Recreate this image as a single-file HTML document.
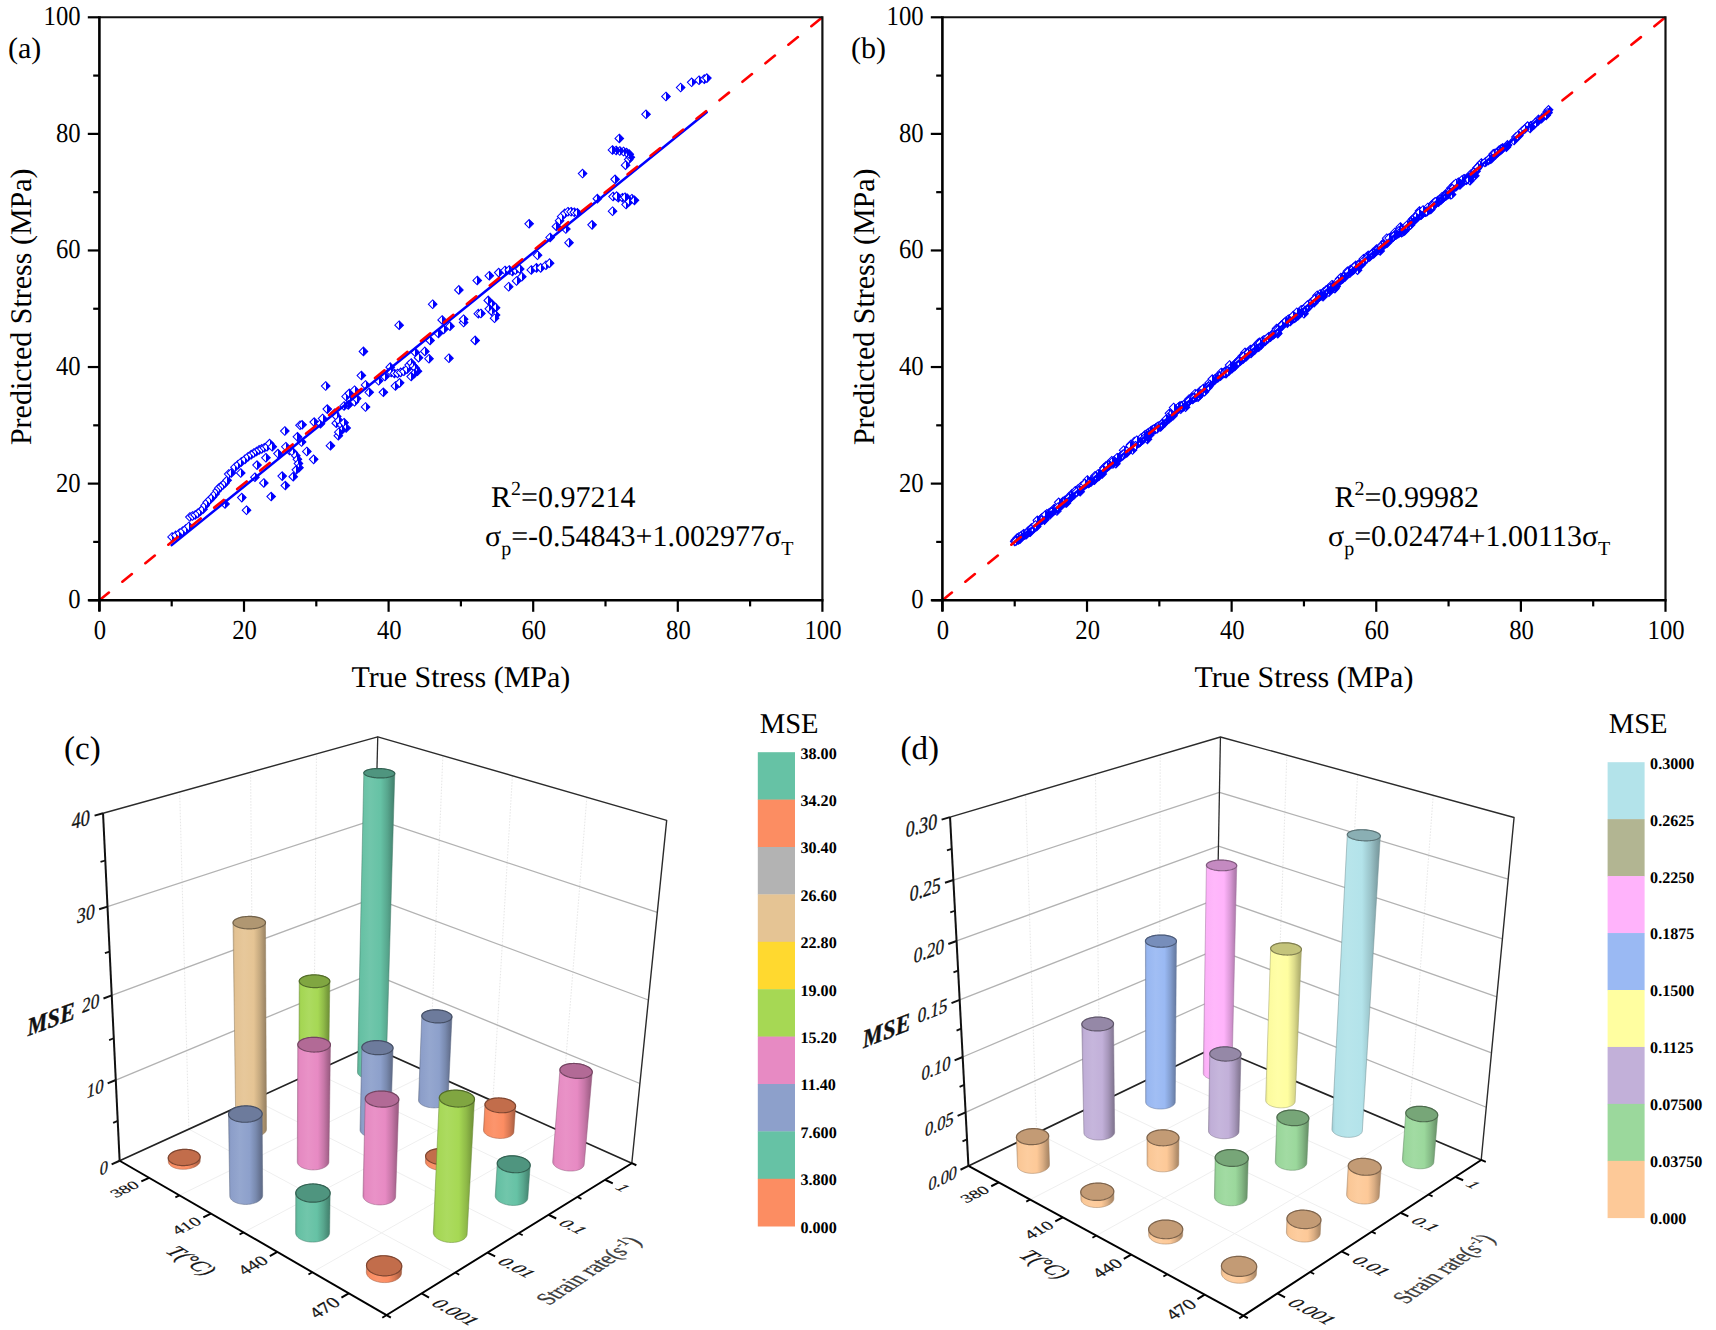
<!DOCTYPE html>
<html lang="en"><head><meta charset="utf-8"><title>Predicted vs true stress and MSE</title>
<style>html,body{margin:0;padding:0;background:#fff}body{width:1716px;height:1330px;overflow:hidden;font-family:"Liberation Serif", "DejaVu Serif", serif}svg{display:block}</style>
</head><body>
<svg width="1716" height="1330" viewBox="0 0 1716 1330" font-family='"Liberation Serif", "DejaVu Serif", serif' text-rendering="geometricPrecision">
<defs>
<linearGradient id="half" x1="0" y1="0" x2="1" y2="0"><stop offset="0.5" stop-color="#fff"/><stop offset="0.5" stop-color="#0000ff"/></linearGradient>
<linearGradient id="gc12" gradientUnits="userSpaceOnUse" x1="357.49" y1="0" x2="394.77" y2="0"><stop offset="0" stop-color="#5caf94"/><stop offset="0.07" stop-color="#65c0a3"/><stop offset="0.33" stop-color="#71c6ab"/><stop offset="0.62" stop-color="#66c2a5"/><stop offset="0.80" stop-color="#58a78e"/><stop offset="0.93" stop-color="#498c77"/><stop offset="1" stop-color="#43806d"/></linearGradient>
<linearGradient id="gc8" gradientUnits="userSpaceOnUse" x1="298.74" y1="0" x2="329.82" y2="0"><stop offset="0" stop-color="#95c24c"/><stop offset="0.07" stop-color="#a4d653"/><stop offset="0.33" stop-color="#acdb60"/><stop offset="0.62" stop-color="#a6d854"/><stop offset="0.80" stop-color="#8fba48"/><stop offset="0.93" stop-color="#789c3c"/><stop offset="1" stop-color="#6e8f37"/></linearGradient>
<linearGradient id="gc13" gradientUnits="userSpaceOnUse" x1="418.53" y1="0" x2="451.95" y2="0"><stop offset="0" stop-color="#7f90b7"/><stop offset="0.07" stop-color="#8c9ec9"/><stop offset="0.33" stop-color="#95a7cf"/><stop offset="0.62" stop-color="#8da0cb"/><stop offset="0.80" stop-color="#798aaf"/><stop offset="0.93" stop-color="#667392"/><stop offset="1" stop-color="#5d6a86"/></linearGradient>
<linearGradient id="gc4" gradientUnits="userSpaceOnUse" x1="233.03" y1="0" x2="266.49" y2="0"><stop offset="0" stop-color="#ceb085"/><stop offset="0.07" stop-color="#e3c293"/><stop offset="0.33" stop-color="#e7c89b"/><stop offset="0.62" stop-color="#e5c494"/><stop offset="0.80" stop-color="#c5a97f"/><stop offset="0.93" stop-color="#a58d6b"/><stop offset="1" stop-color="#978162"/></linearGradient>
<linearGradient id="gc9" gradientUnits="userSpaceOnUse" x1="360.04" y1="0" x2="393.05" y2="0"><stop offset="0" stop-color="#7f90b7"/><stop offset="0.07" stop-color="#8c9ec9"/><stop offset="0.33" stop-color="#95a7cf"/><stop offset="0.62" stop-color="#8da0cb"/><stop offset="0.80" stop-color="#798aaf"/><stop offset="0.93" stop-color="#667392"/><stop offset="1" stop-color="#5d6a86"/></linearGradient>
<linearGradient id="gc14" gradientUnits="userSpaceOnUse" x1="483.46" y1="0" x2="515.58" y2="0"><stop offset="0" stop-color="#e37f58"/><stop offset="0.07" stop-color="#f98c61"/><stop offset="0.33" stop-color="#fc956d"/><stop offset="0.62" stop-color="#fc8d62"/><stop offset="0.80" stop-color="#d97954"/><stop offset="0.93" stop-color="#b56647"/><stop offset="1" stop-color="#a65d41"/></linearGradient>
<linearGradient id="gc0" gradientUnits="userSpaceOnUse" x1="168.23" y1="0" x2="200.22" y2="0"><stop offset="0" stop-color="#e37f58"/><stop offset="0.07" stop-color="#f98c61"/><stop offset="0.33" stop-color="#fc956d"/><stop offset="0.62" stop-color="#fc8d62"/><stop offset="0.80" stop-color="#d97954"/><stop offset="0.93" stop-color="#b56647"/><stop offset="1" stop-color="#a65d41"/></linearGradient>
<linearGradient id="gc5" gradientUnits="userSpaceOnUse" x1="297.29" y1="0" x2="330.45" y2="0"><stop offset="0" stop-color="#d07cb0"/><stop offset="0.07" stop-color="#e589c1"/><stop offset="0.33" stop-color="#e992c7"/><stop offset="0.62" stop-color="#e78ac3"/><stop offset="0.80" stop-color="#c777a8"/><stop offset="0.93" stop-color="#a6638c"/><stop offset="1" stop-color="#985b81"/></linearGradient>
<linearGradient id="gc10" gradientUnits="userSpaceOnUse" x1="425.4" y1="0" x2="457.17" y2="0"><stop offset="0" stop-color="#e37f58"/><stop offset="0.07" stop-color="#f98c61"/><stop offset="0.33" stop-color="#fc956d"/><stop offset="0.62" stop-color="#fc8d62"/><stop offset="0.80" stop-color="#d97954"/><stop offset="0.93" stop-color="#b56647"/><stop offset="1" stop-color="#a65d41"/></linearGradient>
<linearGradient id="gc15" gradientUnits="userSpaceOnUse" x1="552.69" y1="0" x2="592.28" y2="0"><stop offset="0" stop-color="#d07cb0"/><stop offset="0.07" stop-color="#e589c1"/><stop offset="0.33" stop-color="#e992c7"/><stop offset="0.62" stop-color="#e78ac3"/><stop offset="0.80" stop-color="#c777a8"/><stop offset="0.93" stop-color="#a6638c"/><stop offset="1" stop-color="#985b81"/></linearGradient>
<linearGradient id="gc1" gradientUnits="userSpaceOnUse" x1="228.53" y1="0" x2="262.66" y2="0"><stop offset="0" stop-color="#7f90b7"/><stop offset="0.07" stop-color="#8c9ec9"/><stop offset="0.33" stop-color="#95a7cf"/><stop offset="0.62" stop-color="#8da0cb"/><stop offset="0.80" stop-color="#798aaf"/><stop offset="0.93" stop-color="#667392"/><stop offset="1" stop-color="#5d6a86"/></linearGradient>
<linearGradient id="gc6" gradientUnits="userSpaceOnUse" x1="362.96" y1="0" x2="398.82" y2="0"><stop offset="0" stop-color="#d07cb0"/><stop offset="0.07" stop-color="#e589c1"/><stop offset="0.33" stop-color="#e992c7"/><stop offset="0.62" stop-color="#e78ac3"/><stop offset="0.80" stop-color="#c777a8"/><stop offset="0.93" stop-color="#a6638c"/><stop offset="1" stop-color="#985b81"/></linearGradient>
<linearGradient id="gc11" gradientUnits="userSpaceOnUse" x1="495.23" y1="0" x2="530.19" y2="0"><stop offset="0" stop-color="#5caf94"/><stop offset="0.07" stop-color="#65c0a3"/><stop offset="0.33" stop-color="#71c6ab"/><stop offset="0.62" stop-color="#66c2a5"/><stop offset="0.80" stop-color="#58a78e"/><stop offset="0.93" stop-color="#498c77"/><stop offset="1" stop-color="#43806d"/></linearGradient>
<linearGradient id="gc2" gradientUnits="userSpaceOnUse" x1="295.63" y1="0" x2="330.14" y2="0"><stop offset="0" stop-color="#5caf94"/><stop offset="0.07" stop-color="#65c0a3"/><stop offset="0.33" stop-color="#71c6ab"/><stop offset="0.62" stop-color="#66c2a5"/><stop offset="0.80" stop-color="#58a78e"/><stop offset="0.93" stop-color="#498c77"/><stop offset="1" stop-color="#43806d"/></linearGradient>
<linearGradient id="gc7" gradientUnits="userSpaceOnUse" x1="433.3" y1="0" x2="474.51" y2="0"><stop offset="0" stop-color="#95c24c"/><stop offset="0.07" stop-color="#a4d653"/><stop offset="0.33" stop-color="#acdb60"/><stop offset="0.62" stop-color="#a6d854"/><stop offset="0.80" stop-color="#8fba48"/><stop offset="0.93" stop-color="#789c3c"/><stop offset="1" stop-color="#6e8f37"/></linearGradient>
<linearGradient id="gc3" gradientUnits="userSpaceOnUse" x1="366.34" y1="0" x2="401.75" y2="0"><stop offset="0" stop-color="#e37f58"/><stop offset="0.07" stop-color="#f98c61"/><stop offset="0.33" stop-color="#fc956d"/><stop offset="0.62" stop-color="#fc8d62"/><stop offset="0.80" stop-color="#d97954"/><stop offset="0.93" stop-color="#b56647"/><stop offset="1" stop-color="#a65d41"/></linearGradient>
<linearGradient id="gd12" gradientUnits="userSpaceOnUse" x1="1203.29" y1="0" x2="1236.72" y2="0"><stop offset="0" stop-color="#e6a1e2"/><stop offset="0.07" stop-color="#fcb1f8"/><stop offset="0.33" stop-color="#ffb8fb"/><stop offset="0.62" stop-color="#ffb3fb"/><stop offset="0.80" stop-color="#db9ad8"/><stop offset="0.93" stop-color="#b881b5"/><stop offset="1" stop-color="#a876a6"/></linearGradient>
<linearGradient id="gd8" gradientUnits="userSpaceOnUse" x1="1145.44" y1="0" x2="1176.44" y2="0"><stop offset="0" stop-color="#8ba6db"/><stop offset="0.07" stop-color="#98b7f1"/><stop offset="0.33" stop-color="#a1bef4"/><stop offset="0.62" stop-color="#9ab9f3"/><stop offset="0.80" stop-color="#849fd1"/><stop offset="0.93" stop-color="#6f85af"/><stop offset="1" stop-color="#667aa0"/></linearGradient>
<linearGradient id="gd13" gradientUnits="userSpaceOnUse" x1="1265.67" y1="0" x2="1301.44" y2="0"><stop offset="0" stop-color="#e6e590"/><stop offset="0.07" stop-color="#fcfb9e"/><stop offset="0.33" stop-color="#fffea7"/><stop offset="0.62" stop-color="#fffea0"/><stop offset="0.80" stop-color="#dbda8a"/><stop offset="0.93" stop-color="#b8b773"/><stop offset="1" stop-color="#a8a86a"/></linearGradient>
<linearGradient id="gd4" gradientUnits="userSpaceOnUse" x1="1081.82" y1="0" x2="1114.64" y2="0"><stop offset="0" stop-color="#af9ec3"/><stop offset="0.07" stop-color="#c0aed7"/><stop offset="0.33" stop-color="#c6b6dc"/><stop offset="0.62" stop-color="#c2b0d9"/><stop offset="0.80" stop-color="#a797bb"/><stop offset="0.93" stop-color="#8c7f9c"/><stop offset="1" stop-color="#80748f"/></linearGradient>
<linearGradient id="gd9" gradientUnits="userSpaceOnUse" x1="1208.48" y1="0" x2="1240.98" y2="0"><stop offset="0" stop-color="#af9ec3"/><stop offset="0.07" stop-color="#c0aed7"/><stop offset="0.33" stop-color="#c6b6dc"/><stop offset="0.62" stop-color="#c2b0d9"/><stop offset="0.80" stop-color="#a797bb"/><stop offset="0.93" stop-color="#8c7f9c"/><stop offset="1" stop-color="#80748f"/></linearGradient>
<linearGradient id="gd14" gradientUnits="userSpaceOnUse" x1="1331.91" y1="0" x2="1380.33" y2="0"><stop offset="0" stop-color="#a1ccd3"/><stop offset="0.07" stop-color="#b1e1e8"/><stop offset="0.33" stop-color="#b8e5eb"/><stop offset="0.62" stop-color="#b3e3ea"/><stop offset="0.80" stop-color="#9ac3c9"/><stop offset="0.93" stop-color="#81a3a8"/><stop offset="1" stop-color="#76969a"/></linearGradient>
<linearGradient id="gd0" gradientUnits="userSpaceOnUse" x1="1016.42" y1="0" x2="1049.52" y2="0"><stop offset="0" stop-color="#e4b589"/><stop offset="0.07" stop-color="#fac796"/><stop offset="0.33" stop-color="#fdcd9f"/><stop offset="0.62" stop-color="#fdc998"/><stop offset="0.80" stop-color="#daad83"/><stop offset="0.93" stop-color="#b6916d"/><stop offset="1" stop-color="#a78564"/></linearGradient>
<linearGradient id="gd5" gradientUnits="userSpaceOnUse" x1="1147.02" y1="0" x2="1178.95" y2="0"><stop offset="0" stop-color="#e4b589"/><stop offset="0.07" stop-color="#fac796"/><stop offset="0.33" stop-color="#fdcd9f"/><stop offset="0.62" stop-color="#fdc998"/><stop offset="0.80" stop-color="#daad83"/><stop offset="0.93" stop-color="#b6916d"/><stop offset="1" stop-color="#a78564"/></linearGradient>
<linearGradient id="gd10" gradientUnits="userSpaceOnUse" x1="1275.32" y1="0" x2="1308.87" y2="0"><stop offset="0" stop-color="#8cc28c"/><stop offset="0.07" stop-color="#99d69a"/><stop offset="0.33" stop-color="#a2dba3"/><stop offset="0.62" stop-color="#9bd89c"/><stop offset="0.80" stop-color="#85ba86"/><stop offset="0.93" stop-color="#709c70"/><stop offset="1" stop-color="#668f67"/></linearGradient>
<linearGradient id="gd15" gradientUnits="userSpaceOnUse" x1="1402.38" y1="0" x2="1437.73" y2="0"><stop offset="0" stop-color="#8cc28c"/><stop offset="0.07" stop-color="#99d69a"/><stop offset="0.33" stop-color="#a2dba3"/><stop offset="0.62" stop-color="#9bd89c"/><stop offset="0.80" stop-color="#85ba86"/><stop offset="0.93" stop-color="#709c70"/><stop offset="1" stop-color="#668f67"/></linearGradient>
<linearGradient id="gd1" gradientUnits="userSpaceOnUse" x1="1080.76" y1="0" x2="1113.88" y2="0"><stop offset="0" stop-color="#e4b589"/><stop offset="0.07" stop-color="#fac796"/><stop offset="0.33" stop-color="#fdcd9f"/><stop offset="0.62" stop-color="#fdc998"/><stop offset="0.80" stop-color="#daad83"/><stop offset="0.93" stop-color="#b6916d"/><stop offset="1" stop-color="#a78564"/></linearGradient>
<linearGradient id="gd6" gradientUnits="userSpaceOnUse" x1="1214.42" y1="0" x2="1248.24" y2="0"><stop offset="0" stop-color="#8cc28c"/><stop offset="0.07" stop-color="#99d69a"/><stop offset="0.33" stop-color="#a2dba3"/><stop offset="0.62" stop-color="#9bd89c"/><stop offset="0.80" stop-color="#85ba86"/><stop offset="0.93" stop-color="#709c70"/><stop offset="1" stop-color="#668f67"/></linearGradient>
<linearGradient id="gd11" gradientUnits="userSpaceOnUse" x1="1346.6" y1="0" x2="1381.12" y2="0"><stop offset="0" stop-color="#e4b589"/><stop offset="0.07" stop-color="#fac796"/><stop offset="0.33" stop-color="#fdcd9f"/><stop offset="0.62" stop-color="#fdc998"/><stop offset="0.80" stop-color="#daad83"/><stop offset="0.93" stop-color="#b6916d"/><stop offset="1" stop-color="#a78564"/></linearGradient>
<linearGradient id="gd2" gradientUnits="userSpaceOnUse" x1="1148.65" y1="0" x2="1182.74" y2="0"><stop offset="0" stop-color="#e4b589"/><stop offset="0.07" stop-color="#fac796"/><stop offset="0.33" stop-color="#fdcd9f"/><stop offset="0.62" stop-color="#fdc998"/><stop offset="0.80" stop-color="#daad83"/><stop offset="0.93" stop-color="#b6916d"/><stop offset="1" stop-color="#a78564"/></linearGradient>
<linearGradient id="gd7" gradientUnits="userSpaceOnUse" x1="1286.4" y1="0" x2="1320.93" y2="0"><stop offset="0" stop-color="#e4b589"/><stop offset="0.07" stop-color="#fac796"/><stop offset="0.33" stop-color="#fdcd9f"/><stop offset="0.62" stop-color="#fdc998"/><stop offset="0.80" stop-color="#daad83"/><stop offset="0.93" stop-color="#b6916d"/><stop offset="1" stop-color="#a78564"/></linearGradient>
<linearGradient id="gd3" gradientUnits="userSpaceOnUse" x1="1221.27" y1="0" x2="1256.71" y2="0"><stop offset="0" stop-color="#e4b589"/><stop offset="0.07" stop-color="#fac796"/><stop offset="0.33" stop-color="#fdcd9f"/><stop offset="0.62" stop-color="#fdc998"/><stop offset="0.80" stop-color="#daad83"/><stop offset="0.93" stop-color="#b6916d"/><stop offset="1" stop-color="#a78564"/></linearGradient>
</defs>
<rect width="1716" height="1330" fill="#fff"/>
<g font-family='"Liberation Serif", "DejaVu Serif", serif'>
<g fill="url(#half)" stroke="#0000ff" stroke-width="1.05"><path d="M172.06,532.66l4.3,4.3l-4.3,4.3l-4.3,-4.3z"/><path d="M175.73,531.08l4.3,4.3l-4.3,4.3l-4.3,-4.3z"/><path d="M179.41,528.99l4.3,4.3l-4.3,4.3l-4.3,-4.3z"/><path d="M182.55,526.89l4.3,4.3l-4.3,4.3l-4.3,-4.3z"/><path d="M185.7,524.79l4.3,4.3l-4.3,4.3l-4.3,-4.3z"/><path d="M188.85,522.17l4.3,4.3l-4.3,4.3l-4.3,-4.3z"/><path d="M189.9,512.73l4.3,4.3l-4.3,4.3l-4.3,-4.3z"/><path d="M192.52,511.68l4.3,4.3l-4.3,4.3l-4.3,-4.3z"/><path d="M195.14,510.63l4.3,4.3l-4.3,4.3l-4.3,-4.3z"/><path d="M197.76,509.06l4.3,4.3l-4.3,4.3l-4.3,-4.3z"/><path d="M200.38,506.96l4.3,4.3l-4.3,4.3l-4.3,-4.3z"/><path d="M203.01,504.86l4.3,4.3l-4.3,4.3l-4.3,-4.3z"/><path d="M205.1,501.19l4.3,4.3l-4.3,4.3l-4.3,-4.3z"/><path d="M207.2,498.04l4.3,4.3l-4.3,4.3l-4.3,-4.3z"/><path d="M209.83,495.42l4.3,4.3l-4.3,4.3l-4.3,-4.3z"/><path d="M212.45,492.8l4.3,4.3l-4.3,4.3l-4.3,-4.3z"/><path d="M215.07,489.65l4.3,4.3l-4.3,4.3l-4.3,-4.3z"/><path d="M217.17,486.5l4.3,4.3l-4.3,4.3l-4.3,-4.3z"/><path d="M218.74,483.88l4.3,4.3l-4.3,4.3l-4.3,-4.3z"/><path d="M220.84,482.31l4.3,4.3l-4.3,4.3l-4.3,-4.3z"/><path d="M222.94,480.73l4.3,4.3l-4.3,4.3l-4.3,-4.3z"/><path d="M225.03,478.64l4.3,4.3l-4.3,4.3l-4.3,-4.3z"/><path d="M227.13,476.01l4.3,4.3l-4.3,4.3l-4.3,-4.3z"/><path d="M228.71,469.72l4.3,4.3l-4.3,4.3l-4.3,-4.3z"/><path d="M231.33,468.67l4.3,4.3l-4.3,4.3l-4.3,-4.3z"/><path d="M235,462.9l4.3,4.3l-4.3,4.3l-4.3,-4.3z"/><path d="M238.15,460.28l4.3,4.3l-4.3,4.3l-4.3,-4.3z"/><path d="M241.29,457.66l4.3,4.3l-4.3,4.3l-4.3,-4.3z"/><path d="M244.97,455.04l4.3,4.3l-4.3,4.3l-4.3,-4.3z"/><path d="M248.11,452.41l4.3,4.3l-4.3,4.3l-4.3,-4.3z"/><path d="M251.26,450.32l4.3,4.3l-4.3,4.3l-4.3,-4.3z"/><path d="M253.88,448.74l4.3,4.3l-4.3,4.3l-4.3,-4.3z"/><path d="M256.5,447.17l4.3,4.3l-4.3,4.3l-4.3,-4.3z"/><path d="M259.13,445.6l4.3,4.3l-4.3,4.3l-4.3,-4.3z"/><path d="M261.75,444.55l4.3,4.3l-4.3,4.3l-4.3,-4.3z"/><path d="M264.37,443.5l4.3,4.3l-4.3,4.3l-4.3,-4.3z"/><path d="M266.99,442.45l4.3,4.3l-4.3,4.3l-4.3,-4.3z"/><path d="M269.62,439.3l4.3,4.3l-4.3,4.3l-4.3,-4.3z"/><path d="M272.24,442.45l4.3,4.3l-4.3,4.3l-4.3,-4.3z"/><path d="M240.77,468.67l4.3,4.3l-4.3,4.3l-4.3,-4.3z"/><path d="M257.03,460.8l4.3,4.3l-4.3,4.3l-4.3,-4.3z"/><path d="M265.94,453.46l4.3,4.3l-4.3,4.3l-4.3,-4.3z"/><path d="M278.01,449.27l4.3,4.3l-4.3,4.3l-4.3,-4.3z"/><path d="M284.83,426.71l4.3,4.3l-4.3,4.3l-4.3,-4.3z"/><path d="M300.03,420.94l4.3,4.3l-4.3,4.3l-4.3,-4.3z"/><path d="M297.41,432.48l4.3,4.3l-4.3,4.3l-4.3,-4.3z"/><path d="M301.61,437.73l4.3,4.3l-4.3,4.3l-4.3,-4.3z"/><path d="M306.85,447.17l4.3,4.3l-4.3,4.3l-4.3,-4.3z"/><path d="M313.67,455.04l4.3,4.3l-4.3,4.3l-4.3,-4.3z"/><path d="M330.45,441.4l4.3,4.3l-4.3,4.3l-4.3,-4.3z"/><path d="M254.93,472.87l4.3,4.3l-4.3,4.3l-4.3,-4.3z"/><path d="M263.85,478.64l4.3,4.3l-4.3,4.3l-4.3,-4.3z"/><path d="M282.2,471.82l4.3,4.3l-4.3,4.3l-4.3,-4.3z"/><path d="M293.22,472.34l4.3,4.3l-4.3,4.3l-4.3,-4.3z"/><path d="M285.35,481.26l4.3,4.3l-4.3,4.3l-4.3,-4.3z"/><path d="M271.19,492.27l4.3,4.3l-4.3,4.3l-4.3,-4.3z"/><path d="M241.82,493.32l4.3,4.3l-4.3,4.3l-4.3,-4.3z"/><path d="M225.03,499.62l4.3,4.3l-4.3,4.3l-4.3,-4.3z"/><path d="M246.54,505.91l4.3,4.3l-4.3,4.3l-4.3,-4.3z"/><path d="M285.87,442.45l4.3,4.3l-4.3,4.3l-4.3,-4.3z"/><path d="M289.55,446.12l4.3,4.3l-4.3,4.3l-4.3,-4.3z"/><path d="M293.22,448.22l4.3,4.3l-4.3,4.3l-4.3,-4.3z"/><path d="M295.84,451.36l4.3,4.3l-4.3,4.3l-4.3,-4.3z"/><path d="M297.41,455.04l4.3,4.3l-4.3,4.3l-4.3,-4.3z"/><path d="M298.46,459.23l4.3,4.3l-4.3,4.3l-4.3,-4.3z"/><path d="M298.99,463.43l4.3,4.3l-4.3,4.3l-4.3,-4.3z"/><path d="M296.36,465.53l4.3,4.3l-4.3,4.3l-4.3,-4.3z"/><path d="M314.2,417.8l4.3,4.3l-4.3,4.3l-4.3,-4.3z"/><path d="M320.49,419.37l4.3,4.3l-4.3,4.3l-4.3,-4.3z"/><path d="M336.22,418.85l4.3,4.3l-4.3,4.3l-4.3,-4.3z"/><path d="M338.32,431.43l4.3,4.3l-4.3,4.3l-4.3,-4.3z"/><path d="M302.1,420.53l4.3,4.3l-4.3,4.3l-4.3,-4.3z"/><path d="M322.55,414.23l4.3,4.3l-4.3,4.3l-4.3,-4.3z"/><path d="M327.27,404.79l4.3,4.3l-4.3,4.3l-4.3,-4.3z"/><path d="M325.7,381.71l4.3,4.3l-4.3,4.3l-4.3,-4.3z"/><path d="M361.36,371.22l4.3,4.3l-4.3,4.3l-4.3,-4.3z"/><path d="M363.46,347.1l4.3,4.3l-4.3,4.3l-4.3,-4.3z"/><path d="M399.13,320.87l4.3,4.3l-4.3,4.3l-4.3,-4.3z"/><path d="M432.69,299.9l4.3,4.3l-4.3,4.3l-4.3,-4.3z"/><path d="M442.13,315.63l4.3,4.3l-4.3,4.3l-4.3,-4.3z"/><path d="M463.64,318.25l4.3,4.3l-4.3,4.3l-4.3,-4.3z"/><path d="M475.17,336.08l4.3,4.3l-4.3,4.3l-4.3,-4.3z"/><path d="M448.95,353.92l4.3,4.3l-4.3,4.3l-4.3,-4.3z"/><path d="M478.32,309.34l4.3,4.3l-4.3,4.3l-4.3,-4.3z"/><path d="M334.62,408.99l4.3,4.3l-4.3,4.3l-4.3,-4.3z"/><path d="M336.71,412.13l4.3,4.3l-4.3,4.3l-4.3,-4.3z"/><path d="M338.81,416.33l4.3,4.3l-4.3,4.3l-4.3,-4.3z"/><path d="M341.43,420.53l4.3,4.3l-4.3,4.3l-4.3,-4.3z"/><path d="M344.06,418.43l4.3,4.3l-4.3,4.3l-4.3,-4.3z"/><path d="M346.15,423.67l4.3,4.3l-4.3,4.3l-4.3,-4.3z"/><path d="M341.96,425.77l4.3,4.3l-4.3,4.3l-4.3,-4.3z"/><path d="M338.81,427.87l4.3,4.3l-4.3,4.3l-4.3,-4.3z"/><path d="M346.15,392.2l4.3,4.3l-4.3,4.3l-4.3,-4.3z"/><path d="M349.3,389.06l4.3,4.3l-4.3,4.3l-4.3,-4.3z"/><path d="M354.55,385.91l4.3,4.3l-4.3,4.3l-4.3,-4.3z"/><path d="M350.35,396.4l4.3,4.3l-4.3,4.3l-4.3,-4.3z"/><path d="M354.55,397.45l4.3,4.3l-4.3,4.3l-4.3,-4.3z"/><path d="M348.25,400.6l4.3,4.3l-4.3,4.3l-4.3,-4.3z"/><path d="M344.06,401.64l4.3,4.3l-4.3,4.3l-4.3,-4.3z"/><path d="M356.64,394.3l4.3,4.3l-4.3,4.3l-4.3,-4.3z"/><path d="M365.56,380.67l4.3,4.3l-4.3,4.3l-4.3,-4.3z"/><path d="M369.23,388.01l4.3,4.3l-4.3,4.3l-4.3,-4.3z"/><path d="M383.39,388.01l4.3,4.3l-4.3,4.3l-4.3,-4.3z"/><path d="M365.56,402.69l4.3,4.3l-4.3,4.3l-4.3,-4.3z"/><path d="M378.67,376.47l4.3,4.3l-4.3,4.3l-4.3,-4.3z"/><path d="M384.97,372.27l4.3,4.3l-4.3,4.3l-4.3,-4.3z"/><path d="M390.21,362.83l4.3,4.3l-4.3,4.3l-4.3,-4.3z"/><path d="M391.26,368.08l4.3,4.3l-4.3,4.3l-4.3,-4.3z"/><path d="M394.41,369.13l4.3,4.3l-4.3,4.3l-4.3,-4.3z"/><path d="M397.55,369.13l4.3,4.3l-4.3,4.3l-4.3,-4.3z"/><path d="M400.7,368.08l4.3,4.3l-4.3,4.3l-4.3,-4.3z"/><path d="M403.85,367.03l4.3,4.3l-4.3,4.3l-4.3,-4.3z"/><path d="M406.99,364.93l4.3,4.3l-4.3,4.3l-4.3,-4.3z"/><path d="M409.09,360.73l4.3,4.3l-4.3,4.3l-4.3,-4.3z"/><path d="M411.19,358.64l4.3,4.3l-4.3,4.3l-4.3,-4.3z"/><path d="M413.29,361.78l4.3,4.3l-4.3,4.3l-4.3,-4.3z"/><path d="M415.38,363.88l4.3,4.3l-4.3,4.3l-4.3,-4.3z"/><path d="M417.48,367.03l4.3,4.3l-4.3,4.3l-4.3,-4.3z"/><path d="M414.34,369.13l4.3,4.3l-4.3,4.3l-4.3,-4.3z"/><path d="M411.19,372.27l4.3,4.3l-4.3,4.3l-4.3,-4.3z"/><path d="M395.45,381.71l4.3,4.3l-4.3,4.3l-4.3,-4.3z"/><path d="M399.65,378.57l4.3,4.3l-4.3,4.3l-4.3,-4.3z"/><path d="M415.38,348.15l4.3,4.3l-4.3,4.3l-4.3,-4.3z"/><path d="M418.53,353.39l4.3,4.3l-4.3,4.3l-4.3,-4.3z"/><path d="M424.83,347.1l4.3,4.3l-4.3,4.3l-4.3,-4.3z"/><path d="M429.02,354.44l4.3,4.3l-4.3,4.3l-4.3,-4.3z"/><path d="M430.07,336.08l4.3,4.3l-4.3,4.3l-4.3,-4.3z"/><path d="M438.46,329.27l4.3,4.3l-4.3,4.3l-4.3,-4.3z"/><path d="M443.71,325.07l4.3,4.3l-4.3,4.3l-4.3,-4.3z"/><path d="M450,321.92l4.3,4.3l-4.3,4.3l-4.3,-4.3z"/><path d="M458.88,285.6l4.3,4.3l-4.3,4.3l-4.3,-4.3z"/><path d="M477.24,276.15l4.3,4.3l-4.3,4.3l-4.3,-4.3z"/><path d="M489.3,271.43l4.3,4.3l-4.3,4.3l-4.3,-4.3z"/><path d="M498.74,268.29l4.3,4.3l-4.3,4.3l-4.3,-4.3z"/><path d="M505.03,266.19l4.3,4.3l-4.3,4.3l-4.3,-4.3z"/><path d="M509.23,265.67l4.3,4.3l-4.3,4.3l-4.3,-4.3z"/><path d="M512.38,267.24l4.3,4.3l-4.3,4.3l-4.3,-4.3z"/><path d="M515.52,265.67l4.3,4.3l-4.3,4.3l-4.3,-4.3z"/><path d="M519.72,264.62l4.3,4.3l-4.3,4.3l-4.3,-4.3z"/><path d="M508.71,282.45l4.3,4.3l-4.3,4.3l-4.3,-4.3z"/><path d="M516.57,276.68l4.3,4.3l-4.3,4.3l-4.3,-4.3z"/><path d="M521.82,272.48l4.3,4.3l-4.3,4.3l-4.3,-4.3z"/><path d="M531.26,265.67l4.3,4.3l-4.3,4.3l-4.3,-4.3z"/><path d="M536.5,263.57l4.3,4.3l-4.3,4.3l-4.3,-4.3z"/><path d="M540.7,263.57l4.3,4.3l-4.3,4.3l-4.3,-4.3z"/><path d="M545.94,260.94l4.3,4.3l-4.3,4.3l-4.3,-4.3z"/><path d="M549.62,258.85l4.3,4.3l-4.3,4.3l-4.3,-4.3z"/><path d="M537.55,250.98l4.3,4.3l-4.3,4.3l-4.3,-4.3z"/><path d="M550.14,233.15l4.3,4.3l-4.3,4.3l-4.3,-4.3z"/><path d="M529.16,219.51l4.3,4.3l-4.3,4.3l-4.3,-4.3z"/><path d="M569.02,238.39l4.3,4.3l-4.3,4.3l-4.3,-4.3z"/><path d="M565.87,224.76l4.3,4.3l-4.3,4.3l-4.3,-4.3z"/><path d="M556.43,222.13l4.3,4.3l-4.3,4.3l-4.3,-4.3z"/><path d="M559.58,216.36l4.3,4.3l-4.3,4.3l-4.3,-4.3z"/><path d="M561.68,212.17l4.3,4.3l-4.3,4.3l-4.3,-4.3z"/><path d="M564.83,209.02l4.3,4.3l-4.3,4.3l-4.3,-4.3z"/><path d="M567.97,207.45l4.3,4.3l-4.3,4.3l-4.3,-4.3z"/><path d="M571.12,207.45l4.3,4.3l-4.3,4.3l-4.3,-4.3z"/><path d="M574.27,207.97l4.3,4.3l-4.3,4.3l-4.3,-4.3z"/><path d="M577.41,208.5l4.3,4.3l-4.3,4.3l-4.3,-4.3z"/><path d="M592.1,220.56l4.3,4.3l-4.3,4.3l-4.3,-4.3z"/><path d="M612.55,206.92l4.3,4.3l-4.3,4.3l-4.3,-4.3z"/><path d="M597.34,194.34l4.3,4.3l-4.3,4.3l-4.3,-4.3z"/><path d="M613.08,192.24l4.3,4.3l-4.3,4.3l-4.3,-4.3z"/><path d="M618.32,193.29l4.3,4.3l-4.3,4.3l-4.3,-4.3z"/><path d="M488.25,296.08l4.3,4.3l-4.3,4.3l-4.3,-4.3z"/><path d="M492.45,300.28l4.3,4.3l-4.3,4.3l-4.3,-4.3z"/><path d="M495.59,303.43l4.3,4.3l-4.3,4.3l-4.3,-4.3z"/><path d="M489.3,304.48l4.3,4.3l-4.3,4.3l-4.3,-4.3z"/><path d="M480.91,309.2l4.3,4.3l-4.3,4.3l-4.3,-4.3z"/><path d="M492.45,307.62l4.3,4.3l-4.3,4.3l-4.3,-4.3z"/><path d="M495.59,310.77l4.3,4.3l-4.3,4.3l-4.3,-4.3z"/><path d="M494.55,313.92l4.3,4.3l-4.3,4.3l-4.3,-4.3z"/><path d="M463.6,314.97l4.3,4.3l-4.3,4.3l-4.3,-4.3z"/><path d="M582.59,169.27l4.3,4.3l-4.3,4.3l-4.3,-4.3z"/><path d="M615.1,175.04l4.3,4.3l-4.3,4.3l-4.3,-4.3z"/><path d="M625.59,160.87l4.3,4.3l-4.3,4.3l-4.3,-4.3z"/><path d="M619.3,134.13l4.3,4.3l-4.3,4.3l-4.3,-4.3z"/><path d="M646.05,110l4.3,4.3l-4.3,4.3l-4.3,-4.3z"/><path d="M665.98,92.17l4.3,4.3l-4.3,4.3l-4.3,-4.3z"/><path d="M680.66,83.25l4.3,4.3l-4.3,4.3l-4.3,-4.3z"/><path d="M691.68,78.01l4.3,4.3l-4.3,4.3l-4.3,-4.3z"/><path d="M699.02,75.91l4.3,4.3l-4.3,4.3l-4.3,-4.3z"/><path d="M704.27,74.86l4.3,4.3l-4.3,4.3l-4.3,-4.3z"/><path d="M706.89,73.81l4.3,4.3l-4.3,4.3l-4.3,-4.3z"/><path d="M628.74,155.11l4.3,4.3l-4.3,4.3l-4.3,-4.3z"/><path d="M630.31,153.01l4.3,4.3l-4.3,4.3l-4.3,-4.3z"/><path d="M629.27,149.86l4.3,4.3l-4.3,4.3l-4.3,-4.3z"/><path d="M626.64,148.29l4.3,4.3l-4.3,4.3l-4.3,-4.3z"/><path d="M623.5,147.24l4.3,4.3l-4.3,4.3l-4.3,-4.3z"/><path d="M619.83,146.71l4.3,4.3l-4.3,4.3l-4.3,-4.3z"/><path d="M616.15,146.19l4.3,4.3l-4.3,4.3l-4.3,-4.3z"/><path d="M612.48,145.67l4.3,4.3l-4.3,4.3l-4.3,-4.3z"/><path d="M631.89,194.44l4.3,4.3l-4.3,4.3l-4.3,-4.3z"/><path d="M627.17,193.92l4.3,4.3l-4.3,4.3l-4.3,-4.3z"/><path d="M622.45,193.39l4.3,4.3l-4.3,4.3l-4.3,-4.3z"/><path d="M626.08,200.25l4.3,4.3l-4.3,4.3l-4.3,-4.3z"/><path d="M629.23,197.1l4.3,4.3l-4.3,4.3l-4.3,-4.3z"/><path d="M634.48,196.05l4.3,4.3l-4.3,4.3l-4.3,-4.3z"/><path d="M625.03,192.9l4.3,4.3l-4.3,4.3l-4.3,-4.3z"/><path d="M616.64,191.85l4.3,4.3l-4.3,4.3l-4.3,-4.3z"/></g>
<line x1="171.7" y1="545.12" x2="706.72" y2="112.31" stroke="#0000ff" stroke-width="2.5" stroke-linecap="round"/>
<line x1="99.4" y1="600.2" x2="822.4" y2="17.3" stroke="#ff0000" stroke-width="2.6" stroke-dasharray="12.2 17.3" stroke-linecap="round"/>
<line x1="99.4" y1="17.3" x2="822.4" y2="17.3" stroke="#111" stroke-width="2" />
<line x1="822.4" y1="16.3" x2="822.4" y2="600.2" stroke="#111" stroke-width="2.2" />
<line x1="99.4" y1="16.3" x2="99.4" y2="611.2" stroke="#000" stroke-width="2.6" />
<line x1="88.4" y1="600.2" x2="823.5" y2="600.2" stroke="#000" stroke-width="2.6" />
<line x1="99.4" y1="600.2" x2="99.4" y2="611.8" stroke="#000" stroke-width="2.2" />
<line x1="87.8" y1="600.2" x2="99.4" y2="600.2" stroke="#000" stroke-width="2.2" />
<text transform="translate(100,638.8) scale(0.9,1)" font-size="27.4" text-anchor="middle">0</text>
<text transform="translate(80.6,608.2) scale(0.9,1)" font-size="27.4" text-anchor="end">0</text>
<line x1="171.7" y1="600.2" x2="171.7" y2="606.4" stroke="#000" stroke-width="2.2" />
<line x1="93.2" y1="541.91" x2="99.4" y2="541.91" stroke="#000" stroke-width="2.2" />
<line x1="244" y1="600.2" x2="244" y2="611.8" stroke="#000" stroke-width="2.2" />
<line x1="87.8" y1="483.62" x2="99.4" y2="483.62" stroke="#000" stroke-width="2.2" />
<text transform="translate(244.6,638.8) scale(0.9,1)" font-size="27.4" text-anchor="middle">20</text>
<text transform="translate(80.6,491.62) scale(0.9,1)" font-size="27.4" text-anchor="end">20</text>
<line x1="316.3" y1="600.2" x2="316.3" y2="606.4" stroke="#000" stroke-width="2.2" />
<line x1="93.2" y1="425.33" x2="99.4" y2="425.33" stroke="#000" stroke-width="2.2" />
<line x1="388.6" y1="600.2" x2="388.6" y2="611.8" stroke="#000" stroke-width="2.2" />
<line x1="87.8" y1="367.04" x2="99.4" y2="367.04" stroke="#000" stroke-width="2.2" />
<text transform="translate(389.2,638.8) scale(0.9,1)" font-size="27.4" text-anchor="middle">40</text>
<text transform="translate(80.6,375.04) scale(0.9,1)" font-size="27.4" text-anchor="end">40</text>
<line x1="460.9" y1="600.2" x2="460.9" y2="606.4" stroke="#000" stroke-width="2.2" />
<line x1="93.2" y1="308.75" x2="99.4" y2="308.75" stroke="#000" stroke-width="2.2" />
<line x1="533.2" y1="600.2" x2="533.2" y2="611.8" stroke="#000" stroke-width="2.2" />
<line x1="87.8" y1="250.46" x2="99.4" y2="250.46" stroke="#000" stroke-width="2.2" />
<text transform="translate(533.8,638.8) scale(0.9,1)" font-size="27.4" text-anchor="middle">60</text>
<text transform="translate(80.6,258.46) scale(0.9,1)" font-size="27.4" text-anchor="end">60</text>
<line x1="605.5" y1="600.2" x2="605.5" y2="606.4" stroke="#000" stroke-width="2.2" />
<line x1="93.2" y1="192.17" x2="99.4" y2="192.17" stroke="#000" stroke-width="2.2" />
<line x1="677.8" y1="600.2" x2="677.8" y2="611.8" stroke="#000" stroke-width="2.2" />
<line x1="87.8" y1="133.88" x2="99.4" y2="133.88" stroke="#000" stroke-width="2.2" />
<text transform="translate(678.4,638.8) scale(0.9,1)" font-size="27.4" text-anchor="middle">80</text>
<text transform="translate(80.6,141.88) scale(0.9,1)" font-size="27.4" text-anchor="end">80</text>
<line x1="750.1" y1="600.2" x2="750.1" y2="606.4" stroke="#000" stroke-width="2.2" />
<line x1="93.2" y1="75.59" x2="99.4" y2="75.59" stroke="#000" stroke-width="2.2" />
<line x1="822.4" y1="600.2" x2="822.4" y2="611.8" stroke="#000" stroke-width="2.2" />
<line x1="87.8" y1="17.3" x2="99.4" y2="17.3" stroke="#000" stroke-width="2.2" />
<text transform="translate(823,638.8) scale(0.9,1)" font-size="27.4" text-anchor="middle">100</text>
<text transform="translate(80.6,25.3) scale(0.9,1)" font-size="27.4" text-anchor="end">100</text>
<text x="460.9" y="686.5" font-size="30" text-anchor="middle" fill="#000" >True Stress (MPa)</text>
<text transform="translate(30.9,306.75) rotate(-90)" font-size="30" text-anchor="middle">Predicted Stress (MPa)</text>
<text x="7.9" y="58.3" font-size="30" text-anchor="start" fill="#000" >(a)</text>
<text x="491" y="507.3" font-size="30">R<tspan dy="-12" font-size="20">2</tspan><tspan dy="12">=0.97214</tspan></text>
<text x="485" y="546.3" font-size="30">σ<tspan dy="8.5" font-size="20">p</tspan><tspan dy="-8.5">=-0.54843+1.002977σ</tspan><tspan dy="8.5" font-size="20">T</tspan></text>
</g>
<g font-family='"Liberation Serif", "DejaVu Serif", serif'>
<g fill="url(#half)" stroke="#0000ff" stroke-width="1.05"><path d="M1547.42,107.29l4.3,4.3l-4.3,4.3l-4.3,-4.3z"/><path d="M1548.61,105.52l4.3,4.3l-4.3,4.3l-4.3,-4.3z"/><path d="M1545.64,109.94l4.3,4.3l-4.3,4.3l-4.3,-4.3z"/><path d="M1548.02,108.47l4.3,4.3l-4.3,4.3l-4.3,-4.3z"/><path d="M1546.23,111.06l4.3,4.3l-4.3,4.3l-4.3,-4.3z"/><path d="M1538.5,115.08l4.3,4.3l-4.3,4.3l-4.3,-4.3z"/><path d="M1530.76,121.56l4.3,4.3l-4.3,4.3l-4.3,-4.3z"/><path d="M1527.19,122.25l4.3,4.3l-4.3,4.3l-4.3,-4.3z"/><path d="M1541.47,114.39l4.3,4.3l-4.3,4.3l-4.3,-4.3z"/><path d="M1537.9,116.94l4.3,4.3l-4.3,4.3l-4.3,-4.3z"/><path d="M1534.33,120.2l4.3,4.3l-4.3,4.3l-4.3,-4.3z"/><path d="M1533.14,120.86l4.3,4.3l-4.3,4.3l-4.3,-4.3z"/><path d="M1531.35,121.54l4.3,4.3l-4.3,4.3l-4.3,-4.3z"/><path d="M1535.52,118.27l4.3,4.3l-4.3,4.3l-4.3,-4.3z"/><path d="M1527.78,121.81l4.3,4.3l-4.3,4.3l-4.3,-4.3z"/><path d="M1530.16,124.06l4.3,4.3l-4.3,4.3l-4.3,-4.3z"/><path d="M1522.42,126.54l4.3,4.3l-4.3,4.3l-4.3,-4.3z"/><path d="M1515.88,132.78l4.3,4.3l-4.3,4.3l-4.3,-4.3z"/><path d="M1514.09,136.26l4.3,4.3l-4.3,4.3l-4.3,-4.3z"/><path d="M1524.81,124.78l4.3,4.3l-4.3,4.3l-4.3,-4.3z"/><path d="M1518.85,131.32l4.3,4.3l-4.3,4.3l-4.3,-4.3z"/><path d="M1507.54,140.6l4.3,4.3l-4.3,4.3l-4.3,-4.3z"/><path d="M1506.95,141.46l4.3,4.3l-4.3,4.3l-4.3,-4.3z"/><path d="M1517.66,131.5l4.3,4.3l-4.3,4.3l-4.3,-4.3z"/><path d="M1501,144.64l4.3,4.3l-4.3,4.3l-4.3,-4.3z"/><path d="M1502.78,143.68l4.3,4.3l-4.3,4.3l-4.3,-4.3z"/><path d="M1506.35,142.97l4.3,4.3l-4.3,4.3l-4.3,-4.3z"/><path d="M1502.19,143.93l4.3,4.3l-4.3,4.3l-4.3,-4.3z"/><path d="M1496.24,148.63l4.3,4.3l-4.3,4.3l-4.3,-4.3z"/><path d="M1494.45,149.3l4.3,4.3l-4.3,4.3l-4.3,-4.3z"/><path d="M1499.21,145.77l4.3,4.3l-4.3,4.3l-4.3,-4.3z"/><path d="M1495.64,150.31l4.3,4.3l-4.3,4.3l-4.3,-4.3z"/><path d="M1501.59,145.07l4.3,4.3l-4.3,4.3l-4.3,-4.3z"/><path d="M1500.4,146.21l4.3,4.3l-4.3,4.3l-4.3,-4.3z"/><path d="M1493.26,149.58l4.3,4.3l-4.3,4.3l-4.3,-4.3z"/><path d="M1486.12,157.34l4.3,4.3l-4.3,4.3l-4.3,-4.3z"/><path d="M1489.69,154.59l4.3,4.3l-4.3,4.3l-4.3,-4.3z"/><path d="M1498.02,148l4.3,4.3l-4.3,4.3l-4.3,-4.3z"/><path d="M1498.62,147.28l4.3,4.3l-4.3,4.3l-4.3,-4.3z"/><path d="M1491.47,154.38l4.3,4.3l-4.3,4.3l-4.3,-4.3z"/><path d="M1497.43,148.36l4.3,4.3l-4.3,4.3l-4.3,-4.3z"/><path d="M1493.85,150.45l4.3,4.3l-4.3,4.3l-4.3,-4.3z"/><path d="M1490.88,153.22l4.3,4.3l-4.3,4.3l-4.3,-4.3z"/><path d="M1490.28,154.94l4.3,4.3l-4.3,4.3l-4.3,-4.3z"/><path d="M1488.5,156.07l4.3,4.3l-4.3,4.3l-4.3,-4.3z"/><path d="M1477.19,164.09l4.3,4.3l-4.3,4.3l-4.3,-4.3z"/><path d="M1481.35,158.66l4.3,4.3l-4.3,4.3l-4.3,-4.3z"/><path d="M1484.93,158.14l4.3,4.3l-4.3,4.3l-4.3,-4.3z"/><path d="M1476,167.07l4.3,4.3l-4.3,4.3l-4.3,-4.3z"/><path d="M1489.09,154.85l4.3,4.3l-4.3,4.3l-4.3,-4.3z"/><path d="M1479.57,160.86l4.3,4.3l-4.3,4.3l-4.3,-4.3z"/><path d="M1476.59,163.91l4.3,4.3l-4.3,4.3l-4.3,-4.3z"/><path d="M1471.83,169.92l4.3,4.3l-4.3,4.3l-4.3,-4.3z"/><path d="M1473.02,169.89l4.3,4.3l-4.3,4.3l-4.3,-4.3z"/><path d="M1473.62,168.04l4.3,4.3l-4.3,4.3l-4.3,-4.3z"/><path d="M1470.05,176.35l4.3,4.3l-4.3,4.3l-4.3,-4.3z"/><path d="M1475.4,166.45l4.3,4.3l-4.3,4.3l-4.3,-4.3z"/><path d="M1465.28,174.88l4.3,4.3l-4.3,4.3l-4.3,-4.3z"/><path d="M1474.81,171.46l4.3,4.3l-4.3,4.3l-4.3,-4.3z"/><path d="M1462.31,177.64l4.3,4.3l-4.3,4.3l-4.3,-4.3z"/><path d="M1469.45,172.22l4.3,4.3l-4.3,4.3l-4.3,-4.3z"/><path d="M1470.64,169.97l4.3,4.3l-4.3,4.3l-4.3,-4.3z"/><path d="M1468.86,173.36l4.3,4.3l-4.3,4.3l-4.3,-4.3z"/><path d="M1472.43,170.97l4.3,4.3l-4.3,4.3l-4.3,-4.3z"/><path d="M1474.21,167.54l4.3,4.3l-4.3,4.3l-4.3,-4.3z"/><path d="M1471.24,171.55l4.3,4.3l-4.3,4.3l-4.3,-4.3z"/><path d="M1467.07,174.99l4.3,4.3l-4.3,4.3l-4.3,-4.3z"/><path d="M1462.9,177.5l4.3,4.3l-4.3,4.3l-4.3,-4.3z"/><path d="M1464.69,174.53l4.3,4.3l-4.3,4.3l-4.3,-4.3z"/><path d="M1465.88,175.59l4.3,4.3l-4.3,4.3l-4.3,-4.3z"/><path d="M1460.52,177.53l4.3,4.3l-4.3,4.3l-4.3,-4.3z"/><path d="M1463.5,174.83l4.3,4.3l-4.3,4.3l-4.3,-4.3z"/><path d="M1464.09,176.39l4.3,4.3l-4.3,4.3l-4.3,-4.3z"/><path d="M1477.78,163.11l4.3,4.3l-4.3,4.3l-4.3,-4.3z"/><path d="M1466.47,175.8l4.3,4.3l-4.3,4.3l-4.3,-4.3z"/><path d="M1468.26,173.43l4.3,4.3l-4.3,4.3l-4.3,-4.3z"/><path d="M1461.12,177.52l4.3,4.3l-4.3,4.3l-4.3,-4.3z"/><path d="M1467.66,174.5l4.3,4.3l-4.3,4.3l-4.3,-4.3z"/><path d="M1457.55,180.62l4.3,4.3l-4.3,4.3l-4.3,-4.3z"/><path d="M1461.71,175.94l4.3,4.3l-4.3,4.3l-4.3,-4.3z"/><path d="M1453.98,180.8l4.3,4.3l-4.3,4.3l-4.3,-4.3z"/><path d="M1459.33,179.1l4.3,4.3l-4.3,4.3l-4.3,-4.3z"/><path d="M1459.93,180.62l4.3,4.3l-4.3,4.3l-4.3,-4.3z"/><path d="M1452.78,183.01l4.3,4.3l-4.3,4.3l-4.3,-4.3z"/><path d="M1456.95,180.21l4.3,4.3l-4.3,4.3l-4.3,-4.3z"/><path d="M1458.74,178.06l4.3,4.3l-4.3,4.3l-4.3,-4.3z"/><path d="M1451,183.62l4.3,4.3l-4.3,4.3l-4.3,-4.3z"/><path d="M1456.36,182.2l4.3,4.3l-4.3,4.3l-4.3,-4.3z"/><path d="M1452.19,183.31l4.3,4.3l-4.3,4.3l-4.3,-4.3z"/><path d="M1444.45,192.1l4.3,4.3l-4.3,4.3l-4.3,-4.3z"/><path d="M1455.17,182.6l4.3,4.3l-4.3,4.3l-4.3,-4.3z"/><path d="M1458.14,178.36l4.3,4.3l-4.3,4.3l-4.3,-4.3z"/><path d="M1442.67,193.96l4.3,4.3l-4.3,4.3l-4.3,-4.3z"/><path d="M1448.02,190.12l4.3,4.3l-4.3,4.3l-4.3,-4.3z"/><path d="M1450.4,190.52l4.3,4.3l-4.3,4.3l-4.3,-4.3z"/><path d="M1448.62,189.15l4.3,4.3l-4.3,4.3l-4.3,-4.3z"/><path d="M1454.57,181.85l4.3,4.3l-4.3,4.3l-4.3,-4.3z"/><path d="M1446.83,188.49l4.3,4.3l-4.3,4.3l-4.3,-4.3z"/><path d="M1443.86,192.29l4.3,4.3l-4.3,4.3l-4.3,-4.3z"/><path d="M1453.38,183.64l4.3,4.3l-4.3,4.3l-4.3,-4.3z"/><path d="M1442.07,192.54l4.3,4.3l-4.3,4.3l-4.3,-4.3z"/><path d="M1447.43,190.21l4.3,4.3l-4.3,4.3l-4.3,-4.3z"/><path d="M1449.81,188.12l4.3,4.3l-4.3,4.3l-4.3,-4.3z"/><path d="M1445.64,190.33l4.3,4.3l-4.3,4.3l-4.3,-4.3z"/><path d="M1436.12,198.83l4.3,4.3l-4.3,4.3l-4.3,-4.3z"/><path d="M1443.26,193.48l4.3,4.3l-4.3,4.3l-4.3,-4.3z"/><path d="M1455.76,179.18l4.3,4.3l-4.3,4.3l-4.3,-4.3z"/><path d="M1438.5,197.92l4.3,4.3l-4.3,4.3l-4.3,-4.3z"/><path d="M1451.59,190.15l4.3,4.3l-4.3,4.3l-4.3,-4.3z"/><path d="M1449.21,187.97l4.3,4.3l-4.3,4.3l-4.3,-4.3z"/><path d="M1446.24,191.42l4.3,4.3l-4.3,4.3l-4.3,-4.3z"/><path d="M1434.93,197.66l4.3,4.3l-4.3,4.3l-4.3,-4.3z"/><path d="M1440.88,195.69l4.3,4.3l-4.3,4.3l-4.3,-4.3z"/><path d="M1445.05,191.83l4.3,4.3l-4.3,4.3l-4.3,-4.3z"/><path d="M1437.9,196.15l4.3,4.3l-4.3,4.3l-4.3,-4.3z"/><path d="M1440.29,195.56l4.3,4.3l-4.3,4.3l-4.3,-4.3z"/><path d="M1439.09,196.66l4.3,4.3l-4.3,4.3l-4.3,-4.3z"/><path d="M1434.33,199.68l4.3,4.3l-4.3,4.3l-4.3,-4.3z"/><path d="M1439.69,195.12l4.3,4.3l-4.3,4.3l-4.3,-4.3z"/><path d="M1441.48,195.05l4.3,4.3l-4.3,4.3l-4.3,-4.3z"/><path d="M1437.31,196.87l4.3,4.3l-4.3,4.3l-4.3,-4.3z"/><path d="M1431.95,203.13l4.3,4.3l-4.3,4.3l-4.3,-4.3z"/><path d="M1436.71,197.61l4.3,4.3l-4.3,4.3l-4.3,-4.3z"/><path d="M1428.38,204.5l4.3,4.3l-4.3,4.3l-4.3,-4.3z"/><path d="M1431.36,201.24l4.3,4.3l-4.3,4.3l-4.3,-4.3z"/><path d="M1433.74,199.34l4.3,4.3l-4.3,4.3l-4.3,-4.3z"/><path d="M1430.76,205.17l4.3,4.3l-4.3,4.3l-4.3,-4.3z"/><path d="M1429.57,203.09l4.3,4.3l-4.3,4.3l-4.3,-4.3z"/><path d="M1430.17,204.07l4.3,4.3l-4.3,4.3l-4.3,-4.3z"/><path d="M1433.14,199.24l4.3,4.3l-4.3,4.3l-4.3,-4.3z"/><path d="M1427.19,207.13l4.3,4.3l-4.3,4.3l-4.3,-4.3z"/><path d="M1424.21,207.25l4.3,4.3l-4.3,4.3l-4.3,-4.3z"/><path d="M1427.79,203.17l4.3,4.3l-4.3,4.3l-4.3,-4.3z"/><path d="M1421.83,209.5l4.3,4.3l-4.3,4.3l-4.3,-4.3z"/><path d="M1420.64,210.98l4.3,4.3l-4.3,4.3l-4.3,-4.3z"/><path d="M1428.98,205.75l4.3,4.3l-4.3,4.3l-4.3,-4.3z"/><path d="M1420.05,209.23l4.3,4.3l-4.3,4.3l-4.3,-4.3z"/><path d="M1422.43,207.77l4.3,4.3l-4.3,4.3l-4.3,-4.3z"/><path d="M1435.52,197.66l4.3,4.3l-4.3,4.3l-4.3,-4.3z"/><path d="M1432.55,201.36l4.3,4.3l-4.3,4.3l-4.3,-4.3z"/><path d="M1417.07,211.91l4.3,4.3l-4.3,4.3l-4.3,-4.3z"/><path d="M1423.62,208.1l4.3,4.3l-4.3,4.3l-4.3,-4.3z"/><path d="M1424.81,207.37l4.3,4.3l-4.3,4.3l-4.3,-4.3z"/><path d="M1413.5,214.17l4.3,4.3l-4.3,4.3l-4.3,-4.3z"/><path d="M1419.45,206.74l4.3,4.3l-4.3,4.3l-4.3,-4.3z"/><path d="M1426,207.64l4.3,4.3l-4.3,4.3l-4.3,-4.3z"/><path d="M1425.41,207.82l4.3,4.3l-4.3,4.3l-4.3,-4.3z"/><path d="M1417.67,210.33l4.3,4.3l-4.3,4.3l-4.3,-4.3z"/><path d="M1426.6,206.88l4.3,4.3l-4.3,4.3l-4.3,-4.3z"/><path d="M1421.24,210.66l4.3,4.3l-4.3,4.3l-4.3,-4.3z"/><path d="M1423.02,205.73l4.3,4.3l-4.3,4.3l-4.3,-4.3z"/><path d="M1412.31,215.26l4.3,4.3l-4.3,4.3l-4.3,-4.3z"/><path d="M1414.1,215.25l4.3,4.3l-4.3,4.3l-4.3,-4.3z"/><path d="M1408.14,222.63l4.3,4.3l-4.3,4.3l-4.3,-4.3z"/><path d="M1414.69,215.86l4.3,4.3l-4.3,4.3l-4.3,-4.3z"/><path d="M1405.17,223.07l4.3,4.3l-4.3,4.3l-4.3,-4.3z"/><path d="M1418.26,209.27l4.3,4.3l-4.3,4.3l-4.3,-4.3z"/><path d="M1418.86,208.94l4.3,4.3l-4.3,4.3l-4.3,-4.3z"/><path d="M1416.48,213.88l4.3,4.3l-4.3,4.3l-4.3,-4.3z"/><path d="M1415.29,214.16l4.3,4.3l-4.3,4.3l-4.3,-4.3z"/><path d="M1415.88,212.63l4.3,4.3l-4.3,4.3l-4.3,-4.3z"/><path d="M1412.91,215.62l4.3,4.3l-4.3,4.3l-4.3,-4.3z"/><path d="M1411.72,218.18l4.3,4.3l-4.3,4.3l-4.3,-4.3z"/><path d="M1409.93,220.16l4.3,4.3l-4.3,4.3l-4.3,-4.3z"/><path d="M1406.36,223.44l4.3,4.3l-4.3,4.3l-4.3,-4.3z"/><path d="M1411.12,217.6l4.3,4.3l-4.3,4.3l-4.3,-4.3z"/><path d="M1409.33,219.18l4.3,4.3l-4.3,4.3l-4.3,-4.3z"/><path d="M1407.55,221.31l4.3,4.3l-4.3,4.3l-4.3,-4.3z"/><path d="M1405.76,224.72l4.3,4.3l-4.3,4.3l-4.3,-4.3z"/><path d="M1408.74,221.39l4.3,4.3l-4.3,4.3l-4.3,-4.3z"/><path d="M1398.03,228.26l4.3,4.3l-4.3,4.3l-4.3,-4.3z"/><path d="M1403.98,225.46l4.3,4.3l-4.3,4.3l-4.3,-4.3z"/><path d="M1404.57,226.7l4.3,4.3l-4.3,4.3l-4.3,-4.3z"/><path d="M1410.52,220.58l4.3,4.3l-4.3,4.3l-4.3,-4.3z"/><path d="M1403.38,226.36l4.3,4.3l-4.3,4.3l-4.3,-4.3z"/><path d="M1395.64,230.61l4.3,4.3l-4.3,4.3l-4.3,-4.3z"/><path d="M1401,227.4l4.3,4.3l-4.3,4.3l-4.3,-4.3z"/><path d="M1401.6,228.32l4.3,4.3l-4.3,4.3l-4.3,-4.3z"/><path d="M1400.41,222.71l4.3,4.3l-4.3,4.3l-4.3,-4.3z"/><path d="M1406.95,220.9l4.3,4.3l-4.3,4.3l-4.3,-4.3z"/><path d="M1392.07,233.69l4.3,4.3l-4.3,4.3l-4.3,-4.3z"/><path d="M1402.79,227.6l4.3,4.3l-4.3,4.3l-4.3,-4.3z"/><path d="M1389.69,234.22l4.3,4.3l-4.3,4.3l-4.3,-4.3z"/><path d="M1402.19,225.51l4.3,4.3l-4.3,4.3l-4.3,-4.3z"/><path d="M1395.05,227.95l4.3,4.3l-4.3,4.3l-4.3,-4.3z"/><path d="M1399.81,227.85l4.3,4.3l-4.3,4.3l-4.3,-4.3z"/><path d="M1391.48,232.92l4.3,4.3l-4.3,4.3l-4.3,-4.3z"/><path d="M1390.88,234.17l4.3,4.3l-4.3,4.3l-4.3,-4.3z"/><path d="M1392.67,233.16l4.3,4.3l-4.3,4.3l-4.3,-4.3z"/><path d="M1393.26,232.4l4.3,4.3l-4.3,4.3l-4.3,-4.3z"/><path d="M1397.43,228.46l4.3,4.3l-4.3,4.3l-4.3,-4.3z"/><path d="M1396.83,229.89l4.3,4.3l-4.3,4.3l-4.3,-4.3z"/><path d="M1399.22,226.3l4.3,4.3l-4.3,4.3l-4.3,-4.3z"/><path d="M1385.53,238.46l4.3,4.3l-4.3,4.3l-4.3,-4.3z"/><path d="M1398.62,229.12l4.3,4.3l-4.3,4.3l-4.3,-4.3z"/><path d="M1390.29,232.89l4.3,4.3l-4.3,4.3l-4.3,-4.3z"/><path d="M1396.24,230.49l4.3,4.3l-4.3,4.3l-4.3,-4.3z"/><path d="M1384.93,237.42l4.3,4.3l-4.3,4.3l-4.3,-4.3z"/><path d="M1388.5,235.92l4.3,4.3l-4.3,4.3l-4.3,-4.3z"/><path d="M1394.45,231.04l4.3,4.3l-4.3,4.3l-4.3,-4.3z"/><path d="M1381.36,242.53l4.3,4.3l-4.3,4.3l-4.3,-4.3z"/><path d="M1387.31,238.63l4.3,4.3l-4.3,4.3l-4.3,-4.3z"/><path d="M1379.57,243.23l4.3,4.3l-4.3,4.3l-4.3,-4.3z"/><path d="M1384.34,238.43l4.3,4.3l-4.3,4.3l-4.3,-4.3z"/><path d="M1393.86,231.84l4.3,4.3l-4.3,4.3l-4.3,-4.3z"/><path d="M1387.91,236.25l4.3,4.3l-4.3,4.3l-4.3,-4.3z"/><path d="M1378.38,245.11l4.3,4.3l-4.3,4.3l-4.3,-4.3z"/><path d="M1386.12,239.04l4.3,4.3l-4.3,4.3l-4.3,-4.3z"/><path d="M1383.74,240.43l4.3,4.3l-4.3,4.3l-4.3,-4.3z"/><path d="M1383.15,241.74l4.3,4.3l-4.3,4.3l-4.3,-4.3z"/><path d="M1376.6,244.8l4.3,4.3l-4.3,4.3l-4.3,-4.3z"/><path d="M1373.03,248.16l4.3,4.3l-4.3,4.3l-4.3,-4.3z"/><path d="M1380.17,246.58l4.3,4.3l-4.3,4.3l-4.3,-4.3z"/><path d="M1386.72,233.93l4.3,4.3l-4.3,4.3l-4.3,-4.3z"/><path d="M1378.98,244.27l4.3,4.3l-4.3,4.3l-4.3,-4.3z"/><path d="M1389.1,233.81l4.3,4.3l-4.3,4.3l-4.3,-4.3z"/><path d="M1377.79,245.82l4.3,4.3l-4.3,4.3l-4.3,-4.3z"/><path d="M1376,246.23l4.3,4.3l-4.3,4.3l-4.3,-4.3z"/><path d="M1375.41,247.32l4.3,4.3l-4.3,4.3l-4.3,-4.3z"/><path d="M1371.24,250.44l4.3,4.3l-4.3,4.3l-4.3,-4.3z"/><path d="M1381.95,241.36l4.3,4.3l-4.3,4.3l-4.3,-4.3z"/><path d="M1374.81,247.61l4.3,4.3l-4.3,4.3l-4.3,-4.3z"/><path d="M1382.55,241.25l4.3,4.3l-4.3,4.3l-4.3,-4.3z"/><path d="M1373.62,249.57l4.3,4.3l-4.3,4.3l-4.3,-4.3z"/><path d="M1380.76,242.65l4.3,4.3l-4.3,4.3l-4.3,-4.3z"/><path d="M1377.19,246.02l4.3,4.3l-4.3,4.3l-4.3,-4.3z"/><path d="M1369.46,252.62l4.3,4.3l-4.3,4.3l-4.3,-4.3z"/><path d="M1372.43,249.19l4.3,4.3l-4.3,4.3l-4.3,-4.3z"/><path d="M1368.86,251.65l4.3,4.3l-4.3,4.3l-4.3,-4.3z"/><path d="M1362.31,258.25l4.3,4.3l-4.3,4.3l-4.3,-4.3z"/><path d="M1370.05,251.88l4.3,4.3l-4.3,4.3l-4.3,-4.3z"/><path d="M1370.65,250.61l4.3,4.3l-4.3,4.3l-4.3,-4.3z"/><path d="M1364.69,254.45l4.3,4.3l-4.3,4.3l-4.3,-4.3z"/><path d="M1374.22,248.77l4.3,4.3l-4.3,4.3l-4.3,-4.3z"/><path d="M1353.38,263.49l4.3,4.3l-4.3,4.3l-4.3,-4.3z"/><path d="M1365.88,253.61l4.3,4.3l-4.3,4.3l-4.3,-4.3z"/><path d="M1365.29,254.49l4.3,4.3l-4.3,4.3l-4.3,-4.3z"/><path d="M1368.26,251.02l4.3,4.3l-4.3,4.3l-4.3,-4.3z"/><path d="M1362.91,258.51l4.3,4.3l-4.3,4.3l-4.3,-4.3z"/><path d="M1371.84,250.04l4.3,4.3l-4.3,4.3l-4.3,-4.3z"/><path d="M1361.12,260.47l4.3,4.3l-4.3,4.3l-4.3,-4.3z"/><path d="M1367.67,252.54l4.3,4.3l-4.3,4.3l-4.3,-4.3z"/><path d="M1366.48,252.94l4.3,4.3l-4.3,4.3l-4.3,-4.3z"/><path d="M1355.77,261.06l4.3,4.3l-4.3,4.3l-4.3,-4.3z"/><path d="M1360.53,260.81l4.3,4.3l-4.3,4.3l-4.3,-4.3z"/><path d="M1356.96,261.59l4.3,4.3l-4.3,4.3l-4.3,-4.3z"/><path d="M1356.36,261.99l4.3,4.3l-4.3,4.3l-4.3,-4.3z"/><path d="M1358.15,260.57l4.3,4.3l-4.3,4.3l-4.3,-4.3z"/><path d="M1359.93,258.74l4.3,4.3l-4.3,4.3l-4.3,-4.3z"/><path d="M1352.79,266.21l4.3,4.3l-4.3,4.3l-4.3,-4.3z"/><path d="M1361.72,258.82l4.3,4.3l-4.3,4.3l-4.3,-4.3z"/><path d="M1363.5,254.49l4.3,4.3l-4.3,4.3l-4.3,-4.3z"/><path d="M1351,266.06l4.3,4.3l-4.3,4.3l-4.3,-4.3z"/><path d="M1364.1,255.93l4.3,4.3l-4.3,4.3l-4.3,-4.3z"/><path d="M1367.07,254.2l4.3,4.3l-4.3,4.3l-4.3,-4.3z"/><path d="M1355.17,262.48l4.3,4.3l-4.3,4.3l-4.3,-4.3z"/><path d="M1359.34,260.51l4.3,4.3l-4.3,4.3l-4.3,-4.3z"/><path d="M1358.74,260.86l4.3,4.3l-4.3,4.3l-4.3,-4.3z"/><path d="M1350.41,265.17l4.3,4.3l-4.3,4.3l-4.3,-4.3z"/><path d="M1347.43,266.89l4.3,4.3l-4.3,4.3l-4.3,-4.3z"/><path d="M1352.19,265.79l4.3,4.3l-4.3,4.3l-4.3,-4.3z"/><path d="M1357.55,265.83l4.3,4.3l-4.3,4.3l-4.3,-4.3z"/><path d="M1348.62,267.43l4.3,4.3l-4.3,4.3l-4.3,-4.3z"/><path d="M1349.22,266.89l4.3,4.3l-4.3,4.3l-4.3,-4.3z"/><path d="M1345.05,272.72l4.3,4.3l-4.3,4.3l-4.3,-4.3z"/><path d="M1346.84,269.11l4.3,4.3l-4.3,4.3l-4.3,-4.3z"/><path d="M1353.98,265.07l4.3,4.3l-4.3,4.3l-4.3,-4.3z"/><path d="M1343.27,272.73l4.3,4.3l-4.3,4.3l-4.3,-4.3z"/><path d="M1336.72,278.63l4.3,4.3l-4.3,4.3l-4.3,-4.3z"/><path d="M1343.86,271.81l4.3,4.3l-4.3,4.3l-4.3,-4.3z"/><path d="M1354.58,262.52l4.3,4.3l-4.3,4.3l-4.3,-4.3z"/><path d="M1342.08,274.14l4.3,4.3l-4.3,4.3l-4.3,-4.3z"/><path d="M1346.24,269.93l4.3,4.3l-4.3,4.3l-4.3,-4.3z"/><path d="M1351.6,266.1l4.3,4.3l-4.3,4.3l-4.3,-4.3z"/><path d="M1349.81,268.83l4.3,4.3l-4.3,4.3l-4.3,-4.3z"/><path d="M1340.29,275.32l4.3,4.3l-4.3,4.3l-4.3,-4.3z"/><path d="M1334.34,281.74l4.3,4.3l-4.3,4.3l-4.3,-4.3z"/><path d="M1345.65,271.24l4.3,4.3l-4.3,4.3l-4.3,-4.3z"/><path d="M1348.03,267.7l4.3,4.3l-4.3,4.3l-4.3,-4.3z"/><path d="M1342.67,274.57l4.3,4.3l-4.3,4.3l-4.3,-4.3z"/><path d="M1334.93,284.3l4.3,4.3l-4.3,4.3l-4.3,-4.3z"/><path d="M1329.58,284.25l4.3,4.3l-4.3,4.3l-4.3,-4.3z"/><path d="M1344.46,272.14l4.3,4.3l-4.3,4.3l-4.3,-4.3z"/><path d="M1328.39,283.94l4.3,4.3l-4.3,4.3l-4.3,-4.3z"/><path d="M1339.1,277.77l4.3,4.3l-4.3,4.3l-4.3,-4.3z"/><path d="M1340.89,273.34l4.3,4.3l-4.3,4.3l-4.3,-4.3z"/><path d="M1341.48,274.64l4.3,4.3l-4.3,4.3l-4.3,-4.3z"/><path d="M1333.74,282.38l4.3,4.3l-4.3,4.3l-4.3,-4.3z"/><path d="M1335.53,280.18l4.3,4.3l-4.3,4.3l-4.3,-4.3z"/><path d="M1337.31,278.34l4.3,4.3l-4.3,4.3l-4.3,-4.3z"/><path d="M1339.69,274.49l4.3,4.3l-4.3,4.3l-4.3,-4.3z"/><path d="M1338.5,277.49l4.3,4.3l-4.3,4.3l-4.3,-4.3z"/><path d="M1332.55,281.11l4.3,4.3l-4.3,4.3l-4.3,-4.3z"/><path d="M1337.91,276.91l4.3,4.3l-4.3,4.3l-4.3,-4.3z"/><path d="M1330.77,282.93l4.3,4.3l-4.3,4.3l-4.3,-4.3z"/><path d="M1336.12,282.12l4.3,4.3l-4.3,4.3l-4.3,-4.3z"/><path d="M1327.79,285.52l4.3,4.3l-4.3,4.3l-4.3,-4.3z"/><path d="M1331.96,280.49l4.3,4.3l-4.3,4.3l-4.3,-4.3z"/><path d="M1333.15,283.72l4.3,4.3l-4.3,4.3l-4.3,-4.3z"/><path d="M1325.41,287.83l4.3,4.3l-4.3,4.3l-4.3,-4.3z"/><path d="M1331.36,282.96l4.3,4.3l-4.3,4.3l-4.3,-4.3z"/><path d="M1324.81,287.62l4.3,4.3l-4.3,4.3l-4.3,-4.3z"/><path d="M1317.67,291.26l4.3,4.3l-4.3,4.3l-4.3,-4.3z"/><path d="M1321.24,290.26l4.3,4.3l-4.3,4.3l-4.3,-4.3z"/><path d="M1328.98,287.83l4.3,4.3l-4.3,4.3l-4.3,-4.3z"/><path d="M1326.6,286.35l4.3,4.3l-4.3,4.3l-4.3,-4.3z"/><path d="M1330.17,283.74l4.3,4.3l-4.3,4.3l-4.3,-4.3z"/><path d="M1318.86,292.95l4.3,4.3l-4.3,4.3l-4.3,-4.3z"/><path d="M1326,285.85l4.3,4.3l-4.3,4.3l-4.3,-4.3z"/><path d="M1322.43,291.16l4.3,4.3l-4.3,4.3l-4.3,-4.3z"/><path d="M1323.62,287.75l4.3,4.3l-4.3,4.3l-4.3,-4.3z"/><path d="M1323.03,292.42l4.3,4.3l-4.3,4.3l-4.3,-4.3z"/><path d="M1321.84,291.31l4.3,4.3l-4.3,4.3l-4.3,-4.3z"/><path d="M1324.22,288.09l4.3,4.3l-4.3,4.3l-4.3,-4.3z"/><path d="M1312.91,297.18l4.3,4.3l-4.3,4.3l-4.3,-4.3z"/><path d="M1327.2,285.51l4.3,4.3l-4.3,4.3l-4.3,-4.3z"/><path d="M1320.65,290.49l4.3,4.3l-4.3,4.3l-4.3,-4.3z"/><path d="M1315.29,294.54l4.3,4.3l-4.3,4.3l-4.3,-4.3z"/><path d="M1308.15,303.26l4.3,4.3l-4.3,4.3l-4.3,-4.3z"/><path d="M1313.51,297.82l4.3,4.3l-4.3,4.3l-4.3,-4.3z"/><path d="M1320.05,289.67l4.3,4.3l-4.3,4.3l-4.3,-4.3z"/><path d="M1314.1,298.4l4.3,4.3l-4.3,4.3l-4.3,-4.3z"/><path d="M1316.48,295.31l4.3,4.3l-4.3,4.3l-4.3,-4.3z"/><path d="M1317.08,291.2l4.3,4.3l-4.3,4.3l-4.3,-4.3z"/><path d="M1309.93,299.34l4.3,4.3l-4.3,4.3l-4.3,-4.3z"/><path d="M1315.89,293.95l4.3,4.3l-4.3,4.3l-4.3,-4.3z"/><path d="M1308.74,300.43l4.3,4.3l-4.3,4.3l-4.3,-4.3z"/><path d="M1311.12,298.48l4.3,4.3l-4.3,4.3l-4.3,-4.3z"/><path d="M1318.27,292.48l4.3,4.3l-4.3,4.3l-4.3,-4.3z"/><path d="M1309.34,300.63l4.3,4.3l-4.3,4.3l-4.3,-4.3z"/><path d="M1319.46,292.74l4.3,4.3l-4.3,4.3l-4.3,-4.3z"/><path d="M1302.79,305.51l4.3,4.3l-4.3,4.3l-4.3,-4.3z"/><path d="M1304.58,305.32l4.3,4.3l-4.3,4.3l-4.3,-4.3z"/><path d="M1306.96,301.7l4.3,4.3l-4.3,4.3l-4.3,-4.3z"/><path d="M1306.36,304.94l4.3,4.3l-4.3,4.3l-4.3,-4.3z"/><path d="M1311.72,297.45l4.3,4.3l-4.3,4.3l-4.3,-4.3z"/><path d="M1298.03,311.33l4.3,4.3l-4.3,4.3l-4.3,-4.3z"/><path d="M1303.39,305.3l4.3,4.3l-4.3,4.3l-4.3,-4.3z"/><path d="M1312.32,297.14l4.3,4.3l-4.3,4.3l-4.3,-4.3z"/><path d="M1303.98,309.48l4.3,4.3l-4.3,4.3l-4.3,-4.3z"/><path d="M1305.77,304.71l4.3,4.3l-4.3,4.3l-4.3,-4.3z"/><path d="M1301.6,306.02l4.3,4.3l-4.3,4.3l-4.3,-4.3z"/><path d="M1299.82,309.26l4.3,4.3l-4.3,4.3l-4.3,-4.3z"/><path d="M1314.7,294.93l4.3,4.3l-4.3,4.3l-4.3,-4.3z"/><path d="M1302.2,305.85l4.3,4.3l-4.3,4.3l-4.3,-4.3z"/><path d="M1310.53,299.67l4.3,4.3l-4.3,4.3l-4.3,-4.3z"/><path d="M1289.1,314.67l4.3,4.3l-4.3,4.3l-4.3,-4.3z"/><path d="M1300.41,308.95l4.3,4.3l-4.3,4.3l-4.3,-4.3z"/><path d="M1284.34,319.28l4.3,4.3l-4.3,4.3l-4.3,-4.3z"/><path d="M1296.24,310.86l4.3,4.3l-4.3,4.3l-4.3,-4.3z"/><path d="M1294.46,314.02l4.3,4.3l-4.3,4.3l-4.3,-4.3z"/><path d="M1301.01,305.71l4.3,4.3l-4.3,4.3l-4.3,-4.3z"/><path d="M1305.17,303.52l4.3,4.3l-4.3,4.3l-4.3,-4.3z"/><path d="M1292.08,314.52l4.3,4.3l-4.3,4.3l-4.3,-4.3z"/><path d="M1307.55,300.79l4.3,4.3l-4.3,4.3l-4.3,-4.3z"/><path d="M1297.43,310.12l4.3,4.3l-4.3,4.3l-4.3,-4.3z"/><path d="M1290.89,316.27l4.3,4.3l-4.3,4.3l-4.3,-4.3z"/><path d="M1299.22,308.44l4.3,4.3l-4.3,4.3l-4.3,-4.3z"/><path d="M1298.63,308.92l4.3,4.3l-4.3,4.3l-4.3,-4.3z"/><path d="M1293.86,314.05l4.3,4.3l-4.3,4.3l-4.3,-4.3z"/><path d="M1296.84,308l4.3,4.3l-4.3,4.3l-4.3,-4.3z"/><path d="M1291.48,314.16l4.3,4.3l-4.3,4.3l-4.3,-4.3z"/><path d="M1295.65,313.24l4.3,4.3l-4.3,4.3l-4.3,-4.3z"/><path d="M1285.53,318.4l4.3,4.3l-4.3,4.3l-4.3,-4.3z"/><path d="M1283.15,319.97l4.3,4.3l-4.3,4.3l-4.3,-4.3z"/><path d="M1286.72,317.71l4.3,4.3l-4.3,4.3l-4.3,-4.3z"/><path d="M1295.05,313.27l4.3,4.3l-4.3,4.3l-4.3,-4.3z"/><path d="M1292.67,312.49l4.3,4.3l-4.3,4.3l-4.3,-4.3z"/><path d="M1289.7,314.78l4.3,4.3l-4.3,4.3l-4.3,-4.3z"/><path d="M1288.51,315.56l4.3,4.3l-4.3,4.3l-4.3,-4.3z"/><path d="M1293.27,311.34l4.3,4.3l-4.3,4.3l-4.3,-4.3z"/><path d="M1278.98,323.4l4.3,4.3l-4.3,4.3l-4.3,-4.3z"/><path d="M1287.32,318.92l4.3,4.3l-4.3,4.3l-4.3,-4.3z"/><path d="M1274.22,329.76l4.3,4.3l-4.3,4.3l-4.3,-4.3z"/><path d="M1287.91,315.39l4.3,4.3l-4.3,4.3l-4.3,-4.3z"/><path d="M1290.29,317.2l4.3,4.3l-4.3,4.3l-4.3,-4.3z"/><path d="M1282.55,321.03l4.3,4.3l-4.3,4.3l-4.3,-4.3z"/><path d="M1279.58,324.21l4.3,4.3l-4.3,4.3l-4.3,-4.3z"/><path d="M1286.13,316.69l4.3,4.3l-4.3,4.3l-4.3,-4.3z"/><path d="M1281.36,321.11l4.3,4.3l-4.3,4.3l-4.3,-4.3z"/><path d="M1276.6,324.13l4.3,4.3l-4.3,4.3l-4.3,-4.3z"/><path d="M1283.75,319.04l4.3,4.3l-4.3,4.3l-4.3,-4.3z"/><path d="M1280.17,322.54l4.3,4.3l-4.3,4.3l-4.3,-4.3z"/><path d="M1273.63,330l4.3,4.3l-4.3,4.3l-4.3,-4.3z"/><path d="M1274.82,327.94l4.3,4.3l-4.3,4.3l-4.3,-4.3z"/><path d="M1275.41,328.28l4.3,4.3l-4.3,4.3l-4.3,-4.3z"/><path d="M1284.94,317.96l4.3,4.3l-4.3,4.3l-4.3,-4.3z"/><path d="M1272.44,330.63l4.3,4.3l-4.3,4.3l-4.3,-4.3z"/><path d="M1276.01,325.86l4.3,4.3l-4.3,4.3l-4.3,-4.3z"/><path d="M1270.06,332.82l4.3,4.3l-4.3,4.3l-4.3,-4.3z"/><path d="M1277.79,329.32l4.3,4.3l-4.3,4.3l-4.3,-4.3z"/><path d="M1264.1,337.01l4.3,4.3l-4.3,4.3l-4.3,-4.3z"/><path d="M1280.77,321.9l4.3,4.3l-4.3,4.3l-4.3,-4.3z"/><path d="M1277.2,328.47l4.3,4.3l-4.3,4.3l-4.3,-4.3z"/><path d="M1281.96,321.19l4.3,4.3l-4.3,4.3l-4.3,-4.3z"/><path d="M1268.86,332.37l4.3,4.3l-4.3,4.3l-4.3,-4.3z"/><path d="M1269.46,332.42l4.3,4.3l-4.3,4.3l-4.3,-4.3z"/><path d="M1267.08,334.78l4.3,4.3l-4.3,4.3l-4.3,-4.3z"/><path d="M1258.75,342.99l4.3,4.3l-4.3,4.3l-4.3,-4.3z"/><path d="M1271.84,330.92l4.3,4.3l-4.3,4.3l-4.3,-4.3z"/><path d="M1255.17,342.94l4.3,4.3l-4.3,4.3l-4.3,-4.3z"/><path d="M1265.89,335.25l4.3,4.3l-4.3,4.3l-4.3,-4.3z"/><path d="M1259.34,337.93l4.3,4.3l-4.3,4.3l-4.3,-4.3z"/><path d="M1271.25,331.25l4.3,4.3l-4.3,4.3l-4.3,-4.3z"/><path d="M1262.91,337.27l4.3,4.3l-4.3,4.3l-4.3,-4.3z"/><path d="M1273.03,330.54l4.3,4.3l-4.3,4.3l-4.3,-4.3z"/><path d="M1264.7,335.66l4.3,4.3l-4.3,4.3l-4.3,-4.3z"/><path d="M1258.15,339.07l4.3,4.3l-4.3,4.3l-4.3,-4.3z"/><path d="M1270.65,332.68l4.3,4.3l-4.3,4.3l-4.3,-4.3z"/><path d="M1263.51,335.76l4.3,4.3l-4.3,4.3l-4.3,-4.3z"/><path d="M1268.27,334.24l4.3,4.3l-4.3,4.3l-4.3,-4.3z"/><path d="M1278.39,325.2l4.3,4.3l-4.3,4.3l-4.3,-4.3z"/><path d="M1265.29,336.92l4.3,4.3l-4.3,4.3l-4.3,-4.3z"/><path d="M1260.53,340.48l4.3,4.3l-4.3,4.3l-4.3,-4.3z"/><path d="M1257.56,340.1l4.3,4.3l-4.3,4.3l-4.3,-4.3z"/><path d="M1261.72,337.94l4.3,4.3l-4.3,4.3l-4.3,-4.3z"/><path d="M1256.96,342.55l4.3,4.3l-4.3,4.3l-4.3,-4.3z"/><path d="M1261.13,340.56l4.3,4.3l-4.3,4.3l-4.3,-4.3z"/><path d="M1262.32,337.02l4.3,4.3l-4.3,4.3l-4.3,-4.3z"/><path d="M1256.37,342.41l4.3,4.3l-4.3,4.3l-4.3,-4.3z"/><path d="M1266.48,335.52l4.3,4.3l-4.3,4.3l-4.3,-4.3z"/><path d="M1252.79,345.43l4.3,4.3l-4.3,4.3l-4.3,-4.3z"/><path d="M1259.94,338.93l4.3,4.3l-4.3,4.3l-4.3,-4.3z"/><path d="M1254.58,345.98l4.3,4.3l-4.3,4.3l-4.3,-4.3z"/><path d="M1267.67,333.61l4.3,4.3l-4.3,4.3l-4.3,-4.3z"/><path d="M1247.44,349.04l4.3,4.3l-4.3,4.3l-4.3,-4.3z"/><path d="M1251.6,345.57l4.3,4.3l-4.3,4.3l-4.3,-4.3z"/><path d="M1255.77,343.62l4.3,4.3l-4.3,4.3l-4.3,-4.3z"/><path d="M1249.22,347.26l4.3,4.3l-4.3,4.3l-4.3,-4.3z"/><path d="M1252.2,345.36l4.3,4.3l-4.3,4.3l-4.3,-4.3z"/><path d="M1253.39,343.93l4.3,4.3l-4.3,4.3l-4.3,-4.3z"/><path d="M1250.41,345.28l4.3,4.3l-4.3,4.3l-4.3,-4.3z"/><path d="M1245.06,348.11l4.3,4.3l-4.3,4.3l-4.3,-4.3z"/><path d="M1248.63,347.37l4.3,4.3l-4.3,4.3l-4.3,-4.3z"/><path d="M1246.25,352.44l4.3,4.3l-4.3,4.3l-4.3,-4.3z"/><path d="M1242.08,352.07l4.3,4.3l-4.3,4.3l-4.3,-4.3z"/><path d="M1244.46,351.88l4.3,4.3l-4.3,4.3l-4.3,-4.3z"/><path d="M1253.98,344.5l4.3,4.3l-4.3,4.3l-4.3,-4.3z"/><path d="M1240.29,356.91l4.3,4.3l-4.3,4.3l-4.3,-4.3z"/><path d="M1236.72,358.01l4.3,4.3l-4.3,4.3l-4.3,-4.3z"/><path d="M1245.65,350.45l4.3,4.3l-4.3,4.3l-4.3,-4.3z"/><path d="M1242.68,352.63l4.3,4.3l-4.3,4.3l-4.3,-4.3z"/><path d="M1241.49,355.72l4.3,4.3l-4.3,4.3l-4.3,-4.3z"/><path d="M1251.01,349.18l4.3,4.3l-4.3,4.3l-4.3,-4.3z"/><path d="M1249.82,347.8l4.3,4.3l-4.3,4.3l-4.3,-4.3z"/><path d="M1240.89,355.06l4.3,4.3l-4.3,4.3l-4.3,-4.3z"/><path d="M1246.84,350.8l4.3,4.3l-4.3,4.3l-4.3,-4.3z"/><path d="M1237.91,357.17l4.3,4.3l-4.3,4.3l-4.3,-4.3z"/><path d="M1248.03,348.92l4.3,4.3l-4.3,4.3l-4.3,-4.3z"/><path d="M1237.32,357.36l4.3,4.3l-4.3,4.3l-4.3,-4.3z"/><path d="M1233.75,362.68l4.3,4.3l-4.3,4.3l-4.3,-4.3z"/><path d="M1239.7,355.85l4.3,4.3l-4.3,4.3l-4.3,-4.3z"/><path d="M1243.27,354.74l4.3,4.3l-4.3,4.3l-4.3,-4.3z"/><path d="M1235.53,359.53l4.3,4.3l-4.3,4.3l-4.3,-4.3z"/><path d="M1234.94,361.83l4.3,4.3l-4.3,4.3l-4.3,-4.3z"/><path d="M1239.1,355.62l4.3,4.3l-4.3,4.3l-4.3,-4.3z"/><path d="M1236.13,360.01l4.3,4.3l-4.3,4.3l-4.3,-4.3z"/><path d="M1234.34,361.27l4.3,4.3l-4.3,4.3l-4.3,-4.3z"/><path d="M1228.39,366.7l4.3,4.3l-4.3,4.3l-4.3,-4.3z"/><path d="M1231.37,363.85l4.3,4.3l-4.3,4.3l-4.3,-4.3z"/><path d="M1230.77,363.92l4.3,4.3l-4.3,4.3l-4.3,-4.3z"/><path d="M1223.03,369.05l4.3,4.3l-4.3,4.3l-4.3,-4.3z"/><path d="M1222.44,368.91l4.3,4.3l-4.3,4.3l-4.3,-4.3z"/><path d="M1243.87,352.15l4.3,4.3l-4.3,4.3l-4.3,-4.3z"/><path d="M1225.41,366.66l4.3,4.3l-4.3,4.3l-4.3,-4.3z"/><path d="M1238.51,357.5l4.3,4.3l-4.3,4.3l-4.3,-4.3z"/><path d="M1226.01,369.35l4.3,4.3l-4.3,4.3l-4.3,-4.3z"/><path d="M1228.99,366.63l4.3,4.3l-4.3,4.3l-4.3,-4.3z"/><path d="M1231.96,364.37l4.3,4.3l-4.3,4.3l-4.3,-4.3z"/><path d="M1226.6,366.83l4.3,4.3l-4.3,4.3l-4.3,-4.3z"/><path d="M1220.65,371.64l4.3,4.3l-4.3,4.3l-4.3,-4.3z"/><path d="M1233.15,362.6l4.3,4.3l-4.3,4.3l-4.3,-4.3z"/><path d="M1227.2,367.68l4.3,4.3l-4.3,4.3l-4.3,-4.3z"/><path d="M1221.84,370.11l4.3,4.3l-4.3,4.3l-4.3,-4.3z"/><path d="M1223.63,368.54l4.3,4.3l-4.3,4.3l-4.3,-4.3z"/><path d="M1232.56,362.61l4.3,4.3l-4.3,4.3l-4.3,-4.3z"/><path d="M1229.58,360.74l4.3,4.3l-4.3,4.3l-4.3,-4.3z"/><path d="M1230.18,364.02l4.3,4.3l-4.3,4.3l-4.3,-4.3z"/><path d="M1224.22,368.85l4.3,4.3l-4.3,4.3l-4.3,-4.3z"/><path d="M1218.27,373.08l4.3,4.3l-4.3,4.3l-4.3,-4.3z"/><path d="M1217.68,373.41l4.3,4.3l-4.3,4.3l-4.3,-4.3z"/><path d="M1218.87,372l4.3,4.3l-4.3,4.3l-4.3,-4.3z"/><path d="M1213.51,376.46l4.3,4.3l-4.3,4.3l-4.3,-4.3z"/><path d="M1221.25,368.12l4.3,4.3l-4.3,4.3l-4.3,-4.3z"/><path d="M1219.46,371.28l4.3,4.3l-4.3,4.3l-4.3,-4.3z"/><path d="M1224.82,368.47l4.3,4.3l-4.3,4.3l-4.3,-4.3z"/><path d="M1214.7,375.94l4.3,4.3l-4.3,4.3l-4.3,-4.3z"/><path d="M1214.11,375.59l4.3,4.3l-4.3,4.3l-4.3,-4.3z"/><path d="M1216.49,373.41l4.3,4.3l-4.3,4.3l-4.3,-4.3z"/><path d="M1210.53,379.56l4.3,4.3l-4.3,4.3l-4.3,-4.3z"/><path d="M1220.06,371.94l4.3,4.3l-4.3,4.3l-4.3,-4.3z"/><path d="M1215.89,374.13l4.3,4.3l-4.3,4.3l-4.3,-4.3z"/><path d="M1217.08,373.5l4.3,4.3l-4.3,4.3l-4.3,-4.3z"/><path d="M1208.15,382.25l4.3,4.3l-4.3,4.3l-4.3,-4.3z"/><path d="M1227.8,366.88l4.3,4.3l-4.3,4.3l-4.3,-4.3z"/><path d="M1212.92,377.2l4.3,4.3l-4.3,4.3l-4.3,-4.3z"/><path d="M1206.96,382.87l4.3,4.3l-4.3,4.3l-4.3,-4.3z"/><path d="M1211.72,377.33l4.3,4.3l-4.3,4.3l-4.3,-4.3z"/><path d="M1206.37,382.22l4.3,4.3l-4.3,4.3l-4.3,-4.3z"/><path d="M1211.13,379.03l4.3,4.3l-4.3,4.3l-4.3,-4.3z"/><path d="M1209.34,378.41l4.3,4.3l-4.3,4.3l-4.3,-4.3z"/><path d="M1205.77,384.45l4.3,4.3l-4.3,4.3l-4.3,-4.3z"/><path d="M1215.3,374.3l4.3,4.3l-4.3,4.3l-4.3,-4.3z"/><path d="M1202.2,387.08l4.3,4.3l-4.3,4.3l-4.3,-4.3z"/><path d="M1199.23,389.15l4.3,4.3l-4.3,4.3l-4.3,-4.3z"/><path d="M1207.56,383.77l4.3,4.3l-4.3,4.3l-4.3,-4.3z"/><path d="M1199.82,390.82l4.3,4.3l-4.3,4.3l-4.3,-4.3z"/><path d="M1212.32,374.82l4.3,4.3l-4.3,4.3l-4.3,-4.3z"/><path d="M1200.42,386.37l4.3,4.3l-4.3,4.3l-4.3,-4.3z"/><path d="M1205.18,384.92l4.3,4.3l-4.3,4.3l-4.3,-4.3z"/><path d="M1201.61,388.85l4.3,4.3l-4.3,4.3l-4.3,-4.3z"/><path d="M1203.99,386.56l4.3,4.3l-4.3,4.3l-4.3,-4.3z"/><path d="M1196.25,392.78l4.3,4.3l-4.3,4.3l-4.3,-4.3z"/><path d="M1209.94,380.14l4.3,4.3l-4.3,4.3l-4.3,-4.3z"/><path d="M1201.01,387.07l4.3,4.3l-4.3,4.3l-4.3,-4.3z"/><path d="M1196.84,390.85l4.3,4.3l-4.3,4.3l-4.3,-4.3z"/><path d="M1198.03,392.92l4.3,4.3l-4.3,4.3l-4.3,-4.3z"/><path d="M1204.58,387.38l4.3,4.3l-4.3,4.3l-4.3,-4.3z"/><path d="M1202.8,385.25l4.3,4.3l-4.3,4.3l-4.3,-4.3z"/><path d="M1203.39,384.13l4.3,4.3l-4.3,4.3l-4.3,-4.3z"/><path d="M1208.75,382.21l4.3,4.3l-4.3,4.3l-4.3,-4.3z"/><path d="M1195.65,393.11l4.3,4.3l-4.3,4.3l-4.3,-4.3z"/><path d="M1195.06,389.39l4.3,4.3l-4.3,4.3l-4.3,-4.3z"/><path d="M1190.89,394.75l4.3,4.3l-4.3,4.3l-4.3,-4.3z"/><path d="M1193.87,393.14l4.3,4.3l-4.3,4.3l-4.3,-4.3z"/><path d="M1193.27,394.45l4.3,4.3l-4.3,4.3l-4.3,-4.3z"/><path d="M1198.63,391.43l4.3,4.3l-4.3,4.3l-4.3,-4.3z"/><path d="M1189.11,394.71l4.3,4.3l-4.3,4.3l-4.3,-4.3z"/><path d="M1190.3,395.39l4.3,4.3l-4.3,4.3l-4.3,-4.3z"/><path d="M1192.08,393.08l4.3,4.3l-4.3,4.3l-4.3,-4.3z"/><path d="M1197.44,389.41l4.3,4.3l-4.3,4.3l-4.3,-4.3z"/><path d="M1186.13,399.93l4.3,4.3l-4.3,4.3l-4.3,-4.3z"/><path d="M1186.73,397.74l4.3,4.3l-4.3,4.3l-4.3,-4.3z"/><path d="M1192.68,395.05l4.3,4.3l-4.3,4.3l-4.3,-4.3z"/><path d="M1191.49,394.48l4.3,4.3l-4.3,4.3l-4.3,-4.3z"/><path d="M1184.34,400.09l4.3,4.3l-4.3,4.3l-4.3,-4.3z"/><path d="M1187.92,397.38l4.3,4.3l-4.3,4.3l-4.3,-4.3z"/><path d="M1185.54,402.86l4.3,4.3l-4.3,4.3l-4.3,-4.3z"/><path d="M1189.7,396l4.3,4.3l-4.3,4.3l-4.3,-4.3z"/><path d="M1187.32,398.13l4.3,4.3l-4.3,4.3l-4.3,-4.3z"/><path d="M1180.18,401.79l4.3,4.3l-4.3,4.3l-4.3,-4.3z"/><path d="M1194.46,393.01l4.3,4.3l-4.3,4.3l-4.3,-4.3z"/><path d="M1179.58,402.07l4.3,4.3l-4.3,4.3l-4.3,-4.3z"/><path d="M1188.51,397.05l4.3,4.3l-4.3,4.3l-4.3,-4.3z"/><path d="M1177.2,405.63l4.3,4.3l-4.3,4.3l-4.3,-4.3z"/><path d="M1176.61,406.47l4.3,4.3l-4.3,4.3l-4.3,-4.3z"/><path d="M1181.37,401.49l4.3,4.3l-4.3,4.3l-4.3,-4.3z"/><path d="M1180.77,404.81l4.3,4.3l-4.3,4.3l-4.3,-4.3z"/><path d="M1182.56,402.8l4.3,4.3l-4.3,4.3l-4.3,-4.3z"/><path d="M1184.94,400.67l4.3,4.3l-4.3,4.3l-4.3,-4.3z"/><path d="M1177.8,403.89l4.3,4.3l-4.3,4.3l-4.3,-4.3z"/><path d="M1178.99,404.46l4.3,4.3l-4.3,4.3l-4.3,-4.3z"/><path d="M1176.01,405.74l4.3,4.3l-4.3,4.3l-4.3,-4.3z"/><path d="M1183.15,402.52l4.3,4.3l-4.3,4.3l-4.3,-4.3z"/><path d="M1183.75,400.57l4.3,4.3l-4.3,4.3l-4.3,-4.3z"/><path d="M1181.96,402.18l4.3,4.3l-4.3,4.3l-4.3,-4.3z"/><path d="M1170.66,413.05l4.3,4.3l-4.3,4.3l-4.3,-4.3z"/><path d="M1178.39,402.89l4.3,4.3l-4.3,4.3l-4.3,-4.3z"/><path d="M1172.44,409.24l4.3,4.3l-4.3,4.3l-4.3,-4.3z"/><path d="M1174.23,408.29l4.3,4.3l-4.3,4.3l-4.3,-4.3z"/><path d="M1162.92,419.8l4.3,4.3l-4.3,4.3l-4.3,-4.3z"/><path d="M1175.42,405.19l4.3,4.3l-4.3,4.3l-4.3,-4.3z"/><path d="M1170.06,412.24l4.3,4.3l-4.3,4.3l-4.3,-4.3z"/><path d="M1171.85,409.78l4.3,4.3l-4.3,4.3l-4.3,-4.3z"/><path d="M1173.04,411.33l4.3,4.3l-4.3,4.3l-4.3,-4.3z"/><path d="M1174.82,407.4l4.3,4.3l-4.3,4.3l-4.3,-4.3z"/><path d="M1167.08,414.86l4.3,4.3l-4.3,4.3l-4.3,-4.3z"/><path d="M1167.68,414.94l4.3,4.3l-4.3,4.3l-4.3,-4.3z"/><path d="M1164.7,418.57l4.3,4.3l-4.3,4.3l-4.3,-4.3z"/><path d="M1169.46,409.04l4.3,4.3l-4.3,4.3l-4.3,-4.3z"/><path d="M1155.77,423.73l4.3,4.3l-4.3,4.3l-4.3,-4.3z"/><path d="M1171.25,410.1l4.3,4.3l-4.3,4.3l-4.3,-4.3z"/><path d="M1160.54,422.55l4.3,4.3l-4.3,4.3l-4.3,-4.3z"/><path d="M1164.11,418.21l4.3,4.3l-4.3,4.3l-4.3,-4.3z"/><path d="M1163.51,417.71l4.3,4.3l-4.3,4.3l-4.3,-4.3z"/><path d="M1173.63,403.24l4.3,4.3l-4.3,4.3l-4.3,-4.3z"/><path d="M1153.39,425.84l4.3,4.3l-4.3,4.3l-4.3,-4.3z"/><path d="M1156.37,423.31l4.3,4.3l-4.3,4.3l-4.3,-4.3z"/><path d="M1168.27,412.91l4.3,4.3l-4.3,4.3l-4.3,-4.3z"/><path d="M1159.94,422.27l4.3,4.3l-4.3,4.3l-4.3,-4.3z"/><path d="M1165.3,416.95l4.3,4.3l-4.3,4.3l-4.3,-4.3z"/><path d="M1168.87,414.58l4.3,4.3l-4.3,4.3l-4.3,-4.3z"/><path d="M1161.13,421.9l4.3,4.3l-4.3,4.3l-4.3,-4.3z"/><path d="M1165.89,416.28l4.3,4.3l-4.3,4.3l-4.3,-4.3z"/><path d="M1157.56,422.38l4.3,4.3l-4.3,4.3l-4.3,-4.3z"/><path d="M1152.2,425.8l4.3,4.3l-4.3,4.3l-4.3,-4.3z"/><path d="M1166.49,414.67l4.3,4.3l-4.3,4.3l-4.3,-4.3z"/><path d="M1161.73,420.42l4.3,4.3l-4.3,4.3l-4.3,-4.3z"/><path d="M1159.35,421.94l4.3,4.3l-4.3,4.3l-4.3,-4.3z"/><path d="M1158.75,422.37l4.3,4.3l-4.3,4.3l-4.3,-4.3z"/><path d="M1149.23,428.82l4.3,4.3l-4.3,4.3l-4.3,-4.3z"/><path d="M1158.16,421.9l4.3,4.3l-4.3,4.3l-4.3,-4.3z"/><path d="M1152.8,425.46l4.3,4.3l-4.3,4.3l-4.3,-4.3z"/><path d="M1155.18,425.1l4.3,4.3l-4.3,4.3l-4.3,-4.3z"/><path d="M1148.63,428.36l4.3,4.3l-4.3,4.3l-4.3,-4.3z"/><path d="M1154.58,425.09l4.3,4.3l-4.3,4.3l-4.3,-4.3z"/><path d="M1153.99,424.8l4.3,4.3l-4.3,4.3l-4.3,-4.3z"/><path d="M1149.82,430.78l4.3,4.3l-4.3,4.3l-4.3,-4.3z"/><path d="M1145.66,432.87l4.3,4.3l-4.3,4.3l-4.3,-4.3z"/><path d="M1151.61,427.47l4.3,4.3l-4.3,4.3l-4.3,-4.3z"/><path d="M1162.32,419.3l4.3,4.3l-4.3,4.3l-4.3,-4.3z"/><path d="M1151.01,426.59l4.3,4.3l-4.3,4.3l-4.3,-4.3z"/><path d="M1150.42,427.12l4.3,4.3l-4.3,4.3l-4.3,-4.3z"/><path d="M1146.85,430.18l4.3,4.3l-4.3,4.3l-4.3,-4.3z"/><path d="M1156.97,424.61l4.3,4.3l-4.3,4.3l-4.3,-4.3z"/><path d="M1142.08,433.66l4.3,4.3l-4.3,4.3l-4.3,-4.3z"/><path d="M1148.04,428.8l4.3,4.3l-4.3,4.3l-4.3,-4.3z"/><path d="M1141.49,434.35l4.3,4.3l-4.3,4.3l-4.3,-4.3z"/><path d="M1142.68,435.63l4.3,4.3l-4.3,4.3l-4.3,-4.3z"/><path d="M1139.7,438.28l4.3,4.3l-4.3,4.3l-4.3,-4.3z"/><path d="M1147.44,435.06l4.3,4.3l-4.3,4.3l-4.3,-4.3z"/><path d="M1145.06,430.47l4.3,4.3l-4.3,4.3l-4.3,-4.3z"/><path d="M1143.28,434.1l4.3,4.3l-4.3,4.3l-4.3,-4.3z"/><path d="M1146.25,430.09l4.3,4.3l-4.3,4.3l-4.3,-4.3z"/><path d="M1131.37,444.02l4.3,4.3l-4.3,4.3l-4.3,-4.3z"/><path d="M1137.92,438.51l4.3,4.3l-4.3,4.3l-4.3,-4.3z"/><path d="M1144.47,431.43l4.3,4.3l-4.3,4.3l-4.3,-4.3z"/><path d="M1140.89,433.99l4.3,4.3l-4.3,4.3l-4.3,-4.3z"/><path d="M1138.51,438.36l4.3,4.3l-4.3,4.3l-4.3,-4.3z"/><path d="M1137.32,438.68l4.3,4.3l-4.3,4.3l-4.3,-4.3z"/><path d="M1131.97,443.13l4.3,4.3l-4.3,4.3l-4.3,-4.3z"/><path d="M1136.13,439.45l4.3,4.3l-4.3,4.3l-4.3,-4.3z"/><path d="M1133.75,441.39l4.3,4.3l-4.3,4.3l-4.3,-4.3z"/><path d="M1133.16,442.55l4.3,4.3l-4.3,4.3l-4.3,-4.3z"/><path d="M1143.87,434.46l4.3,4.3l-4.3,4.3l-4.3,-4.3z"/><path d="M1139.11,438.37l4.3,4.3l-4.3,4.3l-4.3,-4.3z"/><path d="M1134.35,437.35l4.3,4.3l-4.3,4.3l-4.3,-4.3z"/><path d="M1134.94,438.47l4.3,4.3l-4.3,4.3l-4.3,-4.3z"/><path d="M1126.61,448.31l4.3,4.3l-4.3,4.3l-4.3,-4.3z"/><path d="M1127.8,445.53l4.3,4.3l-4.3,4.3l-4.3,-4.3z"/><path d="M1121.25,451.65l4.3,4.3l-4.3,4.3l-4.3,-4.3z"/><path d="M1130.78,440.25l4.3,4.3l-4.3,4.3l-4.3,-4.3z"/><path d="M1126.01,447.98l4.3,4.3l-4.3,4.3l-4.3,-4.3z"/><path d="M1132.56,445.65l4.3,4.3l-4.3,4.3l-4.3,-4.3z"/><path d="M1129.59,442.96l4.3,4.3l-4.3,4.3l-4.3,-4.3z"/><path d="M1120.66,452.06l4.3,4.3l-4.3,4.3l-4.3,-4.3z"/><path d="M1127.2,448.15l4.3,4.3l-4.3,4.3l-4.3,-4.3z"/><path d="M1140.3,437.38l4.3,4.3l-4.3,4.3l-4.3,-4.3z"/><path d="M1136.73,435.99l4.3,4.3l-4.3,4.3l-4.3,-4.3z"/><path d="M1125.42,449.21l4.3,4.3l-4.3,4.3l-4.3,-4.3z"/><path d="M1128.4,446.1l4.3,4.3l-4.3,4.3l-4.3,-4.3z"/><path d="M1135.54,441.44l4.3,4.3l-4.3,4.3l-4.3,-4.3z"/><path d="M1124.82,448.9l4.3,4.3l-4.3,4.3l-4.3,-4.3z"/><path d="M1120.06,452.47l4.3,4.3l-4.3,4.3l-4.3,-4.3z"/><path d="M1123.63,445.92l4.3,4.3l-4.3,4.3l-4.3,-4.3z"/><path d="M1119.47,453.55l4.3,4.3l-4.3,4.3l-4.3,-4.3z"/><path d="M1122.44,450.21l4.3,4.3l-4.3,4.3l-4.3,-4.3z"/><path d="M1128.99,444.78l4.3,4.3l-4.3,4.3l-4.3,-4.3z"/><path d="M1114.71,457.16l4.3,4.3l-4.3,4.3l-4.3,-4.3z"/><path d="M1121.85,451.89l4.3,4.3l-4.3,4.3l-4.3,-4.3z"/><path d="M1130.18,441.6l4.3,4.3l-4.3,4.3l-4.3,-4.3z"/><path d="M1118.87,453.67l4.3,4.3l-4.3,4.3l-4.3,-4.3z"/><path d="M1115.9,459.43l4.3,4.3l-4.3,4.3l-4.3,-4.3z"/><path d="M1123.04,451.17l4.3,4.3l-4.3,4.3l-4.3,-4.3z"/><path d="M1118.28,455.3l4.3,4.3l-4.3,4.3l-4.3,-4.3z"/><path d="M1116.49,456.13l4.3,4.3l-4.3,4.3l-4.3,-4.3z"/><path d="M1124.23,449.27l4.3,4.3l-4.3,4.3l-4.3,-4.3z"/><path d="M1107.56,462.41l4.3,4.3l-4.3,4.3l-4.3,-4.3z"/><path d="M1113.51,458.59l4.3,4.3l-4.3,4.3l-4.3,-4.3z"/><path d="M1115.3,455.64l4.3,4.3l-4.3,4.3l-4.3,-4.3z"/><path d="M1109.94,459.22l4.3,4.3l-4.3,4.3l-4.3,-4.3z"/><path d="M1111.13,459.35l4.3,4.3l-4.3,4.3l-4.3,-4.3z"/><path d="M1105.78,461.85l4.3,4.3l-4.3,4.3l-4.3,-4.3z"/><path d="M1117.68,453.77l4.3,4.3l-4.3,4.3l-4.3,-4.3z"/><path d="M1104.59,463.46l4.3,4.3l-4.3,4.3l-4.3,-4.3z"/><path d="M1108.16,460.3l4.3,4.3l-4.3,4.3l-4.3,-4.3z"/><path d="M1117.09,453.43l4.3,4.3l-4.3,4.3l-4.3,-4.3z"/><path d="M1114.11,456.41l4.3,4.3l-4.3,4.3l-4.3,-4.3z"/><path d="M1099.83,469.27l4.3,4.3l-4.3,4.3l-4.3,-4.3z"/><path d="M1106.37,463.76l4.3,4.3l-4.3,4.3l-4.3,-4.3z"/><path d="M1111.73,456.38l4.3,4.3l-4.3,4.3l-4.3,-4.3z"/><path d="M1103.99,463.49l4.3,4.3l-4.3,4.3l-4.3,-4.3z"/><path d="M1112.92,459.73l4.3,4.3l-4.3,4.3l-4.3,-4.3z"/><path d="M1110.54,459.82l4.3,4.3l-4.3,4.3l-4.3,-4.3z"/><path d="M1108.75,461.67l4.3,4.3l-4.3,4.3l-4.3,-4.3z"/><path d="M1112.32,457.39l4.3,4.3l-4.3,4.3l-4.3,-4.3z"/><path d="M1109.35,460.43l4.3,4.3l-4.3,4.3l-4.3,-4.3z"/><path d="M1101.61,467.47l4.3,4.3l-4.3,4.3l-4.3,-4.3z"/><path d="M1105.18,463.79l4.3,4.3l-4.3,4.3l-4.3,-4.3z"/><path d="M1106.97,461.87l4.3,4.3l-4.3,4.3l-4.3,-4.3z"/><path d="M1101.02,468.21l4.3,4.3l-4.3,4.3l-4.3,-4.3z"/><path d="M1102.8,466.6l4.3,4.3l-4.3,4.3l-4.3,-4.3z"/><path d="M1097.44,470.85l4.3,4.3l-4.3,4.3l-4.3,-4.3z"/><path d="M1095.66,473.85l4.3,4.3l-4.3,4.3l-4.3,-4.3z"/><path d="M1102.21,469.68l4.3,4.3l-4.3,4.3l-4.3,-4.3z"/><path d="M1103.4,465.37l4.3,4.3l-4.3,4.3l-4.3,-4.3z"/><path d="M1100.42,469.82l4.3,4.3l-4.3,4.3l-4.3,-4.3z"/><path d="M1093.87,474.83l4.3,4.3l-4.3,4.3l-4.3,-4.3z"/><path d="M1098.63,472.04l4.3,4.3l-4.3,4.3l-4.3,-4.3z"/><path d="M1092.68,475.4l4.3,4.3l-4.3,4.3l-4.3,-4.3z"/><path d="M1099.23,471.32l4.3,4.3l-4.3,4.3l-4.3,-4.3z"/><path d="M1096.85,472.64l4.3,4.3l-4.3,4.3l-4.3,-4.3z"/><path d="M1091.49,476.54l4.3,4.3l-4.3,4.3l-4.3,-4.3z"/><path d="M1098.04,469.62l4.3,4.3l-4.3,4.3l-4.3,-4.3z"/><path d="M1094.47,475.8l4.3,4.3l-4.3,4.3l-4.3,-4.3z"/><path d="M1088.52,479.28l4.3,4.3l-4.3,4.3l-4.3,-4.3z"/><path d="M1095.06,471.57l4.3,4.3l-4.3,4.3l-4.3,-4.3z"/><path d="M1089.71,477.63l4.3,4.3l-4.3,4.3l-4.3,-4.3z"/><path d="M1092.09,475.34l4.3,4.3l-4.3,4.3l-4.3,-4.3z"/><path d="M1086.73,479.5l4.3,4.3l-4.3,4.3l-4.3,-4.3z"/><path d="M1093.28,475.52l4.3,4.3l-4.3,4.3l-4.3,-4.3z"/><path d="M1090.9,477.81l4.3,4.3l-4.3,4.3l-4.3,-4.3z"/><path d="M1096.25,471.93l4.3,4.3l-4.3,4.3l-4.3,-4.3z"/><path d="M1084.35,480.91l4.3,4.3l-4.3,4.3l-4.3,-4.3z"/><path d="M1090.3,477.3l4.3,4.3l-4.3,4.3l-4.3,-4.3z"/><path d="M1086.14,478.35l4.3,4.3l-4.3,4.3l-4.3,-4.3z"/><path d="M1087.92,478.45l4.3,4.3l-4.3,4.3l-4.3,-4.3z"/><path d="M1087.33,475.7l4.3,4.3l-4.3,4.3l-4.3,-4.3z"/><path d="M1089.11,478.7l4.3,4.3l-4.3,4.3l-4.3,-4.3z"/><path d="M1083.75,481.64l4.3,4.3l-4.3,4.3l-4.3,-4.3z"/><path d="M1085.54,480.17l4.3,4.3l-4.3,4.3l-4.3,-4.3z"/><path d="M1083.16,480.64l4.3,4.3l-4.3,4.3l-4.3,-4.3z"/><path d="M1074.23,489.18l4.3,4.3l-4.3,4.3l-4.3,-4.3z"/><path d="M1081.37,481.95l4.3,4.3l-4.3,4.3l-4.3,-4.3z"/><path d="M1082.56,481.72l4.3,4.3l-4.3,4.3l-4.3,-4.3z"/><path d="M1078.4,485.61l4.3,4.3l-4.3,4.3l-4.3,-4.3z"/><path d="M1077.8,485.06l4.3,4.3l-4.3,4.3l-4.3,-4.3z"/><path d="M1080.78,482.43l4.3,4.3l-4.3,4.3l-4.3,-4.3z"/><path d="M1065.9,496.19l4.3,4.3l-4.3,4.3l-4.3,-4.3z"/><path d="M1080.18,487.44l4.3,4.3l-4.3,4.3l-4.3,-4.3z"/><path d="M1071.85,489.61l4.3,4.3l-4.3,4.3l-4.3,-4.3z"/><path d="M1081.97,482.89l4.3,4.3l-4.3,4.3l-4.3,-4.3z"/><path d="M1076.02,486.88l4.3,4.3l-4.3,4.3l-4.3,-4.3z"/><path d="M1084.94,479.23l4.3,4.3l-4.3,4.3l-4.3,-4.3z"/><path d="M1073.64,490.85l4.3,4.3l-4.3,4.3l-4.3,-4.3z"/><path d="M1075.42,486.59l4.3,4.3l-4.3,4.3l-4.3,-4.3z"/><path d="M1074.83,487.23l4.3,4.3l-4.3,4.3l-4.3,-4.3z"/><path d="M1077.21,487.47l4.3,4.3l-4.3,4.3l-4.3,-4.3z"/><path d="M1079.59,485.58l4.3,4.3l-4.3,4.3l-4.3,-4.3z"/><path d="M1078.99,486.34l4.3,4.3l-4.3,4.3l-4.3,-4.3z"/><path d="M1070.06,493.37l4.3,4.3l-4.3,4.3l-4.3,-4.3z"/><path d="M1068.87,492.6l4.3,4.3l-4.3,4.3l-4.3,-4.3z"/><path d="M1073.04,490.64l4.3,4.3l-4.3,4.3l-4.3,-4.3z"/><path d="M1072.45,491.39l4.3,4.3l-4.3,4.3l-4.3,-4.3z"/><path d="M1062.33,498.34l4.3,4.3l-4.3,4.3l-4.3,-4.3z"/><path d="M1067.68,496.21l4.3,4.3l-4.3,4.3l-4.3,-4.3z"/><path d="M1062.92,497.17l4.3,4.3l-4.3,4.3l-4.3,-4.3z"/><path d="M1070.66,493.48l4.3,4.3l-4.3,4.3l-4.3,-4.3z"/><path d="M1065.3,498.35l4.3,4.3l-4.3,4.3l-4.3,-4.3z"/><path d="M1067.09,495.2l4.3,4.3l-4.3,4.3l-4.3,-4.3z"/><path d="M1071.25,491.35l4.3,4.3l-4.3,4.3l-4.3,-4.3z"/><path d="M1064.71,496.15l4.3,4.3l-4.3,4.3l-4.3,-4.3z"/><path d="M1068.28,495.69l4.3,4.3l-4.3,4.3l-4.3,-4.3z"/><path d="M1064.11,497.11l4.3,4.3l-4.3,4.3l-4.3,-4.3z"/><path d="M1076.61,487.63l4.3,4.3l-4.3,4.3l-4.3,-4.3z"/><path d="M1061.73,500.98l4.3,4.3l-4.3,4.3l-4.3,-4.3z"/><path d="M1069.47,493.32l4.3,4.3l-4.3,4.3l-4.3,-4.3z"/><path d="M1059.35,502.44l4.3,4.3l-4.3,4.3l-4.3,-4.3z"/><path d="M1066.49,498.76l4.3,4.3l-4.3,4.3l-4.3,-4.3z"/><path d="M1053.4,507.02l4.3,4.3l-4.3,4.3l-4.3,-4.3z"/><path d="M1056.97,506.74l4.3,4.3l-4.3,4.3l-4.3,-4.3z"/><path d="M1048.64,510.42l4.3,4.3l-4.3,4.3l-4.3,-4.3z"/><path d="M1057.57,503.1l4.3,4.3l-4.3,4.3l-4.3,-4.3z"/><path d="M1063.52,498.6l4.3,4.3l-4.3,4.3l-4.3,-4.3z"/><path d="M1061.14,499.22l4.3,4.3l-4.3,4.3l-4.3,-4.3z"/><path d="M1060.54,500.88l4.3,4.3l-4.3,4.3l-4.3,-4.3z"/><path d="M1049.23,508.44l4.3,4.3l-4.3,4.3l-4.3,-4.3z"/><path d="M1055.78,504.13l4.3,4.3l-4.3,4.3l-4.3,-4.3z"/><path d="M1056.37,502.65l4.3,4.3l-4.3,4.3l-4.3,-4.3z"/><path d="M1053.99,504.45l4.3,4.3l-4.3,4.3l-4.3,-4.3z"/><path d="M1047.45,511.26l4.3,4.3l-4.3,4.3l-4.3,-4.3z"/><path d="M1059.95,501.58l4.3,4.3l-4.3,4.3l-4.3,-4.3z"/><path d="M1054.59,505.75l4.3,4.3l-4.3,4.3l-4.3,-4.3z"/><path d="M1055.18,505.61l4.3,4.3l-4.3,4.3l-4.3,-4.3z"/><path d="M1051.61,508.13l4.3,4.3l-4.3,4.3l-4.3,-4.3z"/><path d="M1058.76,498.06l4.3,4.3l-4.3,4.3l-4.3,-4.3z"/><path d="M1052.8,506.86l4.3,4.3l-4.3,4.3l-4.3,-4.3z"/><path d="M1058.16,502.73l4.3,4.3l-4.3,4.3l-4.3,-4.3z"/><path d="M1050.42,507.87l4.3,4.3l-4.3,4.3l-4.3,-4.3z"/><path d="M1051.02,507.77l4.3,4.3l-4.3,4.3l-4.3,-4.3z"/><path d="M1052.21,507.28l4.3,4.3l-4.3,4.3l-4.3,-4.3z"/><path d="M1049.83,510.74l4.3,4.3l-4.3,4.3l-4.3,-4.3z"/><path d="M1043.88,513.95l4.3,4.3l-4.3,4.3l-4.3,-4.3z"/><path d="M1040.9,514.85l4.3,4.3l-4.3,4.3l-4.3,-4.3z"/><path d="M1046.85,509.6l4.3,4.3l-4.3,4.3l-4.3,-4.3z"/><path d="M1048.04,510.61l4.3,4.3l-4.3,4.3l-4.3,-4.3z"/><path d="M1045.66,510.75l4.3,4.3l-4.3,4.3l-4.3,-4.3z"/><path d="M1042.68,513.33l4.3,4.3l-4.3,4.3l-4.3,-4.3z"/><path d="M1046.26,511.46l4.3,4.3l-4.3,4.3l-4.3,-4.3z"/><path d="M1033.16,524.16l4.3,4.3l-4.3,4.3l-4.3,-4.3z"/><path d="M1041.49,513.94l4.3,4.3l-4.3,4.3l-4.3,-4.3z"/><path d="M1043.28,513.86l4.3,4.3l-4.3,4.3l-4.3,-4.3z"/><path d="M1033.76,523.9l4.3,4.3l-4.3,4.3l-4.3,-4.3z"/><path d="M1040.3,516.98l4.3,4.3l-4.3,4.3l-4.3,-4.3z"/><path d="M1039.11,517.88l4.3,4.3l-4.3,4.3l-4.3,-4.3z"/><path d="M1044.47,515.79l4.3,4.3l-4.3,4.3l-4.3,-4.3z"/><path d="M1036.14,522.27l4.3,4.3l-4.3,4.3l-4.3,-4.3z"/><path d="M1045.07,510.97l4.3,4.3l-4.3,4.3l-4.3,-4.3z"/><path d="M1039.71,516.58l4.3,4.3l-4.3,4.3l-4.3,-4.3z"/><path d="M1042.09,515.56l4.3,4.3l-4.3,4.3l-4.3,-4.3z"/><path d="M1034.95,523.12l4.3,4.3l-4.3,4.3l-4.3,-4.3z"/><path d="M1038.52,518.64l4.3,4.3l-4.3,4.3l-4.3,-4.3z"/><path d="M1029,527.44l4.3,4.3l-4.3,4.3l-4.3,-4.3z"/><path d="M1036.73,522.26l4.3,4.3l-4.3,4.3l-4.3,-4.3z"/><path d="M1027.8,528.14l4.3,4.3l-4.3,4.3l-4.3,-4.3z"/><path d="M1030.19,527.89l4.3,4.3l-4.3,4.3l-4.3,-4.3z"/><path d="M1037.92,517.3l4.3,4.3l-4.3,4.3l-4.3,-4.3z"/><path d="M1026.02,530.34l4.3,4.3l-4.3,4.3l-4.3,-4.3z"/><path d="M1034.35,522.8l4.3,4.3l-4.3,4.3l-4.3,-4.3z"/><path d="M1023.64,529.43l4.3,4.3l-4.3,4.3l-4.3,-4.3z"/><path d="M1028.4,526.4l4.3,4.3l-4.3,4.3l-4.3,-4.3z"/><path d="M1014.71,537.23l4.3,4.3l-4.3,4.3l-4.3,-4.3z"/><path d="M1031.97,524.34l4.3,4.3l-4.3,4.3l-4.3,-4.3z"/><path d="M1037.33,516.07l4.3,4.3l-4.3,4.3l-4.3,-4.3z"/><path d="M1019.47,534.93l4.3,4.3l-4.3,4.3l-4.3,-4.3z"/><path d="M1030.78,524.97l4.3,4.3l-4.3,4.3l-4.3,-4.3z"/><path d="M1029.59,527.71l4.3,4.3l-4.3,4.3l-4.3,-4.3z"/><path d="M1031.38,523.78l4.3,4.3l-4.3,4.3l-4.3,-4.3z"/><path d="M1032.57,523.48l4.3,4.3l-4.3,4.3l-4.3,-4.3z"/><path d="M1035.54,520.69l4.3,4.3l-4.3,4.3l-4.3,-4.3z"/><path d="M1017.09,533.83l4.3,4.3l-4.3,4.3l-4.3,-4.3z"/><path d="M1024.83,530.13l4.3,4.3l-4.3,4.3l-4.3,-4.3z"/><path d="M1024.23,530.72l4.3,4.3l-4.3,4.3l-4.3,-4.3z"/><path d="M1026.61,529.82l4.3,4.3l-4.3,4.3l-4.3,-4.3z"/><path d="M1021.85,531.35l4.3,4.3l-4.3,4.3l-4.3,-4.3z"/><path d="M1025.42,530.15l4.3,4.3l-4.3,4.3l-4.3,-4.3z"/><path d="M1027.21,528.34l4.3,4.3l-4.3,4.3l-4.3,-4.3z"/><path d="M1022.45,530.93l4.3,4.3l-4.3,4.3l-4.3,-4.3z"/><path d="M1018.88,532.67l4.3,4.3l-4.3,4.3l-4.3,-4.3z"/><path d="M1023.04,530.43l4.3,4.3l-4.3,4.3l-4.3,-4.3z"/><path d="M1018.28,535.75l4.3,4.3l-4.3,4.3l-4.3,-4.3z"/><path d="M1021.26,532.08l4.3,4.3l-4.3,4.3l-4.3,-4.3z"/><path d="M1020.66,532.07l4.3,4.3l-4.3,4.3l-4.3,-4.3z"/><path d="M1015.31,535.89l4.3,4.3l-4.3,4.3l-4.3,-4.3z"/><path d="M1020.07,534.59l4.3,4.3l-4.3,4.3l-4.3,-4.3z"/><path d="M1017.69,534.19l4.3,4.3l-4.3,4.3l-4.3,-4.3z"/><path d="M1016.5,535.63l4.3,4.3l-4.3,4.3l-4.3,-4.3z"/><path d="M1015.9,536.88l4.3,4.3l-4.3,4.3l-4.3,-4.3z"/></g>
<line x1="1014.71" y1="541.74" x2="1549.8" y2="109.98" stroke="#0000ff" stroke-width="2.5" stroke-linecap="round"/>
<line x1="942.4" y1="600.2" x2="1665.5" y2="17.3" stroke="#ff0000" stroke-width="2.6" stroke-dasharray="12.2 17.3" stroke-linecap="round"/>
<line x1="942.4" y1="17.3" x2="1665.5" y2="17.3" stroke="#111" stroke-width="2" />
<line x1="1665.5" y1="16.3" x2="1665.5" y2="600.2" stroke="#111" stroke-width="2.2" />
<line x1="942.4" y1="16.3" x2="942.4" y2="611.2" stroke="#000" stroke-width="2.6" />
<line x1="931.4" y1="600.2" x2="1666.6" y2="600.2" stroke="#000" stroke-width="2.6" />
<line x1="942.4" y1="600.2" x2="942.4" y2="611.8" stroke="#000" stroke-width="2.2" />
<line x1="930.8" y1="600.2" x2="942.4" y2="600.2" stroke="#000" stroke-width="2.2" />
<text transform="translate(943,638.8) scale(0.9,1)" font-size="27.4" text-anchor="middle">0</text>
<text transform="translate(923.6,608.2) scale(0.9,1)" font-size="27.4" text-anchor="end">0</text>
<line x1="1014.71" y1="600.2" x2="1014.71" y2="606.4" stroke="#000" stroke-width="2.2" />
<line x1="936.2" y1="541.91" x2="942.4" y2="541.91" stroke="#000" stroke-width="2.2" />
<line x1="1087.02" y1="600.2" x2="1087.02" y2="611.8" stroke="#000" stroke-width="2.2" />
<line x1="930.8" y1="483.62" x2="942.4" y2="483.62" stroke="#000" stroke-width="2.2" />
<text transform="translate(1087.62,638.8) scale(0.9,1)" font-size="27.4" text-anchor="middle">20</text>
<text transform="translate(923.6,491.62) scale(0.9,1)" font-size="27.4" text-anchor="end">20</text>
<line x1="1159.33" y1="600.2" x2="1159.33" y2="606.4" stroke="#000" stroke-width="2.2" />
<line x1="936.2" y1="425.33" x2="942.4" y2="425.33" stroke="#000" stroke-width="2.2" />
<line x1="1231.64" y1="600.2" x2="1231.64" y2="611.8" stroke="#000" stroke-width="2.2" />
<line x1="930.8" y1="367.04" x2="942.4" y2="367.04" stroke="#000" stroke-width="2.2" />
<text transform="translate(1232.24,638.8) scale(0.9,1)" font-size="27.4" text-anchor="middle">40</text>
<text transform="translate(923.6,375.04) scale(0.9,1)" font-size="27.4" text-anchor="end">40</text>
<line x1="1303.95" y1="600.2" x2="1303.95" y2="606.4" stroke="#000" stroke-width="2.2" />
<line x1="936.2" y1="308.75" x2="942.4" y2="308.75" stroke="#000" stroke-width="2.2" />
<line x1="1376.26" y1="600.2" x2="1376.26" y2="611.8" stroke="#000" stroke-width="2.2" />
<line x1="930.8" y1="250.46" x2="942.4" y2="250.46" stroke="#000" stroke-width="2.2" />
<text transform="translate(1376.86,638.8) scale(0.9,1)" font-size="27.4" text-anchor="middle">60</text>
<text transform="translate(923.6,258.46) scale(0.9,1)" font-size="27.4" text-anchor="end">60</text>
<line x1="1448.57" y1="600.2" x2="1448.57" y2="606.4" stroke="#000" stroke-width="2.2" />
<line x1="936.2" y1="192.17" x2="942.4" y2="192.17" stroke="#000" stroke-width="2.2" />
<line x1="1520.88" y1="600.2" x2="1520.88" y2="611.8" stroke="#000" stroke-width="2.2" />
<line x1="930.8" y1="133.88" x2="942.4" y2="133.88" stroke="#000" stroke-width="2.2" />
<text transform="translate(1521.48,638.8) scale(0.9,1)" font-size="27.4" text-anchor="middle">80</text>
<text transform="translate(923.6,141.88) scale(0.9,1)" font-size="27.4" text-anchor="end">80</text>
<line x1="1593.19" y1="600.2" x2="1593.19" y2="606.4" stroke="#000" stroke-width="2.2" />
<line x1="936.2" y1="75.59" x2="942.4" y2="75.59" stroke="#000" stroke-width="2.2" />
<line x1="1665.5" y1="600.2" x2="1665.5" y2="611.8" stroke="#000" stroke-width="2.2" />
<line x1="930.8" y1="17.3" x2="942.4" y2="17.3" stroke="#000" stroke-width="2.2" />
<text transform="translate(1666.1,638.8) scale(0.9,1)" font-size="27.4" text-anchor="middle">100</text>
<text transform="translate(923.6,25.3) scale(0.9,1)" font-size="27.4" text-anchor="end">100</text>
<text x="1303.95" y="686.5" font-size="30" text-anchor="middle" fill="#000" >True Stress (MPa)</text>
<text transform="translate(873.9,306.75) rotate(-90)" font-size="30" text-anchor="middle">Predicted Stress (MPa)</text>
<text x="850.9" y="58.3" font-size="30" text-anchor="start" fill="#000" >(b)</text>
<text x="1334.5" y="507.3" font-size="30">R<tspan dy="-12" font-size="20">2</tspan><tspan dy="12">=0.99982</tspan></text>
<text x="1328" y="546.3" font-size="30">σ<tspan dy="8.5" font-size="20">p</tspan><tspan dy="-8.5">=0.02474+1.00113σ</tspan><tspan dy="8.5" font-size="20">T</tspan></text>
</g>
<g font-family='"Liberation Serif", "DejaVu Serif", serif'>
<line x1="188.87" y1="1129.13" x2="179.67" y2="791.93" stroke="#e6e6e6" stroke-width="1" stroke-dasharray="1.5 1.5"/>
<line x1="429.66" y1="1072.87" x2="442.88" y2="755.66" stroke="#e6e6e6" stroke-width="1" stroke-dasharray="1.5 1.5"/>
<line x1="179.42" y1="1195.36" x2="429.66" y2="1072.87" stroke="#efefef" stroke-width="1" />
<line x1="188.87" y1="1129.13" x2="455.27" y2="1272.56" stroke="#efefef" stroke-width="1" />
<line x1="253.41" y1="1099.63" x2="250.61" y2="772.2" stroke="#e6e6e6" stroke-width="1" stroke-dasharray="1.5 1.5"/>
<line x1="492.85" y1="1101.12" x2="512.42" y2="775.78" stroke="#e6e6e6" stroke-width="1" stroke-dasharray="1.5 1.5"/>
<line x1="243.5" y1="1232.42" x2="492.85" y2="1101.12" stroke="#efefef" stroke-width="1" />
<line x1="253.41" y1="1099.63" x2="518.68" y2="1233.28" stroke="#efefef" stroke-width="1" />
<line x1="313.7" y1="1072.08" x2="316.47" y2="753.87" stroke="#e6e6e6" stroke-width="1" stroke-dasharray="1.5 1.5"/>
<line x1="560.1" y1="1131.17" x2="586.84" y2="797.31" stroke="#e6e6e6" stroke-width="1" stroke-dasharray="1.5 1.5"/>
<line x1="312.35" y1="1272.24" x2="560.1" y2="1131.17" stroke="#efefef" stroke-width="1" />
<line x1="313.7" y1="1072.08" x2="577.35" y2="1196.94" stroke="#efefef" stroke-width="1" />
<line x1="115.77" y1="1080.04" x2="371.95" y2="973.66" stroke="#b2b2b2" stroke-width="1.3" />
<line x1="371.95" y1="973.66" x2="639.9" y2="1083.5" stroke="#b2b2b2" stroke-width="1.3" />
<line x1="111.73" y1="995.4" x2="373.81" y2="898.02" stroke="#b2b2b2" stroke-width="1.3" />
<line x1="373.81" y1="898.02" x2="648.4" y2="999.99" stroke="#b2b2b2" stroke-width="1.3" />
<line x1="107.5" y1="906.58" x2="375.74" y2="819.14" stroke="#b2b2b2" stroke-width="1.3" />
<line x1="375.74" y1="819.14" x2="657.32" y2="912.39" stroke="#b2b2b2" stroke-width="1.3" />
<path d="M103.04,813.26 L377.76,736.82 L666.68,820.41 L631.79,1163.22" fill="none" stroke="#2b2b2b" stroke-width="1.4" stroke-linejoin="round"/>
<line x1="370.16" y1="1046.27" x2="377.76" y2="736.82" stroke="#2b2b2b" stroke-width="1.3" />
<path d="M119.63,1160.78 L370.16,1046.27 L631.79,1163.22" fill="none" stroke="#222" stroke-width="1.7" stroke-linejoin="round"/>
<path d="M357.49,1072.37 L363.82,772.99 L363.84,772.58 L363.99,772.18 L364.25,771.78 L364.62,771.4 L365.11,771.03 L365.7,770.68 L366.39,770.34 L367.18,770.03 L368.06,769.75 L369.03,769.49 L370.07,769.25 L371.18,769.05 L372.36,768.88 L373.58,768.74 L374.85,768.64 L376.14,768.57 L377.47,768.54 L378.8,768.54 L380.14,768.57 L381.48,768.64 L382.79,768.75 L384.08,768.89 L385.34,769.06 L386.55,769.26 L387.71,769.5 L388.8,769.76 L389.82,770.04 L390.77,770.36 L391.63,770.69 L392.4,771.04 L393.06,771.41 L393.63,771.8 L394.08,772.19 L394.43,772.59 L394.66,773 L394.77,773.41 L394.77,773.82 L386.01,1073.15 L385.89,1073.72 L385.67,1074.29 L385.34,1074.84 L384.9,1075.38 L384.36,1075.89 L383.73,1076.38 L383,1076.84 L382.19,1077.27 L381.3,1077.66 L380.33,1078.01 L379.29,1078.32 L378.2,1078.58 L377.06,1078.8 L375.87,1078.97 L374.66,1079.09 L373.42,1079.16 L372.17,1079.17 L370.91,1079.14 L369.67,1079.06 L368.43,1078.92 L367.23,1078.73 L366.06,1078.5 L364.93,1078.22 L363.86,1077.9 L362.84,1077.53 L361.9,1077.13 L361.03,1076.69 L360.25,1076.22 L359.56,1075.73 L358.95,1075.2 L358.45,1074.66 L358.05,1074.1 L357.76,1073.53 L357.57,1072.95Z" fill="url(#gc12)" stroke="#3f7866" stroke-width="0.7" stroke-opacity="0.7" stroke-linejoin="round"/>
<path d="M390.67,776.69 L391.54,776.4 L392.33,776.08 L393.01,775.74 L393.59,775.39 L394.06,775.01 L394.41,774.62 L394.65,774.23 L394.77,773.82 L394.77,773.41 L394.66,773 L394.43,772.59 L394.08,772.19 L393.63,771.8 L393.06,771.41 L392.4,771.04 L391.63,770.69 L390.77,770.36 L389.83,770.05 L388.8,769.76 L387.71,769.5 L386.55,769.26 L385.34,769.06 L384.08,768.89 L382.79,768.75 L381.48,768.64 L380.14,768.57 L378.8,768.54 L377.47,768.54 L376.14,768.57 L374.84,768.64 L373.58,768.74 L372.36,768.88 L371.18,769.05 L370.07,769.25 L369.03,769.49 L368.06,769.75 L367.18,770.03 L366.39,770.34 L365.7,770.68 L365.11,771.03 L364.62,771.4 L364.25,771.78 L363.99,772.18 L363.84,772.58 L363.82,772.99 L363.91,773.4 L364.12,773.81 L364.44,774.21 L364.88,774.61 L365.43,775 L366.09,775.38 L366.85,775.74 L367.7,776.08 L368.64,776.39 L369.67,776.69 L370.77,776.96 L371.94,777.2 L373.17,777.4 L374.44,777.58 L375.75,777.72 L377.09,777.83 L378.45,777.9 L379.81,777.94 L381.17,777.94 L382.51,777.91 L383.83,777.83 L385.11,777.73 L386.35,777.58 L387.53,777.41 L388.65,777.2 L389.7,776.96Z" fill="#4f957f" stroke="#336152" stroke-width="1.2"/>
<path d="M298.74,1099.91 L299.27,981.06 L299.34,980.51 L299.53,979.96 L299.83,979.43 L300.25,978.9 L300.77,978.4 L301.39,977.92 L302.12,977.46 L302.93,977.03 L303.84,976.64 L304.82,976.27 L305.88,975.95 L307,975.67 L308.18,975.43 L309.4,975.23 L310.67,975.08 L311.96,974.97 L313.27,974.91 L314.59,974.9 L315.91,974.93 L317.22,975.02 L318.51,975.15 L319.77,975.32 L320.99,975.54 L322.16,975.8 L323.28,976.11 L324.33,976.45 L325.31,976.83 L326.21,977.24 L327.02,977.68 L327.74,978.15 L328.36,978.65 L328.87,979.16 L329.27,979.69 L329.57,980.23 L329.75,980.78 L329.82,981.34 L328.28,1100.1 L328.23,1100.72 L328.07,1101.33 L327.79,1101.93 L327.41,1102.53 L326.92,1103.1 L326.33,1103.65 L325.64,1104.17 L324.85,1104.66 L323.98,1105.12 L323.03,1105.54 L322,1105.91 L320.91,1106.24 L319.76,1106.52 L318.56,1106.76 L317.32,1106.94 L316.05,1107.07 L314.76,1107.14 L313.47,1107.16 L312.17,1107.13 L310.88,1107.04 L309.62,1106.89 L308.38,1106.69 L307.18,1106.45 L306.03,1106.15 L304.94,1105.81 L303.92,1105.42 L302.97,1104.99 L302.11,1104.52 L301.33,1104.02 L300.64,1103.49 L300.06,1102.93 L299.57,1102.36 L299.2,1101.76 L298.93,1101.15 L298.78,1100.54Z" fill="url(#gc8)" stroke="#678634" stroke-width="0.7" stroke-opacity="0.7" stroke-linejoin="round"/>
<path d="M325.38,985.82 L326.28,985.41 L327.09,984.97 L327.81,984.51 L328.42,984.02 L328.92,983.51 L329.32,982.98 L329.6,982.44 L329.77,981.89 L329.82,981.34 L329.75,980.78 L329.57,980.23 L329.27,979.69 L328.87,979.16 L328.35,978.65 L327.74,978.15 L327.02,977.68 L326.21,977.24 L325.31,976.83 L324.33,976.45 L323.28,976.11 L322.16,975.8 L320.99,975.54 L319.77,975.32 L318.51,975.15 L317.22,975.02 L315.91,974.93 L314.59,974.9 L313.27,974.91 L311.96,974.97 L310.66,975.08 L309.4,975.23 L308.18,975.43 L307,975.67 L305.88,975.95 L304.82,976.27 L303.84,976.64 L302.93,977.03 L302.12,977.46 L301.39,977.92 L300.77,978.4 L300.24,978.9 L299.83,979.43 L299.53,979.96 L299.34,980.51 L299.27,981.06 L299.31,981.62 L299.47,982.17 L299.75,982.72 L300.14,983.25 L300.63,983.77 L301.24,984.27 L301.95,984.75 L302.76,985.2 L303.65,985.62 L304.63,986.01 L305.69,986.36 L306.82,986.68 L308.01,986.95 L309.24,987.17 L310.52,987.35 L311.83,987.49 L313.16,987.57 L314.51,987.61 L315.85,987.59 L317.18,987.53 L318.49,987.42 L319.77,987.26 L321.01,987.06 L322.2,986.81 L323.33,986.52 L324.39,986.19Z" fill="#80a641" stroke="#536c2a" stroke-width="1.2"/>
<path d="M418.53,1100.04 L421.81,1015.61 L421.91,1015.04 L422.12,1014.49 L422.44,1013.95 L422.88,1013.42 L423.41,1012.92 L424.05,1012.45 L424.79,1012.01 L425.62,1011.6 L426.53,1011.22 L427.52,1010.89 L428.58,1010.59 L429.7,1010.34 L430.87,1010.14 L432.09,1009.98 L433.34,1009.87 L434.62,1009.8 L435.92,1009.79 L437.22,1009.82 L438.52,1009.91 L439.81,1010.04 L441.08,1010.22 L442.32,1010.45 L443.51,1010.72 L444.66,1011.03 L445.75,1011.38 L446.77,1011.77 L447.72,1012.2 L448.59,1012.65 L449.37,1013.14 L450.05,1013.65 L450.64,1014.18 L451.12,1014.72 L451.5,1015.28 L451.76,1015.85 L451.91,1016.42 L451.95,1016.99 L447.96,1101.45 L447.88,1102.07 L447.69,1102.67 L447.39,1103.26 L446.98,1103.83 L446.46,1104.38 L445.85,1104.9 L445.13,1105.39 L444.33,1105.85 L443.44,1106.26 L442.47,1106.64 L441.43,1106.97 L440.32,1107.25 L439.16,1107.48 L437.95,1107.66 L436.71,1107.79 L435.44,1107.87 L434.15,1107.89 L432.86,1107.85 L431.57,1107.76 L430.29,1107.62 L429.04,1107.42 L427.81,1107.18 L426.63,1106.88 L425.5,1106.54 L424.44,1106.15 L423.44,1105.72 L422.51,1105.26 L421.67,1104.76 L420.92,1104.22 L420.26,1103.67 L419.7,1103.09 L419.25,1102.5 L418.9,1101.89 L418.67,1101.27 L418.54,1100.66Z" fill="url(#gc13)" stroke="#57637e" stroke-width="0.7" stroke-opacity="0.7" stroke-linejoin="round"/>
<path d="M448.25,1021.05 L449.07,1020.63 L449.8,1020.18 L450.43,1019.7 L450.96,1019.19 L451.37,1018.67 L451.68,1018.12 L451.87,1017.56 L451.95,1016.99 L451.91,1016.42 L451.76,1015.85 L451.5,1015.28 L451.12,1014.72 L450.64,1014.18 L450.05,1013.65 L449.37,1013.14 L448.59,1012.65 L447.72,1012.2 L446.77,1011.77 L445.75,1011.38 L444.66,1011.03 L443.51,1010.72 L442.32,1010.45 L441.08,1010.22 L439.81,1010.04 L438.53,1009.91 L437.22,1009.82 L435.92,1009.79 L434.62,1009.8 L433.34,1009.87 L432.09,1009.98 L430.87,1010.14 L429.7,1010.34 L428.58,1010.59 L427.52,1010.89 L426.53,1011.22 L425.62,1011.6 L424.79,1012.01 L424.05,1012.45 L423.41,1012.92 L422.88,1013.42 L422.44,1013.95 L422.12,1014.49 L421.91,1015.04 L421.81,1015.61 L421.82,1016.18 L421.95,1016.75 L422.2,1017.32 L422.55,1017.88 L423.02,1018.44 L423.59,1018.97 L424.27,1019.49 L425.04,1019.98 L425.9,1020.45 L426.85,1020.88 L427.88,1021.28 L428.97,1021.64 L430.13,1021.96 L431.34,1022.24 L432.6,1022.47 L433.88,1022.66 L435.19,1022.8 L436.51,1022.88 L437.84,1022.92 L439.16,1022.9 L440.46,1022.84 L441.73,1022.72 L442.97,1022.56 L444.15,1022.34 L445.28,1022.09 L446.35,1021.78 L447.34,1021.44Z" fill="#6d7b9c" stroke="#465066" stroke-width="1.2"/>
<path d="M233.03,922.98 L233.03,922.43 L233.16,921.89 L233.41,921.36 L233.78,920.83 L234.27,920.32 L234.87,919.83 L235.57,919.36 L236.39,918.91 L237.29,918.49 L238.29,918.11 L239.37,917.75 L240.52,917.44 L241.74,917.16 L243.01,916.93 L244.34,916.74 L245.69,916.59 L247.07,916.49 L248.47,916.44 L249.88,916.43 L251.28,916.47 L252.66,916.55 L254.02,916.68 L255.34,916.85 L256.62,917.07 L257.85,917.33 L259.01,917.63 L260.09,917.97 L261.1,918.34 L262.02,918.75 L262.84,919.18 L263.56,919.64 L264.17,920.13 L264.67,920.63 L265.06,921.15 L265.32,921.68 L265.47,922.22 L265.49,922.77 L266.49,1129.56 L266.39,1130.22 L266.18,1130.88 L265.85,1131.53 L265.41,1132.16 L264.86,1132.77 L264.21,1133.36 L263.45,1133.92 L262.6,1134.44 L261.66,1134.93 L260.64,1135.38 L259.55,1135.78 L258.39,1136.14 L257.18,1136.44 L255.92,1136.69 L254.62,1136.89 L253.3,1137.03 L251.96,1137.11 L250.61,1137.13 L249.26,1137.09 L247.94,1137 L246.63,1136.85 L245.36,1136.64 L244.14,1136.37 L242.97,1136.06 L241.87,1135.69 L240.84,1135.27 L239.88,1134.82 L239.02,1134.32 L238.25,1133.78 L237.57,1133.21 L237.01,1132.62 L236.55,1132 L236.21,1131.36 L235.97,1130.71 L235.86,1130.05Z" fill="url(#gc4)" stroke="#8e7a5c" stroke-width="0.7" stroke-opacity="0.7" stroke-linejoin="round"/>
<path d="M260.37,927.15 L261.36,926.75 L262.27,926.32 L263.07,925.87 L263.76,925.39 L264.34,924.89 L264.81,924.38 L265.16,923.85 L265.38,923.31 L265.49,922.77 L265.47,922.22 L265.32,921.68 L265.06,921.15 L264.67,920.63 L264.17,920.13 L263.56,919.64 L262.84,919.18 L262.02,918.75 L261.1,918.34 L260.09,917.97 L259.01,917.63 L257.85,917.33 L256.62,917.07 L255.34,916.85 L254.02,916.68 L252.66,916.55 L251.28,916.46 L249.88,916.43 L248.47,916.44 L247.07,916.49 L245.69,916.59 L244.33,916.74 L243.01,916.93 L241.74,917.16 L240.52,917.44 L239.37,917.75 L238.29,918.11 L237.29,918.49 L236.39,918.91 L235.58,919.36 L234.87,919.83 L234.27,920.32 L233.78,920.83 L233.41,921.36 L233.16,921.89 L233.03,922.43 L233.03,922.98 L233.15,923.52 L233.39,924.05 L233.75,924.58 L234.24,925.09 L234.83,925.58 L235.54,926.05 L236.36,926.5 L237.28,926.91 L238.28,927.3 L239.38,927.64 L240.55,927.95 L241.79,928.22 L243.08,928.44 L244.43,928.62 L245.81,928.76 L247.22,928.84 L248.64,928.88 L250.07,928.87 L251.49,928.81 L252.9,928.71 L254.28,928.56 L255.61,928.36 L256.9,928.12 L258.13,927.83 L259.29,927.51Z" fill="#b09772" stroke="#72624a" stroke-width="1.2"/>
<path d="M360.04,1130.07 L361.88,1047.48 L361.9,1046.87 L362.05,1046.26 L362.31,1045.67 L362.69,1045.09 L363.18,1044.52 L363.78,1043.99 L364.48,1043.48 L365.28,1043 L366.17,1042.56 L367.14,1042.15 L368.19,1041.79 L369.31,1041.47 L370.49,1041.2 L371.72,1040.98 L373,1040.81 L374.31,1040.69 L375.64,1040.62 L376.98,1040.6 L378.33,1040.64 L379.68,1040.73 L381,1040.87 L382.3,1041.06 L383.56,1041.3 L384.78,1041.59 L385.95,1041.93 L387.05,1042.3 L388.08,1042.72 L389.03,1043.18 L389.89,1043.67 L390.66,1044.19 L391.34,1044.73 L391.9,1045.3 L392.36,1045.89 L392.71,1046.49 L392.94,1047.1 L393.05,1047.71 L393.05,1048.33 L390.48,1130.9 L390.36,1131.56 L390.12,1132.2 L389.77,1132.83 L389.31,1133.45 L388.74,1134.03 L388.06,1134.59 L387.29,1135.12 L386.43,1135.6 L385.47,1136.05 L384.44,1136.45 L383.34,1136.81 L382.17,1137.11 L380.95,1137.36 L379.69,1137.56 L378.39,1137.69 L377.07,1137.77 L375.74,1137.8 L374.4,1137.76 L373.06,1137.66 L371.75,1137.51 L370.46,1137.3 L369.21,1137.04 L368,1136.72 L366.86,1136.36 L365.78,1135.94 L364.77,1135.49 L363.84,1134.99 L363,1134.46 L362.26,1133.89 L361.62,1133.3 L361.08,1132.68 L360.65,1132.04 L360.33,1131.39 L360.13,1130.74Z" fill="url(#gc9)" stroke="#57637e" stroke-width="0.7" stroke-opacity="0.7" stroke-linejoin="round"/>
<path d="M388.9,1052.7 L389.79,1052.25 L390.58,1051.76 L391.27,1051.24 L391.85,1050.7 L392.32,1050.13 L392.68,1049.54 L392.92,1048.94 L393.05,1048.33 L393.05,1047.72 L392.94,1047.1 L392.71,1046.49 L392.36,1045.89 L391.9,1045.3 L391.34,1044.73 L390.66,1044.19 L389.89,1043.67 L389.03,1043.18 L388.08,1042.72 L387.05,1042.3 L385.95,1041.93 L384.78,1041.59 L383.57,1041.3 L382.3,1041.06 L381,1040.87 L379.68,1040.73 L378.33,1040.64 L376.98,1040.6 L375.64,1040.62 L374.31,1040.69 L373,1040.81 L371.72,1040.98 L370.49,1041.2 L369.31,1041.48 L368.19,1041.79 L367.14,1042.15 L366.17,1042.56 L365.28,1043 L364.48,1043.48 L363.78,1043.99 L363.18,1044.52 L362.69,1045.08 L362.31,1045.67 L362.05,1046.26 L361.91,1046.87 L361.88,1047.48 L361.97,1048.1 L362.18,1048.71 L362.5,1049.32 L362.94,1049.91 L363.5,1050.49 L364.16,1051.04 L364.92,1051.57 L365.78,1052.07 L366.73,1052.54 L367.76,1052.97 L368.87,1053.36 L370.05,1053.7 L371.28,1054 L372.56,1054.25 L373.88,1054.44 L375.23,1054.59 L376.59,1054.68 L377.97,1054.72 L379.33,1054.7 L380.69,1054.63 L382.02,1054.5 L383.31,1054.32 L384.56,1054.09 L385.75,1053.81 L386.88,1053.49 L387.93,1053.11Z" fill="#6d7b9c" stroke="#465066" stroke-width="1.2"/>
<path d="M483.46,1130.1 L484.94,1104.56 L484.99,1103.92 L485.16,1103.3 L485.45,1102.69 L485.84,1102.1 L486.35,1101.53 L486.96,1101 L487.67,1100.49 L488.48,1100.03 L489.37,1099.61 L490.34,1099.22 L491.39,1098.89 L492.5,1098.6 L493.68,1098.37 L494.9,1098.18 L496.16,1098.05 L497.45,1097.98 L498.76,1097.96 L500.09,1097.99 L501.41,1098.09 L502.73,1098.23 L504.03,1098.43 L505.3,1098.68 L506.53,1098.98 L507.72,1099.33 L508.85,1099.73 L509.92,1100.16 L510.91,1100.64 L511.83,1101.15 L512.65,1101.69 L513.39,1102.27 L514.03,1102.86 L514.56,1103.48 L514.99,1104.11 L515.3,1104.75 L515.5,1105.39 L515.58,1106.04 L515.55,1106.68 L513.84,1132.23 L513.69,1132.88 L513.43,1133.51 L513.05,1134.12 L512.56,1134.7 L511.97,1135.26 L511.27,1135.78 L510.48,1136.27 L509.59,1136.72 L508.62,1137.12 L507.57,1137.47 L506.45,1137.77 L505.28,1138.02 L504.05,1138.22 L502.78,1138.36 L501.48,1138.44 L500.15,1138.46 L498.81,1138.42 L497.48,1138.33 L496.15,1138.17 L494.84,1137.97 L493.56,1137.7 L492.32,1137.39 L491.14,1137.02 L490.01,1136.61 L488.94,1136.15 L487.95,1135.66 L487.05,1135.13 L486.24,1134.56 L485.52,1133.97 L484.9,1133.35 L484.39,1132.72 L483.98,1132.07 L483.69,1131.41 L483.52,1130.75Z" fill="url(#gc14)" stroke="#9c573d" stroke-width="0.7" stroke-opacity="0.7" stroke-linejoin="round"/>
<path d="M512.17,1110.63 L512.96,1110.15 L513.67,1109.64 L514.26,1109.1 L514.76,1108.52 L515.13,1107.93 L515.4,1107.31 L515.55,1106.68 L515.58,1106.04 L515.5,1105.39 L515.3,1104.75 L514.98,1104.11 L514.56,1103.48 L514.03,1102.86 L513.39,1102.27 L512.65,1101.7 L511.83,1101.15 L510.91,1100.64 L509.92,1100.16 L508.85,1099.73 L507.72,1099.33 L506.53,1098.98 L505.3,1098.68 L504.03,1098.43 L502.73,1098.23 L501.41,1098.09 L500.09,1097.99 L498.76,1097.96 L497.45,1097.98 L496.16,1098.05 L494.9,1098.18 L493.68,1098.37 L492.51,1098.6 L491.39,1098.89 L490.34,1099.22 L489.37,1099.6 L488.47,1100.03 L487.67,1100.49 L486.96,1101 L486.35,1101.53 L485.84,1102.1 L485.45,1102.69 L485.16,1103.3 L484.99,1103.92 L484.94,1104.56 L485,1105.21 L485.18,1105.85 L485.47,1106.5 L485.88,1107.13 L486.39,1107.75 L487.02,1108.36 L487.74,1108.94 L488.56,1109.49 L489.48,1110.01 L490.47,1110.5 L491.54,1110.95 L492.68,1111.35 L493.88,1111.71 L495.13,1112.02 L496.42,1112.28 L497.74,1112.48 L499.07,1112.63 L500.42,1112.73 L501.77,1112.76 L503.1,1112.74 L504.41,1112.67 L505.69,1112.53 L506.93,1112.34 L508.12,1112.1 L509.24,1111.8 L510.3,1111.46 L511.27,1111.07Z" fill="#c26d4b" stroke="#7e4631" stroke-width="1.2"/>
<path d="M168.23,1158.03 L168.28,1157.32 L168.46,1156.62 L168.75,1155.92 L169.16,1155.23 L169.69,1154.56 L170.32,1153.91 L171.06,1153.29 L171.89,1152.7 L172.82,1152.15 L173.83,1151.64 L174.92,1151.17 L176.08,1150.75 L177.3,1150.38 L178.57,1150.07 L179.89,1149.81 L181.23,1149.61 L182.6,1149.46 L183.97,1149.38 L185.35,1149.35 L186.72,1149.39 L188.08,1149.49 L189.4,1149.65 L190.68,1149.86 L191.92,1150.13 L193.09,1150.46 L194.21,1150.84 L195.24,1151.27 L196.2,1151.75 L197.06,1152.27 L197.83,1152.83 L198.49,1153.43 L199.05,1154.05 L199.5,1154.71 L199.83,1155.38 L200.04,1156.07 L200.13,1156.77 L200.22,1160.46 L200.19,1161.16 L200.04,1161.88 L199.77,1162.58 L199.38,1163.27 L198.88,1163.95 L198.26,1164.61 L197.54,1165.24 L196.72,1165.84 L195.79,1166.41 L194.78,1166.93 L193.69,1167.41 L192.53,1167.85 L191.3,1168.23 L190.01,1168.55 L188.69,1168.82 L187.32,1169.04 L185.94,1169.18 L184.54,1169.27 L183.13,1169.3 L181.74,1169.26 L180.37,1169.16 L179.03,1169 L177.72,1168.77 L176.47,1168.49 L175.28,1168.15 L174.17,1167.76 L173.12,1167.32 L172.17,1166.83 L171.31,1166.29 L170.55,1165.72 L169.9,1165.11 L169.35,1164.47 L168.92,1163.81 L168.61,1163.13 L168.42,1162.43 L168.35,1161.72Z" fill="url(#gc0)" stroke="#9c573d" stroke-width="0.7" stroke-opacity="0.7" stroke-linejoin="round"/>
<path d="M194.69,1163.23 L195.7,1162.7 L196.62,1162.14 L197.45,1161.54 L198.17,1160.91 L198.79,1160.26 L199.29,1159.58 L199.68,1158.89 L199.95,1158.18 L200.1,1157.48 L200.13,1156.77 L200.04,1156.07 L199.83,1155.38 L199.5,1154.71 L199.05,1154.05 L198.49,1153.43 L197.83,1152.83 L197.06,1152.27 L196.2,1151.75 L195.24,1151.27 L194.21,1150.84 L193.09,1150.46 L191.92,1150.14 L190.68,1149.86 L189.4,1149.65 L188.08,1149.49 L186.72,1149.39 L185.35,1149.35 L183.97,1149.38 L182.6,1149.46 L181.23,1149.61 L179.89,1149.81 L178.57,1150.07 L177.3,1150.38 L176.08,1150.75 L174.92,1151.17 L173.83,1151.64 L172.82,1152.15 L171.89,1152.7 L171.06,1153.29 L170.32,1153.91 L169.69,1154.56 L169.16,1155.23 L168.75,1155.92 L168.46,1156.62 L168.28,1157.32 L168.23,1158.03 L168.3,1158.74 L168.49,1159.43 L168.8,1160.11 L169.23,1160.77 L169.77,1161.41 L170.43,1162.02 L171.19,1162.59 L172.05,1163.12 L173.01,1163.61 L174.05,1164.05 L175.17,1164.44 L176.36,1164.78 L177.61,1165.06 L178.91,1165.28 L180.26,1165.45 L181.63,1165.55 L183.03,1165.59 L184.43,1165.56 L185.83,1165.47 L187.22,1165.32 L188.58,1165.11 L189.91,1164.84 L191.2,1164.52 L192.43,1164.14 L193.59,1163.71Z" fill="#c26d4b" stroke="#7e4631" stroke-width="1.2"/>
<path d="M297.29,1161.63 L297.78,1044.48 L297.86,1043.84 L298.06,1043.2 L298.38,1042.58 L298.82,1041.98 L299.38,1041.39 L300.05,1040.83 L300.83,1040.3 L301.7,1039.8 L302.67,1039.34 L303.72,1038.92 L304.85,1038.55 L306.05,1038.21 L307.31,1037.93 L308.62,1037.7 L309.97,1037.52 L311.35,1037.39 L312.76,1037.32 L314.17,1037.31 L315.58,1037.34 L316.98,1037.44 L318.36,1037.58 L319.71,1037.78 L321.01,1038.04 L322.27,1038.34 L323.46,1038.69 L324.59,1039.08 L325.63,1039.52 L326.59,1039.99 L327.46,1040.5 L328.23,1041.04 L328.89,1041.61 L329.44,1042.21 L329.87,1042.82 L330.19,1043.44 L330.38,1044.08 L330.45,1044.72 L328.89,1161.78 L328.84,1162.49 L328.67,1163.19 L328.37,1163.88 L327.96,1164.56 L327.44,1165.21 L326.81,1165.85 L326.07,1166.44 L325.23,1167.01 L324.3,1167.53 L323.28,1168.01 L322.18,1168.44 L321.01,1168.83 L319.78,1169.15 L318.49,1169.42 L317.17,1169.63 L315.81,1169.78 L314.43,1169.87 L313.04,1169.89 L311.65,1169.86 L310.28,1169.76 L308.92,1169.59 L307.6,1169.37 L306.32,1169.09 L305.09,1168.75 L303.93,1168.36 L302.83,1167.92 L301.82,1167.43 L300.89,1166.89 L300.06,1166.32 L299.32,1165.72 L298.7,1165.08 L298.18,1164.42 L297.78,1163.74 L297.5,1163.04 L297.34,1162.34Z" fill="url(#gc5)" stroke="#8f5679" stroke-width="0.7" stroke-opacity="0.7" stroke-linejoin="round"/>
<path d="M325.71,1049.92 L326.67,1049.45 L327.54,1048.94 L328.31,1048.4 L328.96,1047.83 L329.5,1047.24 L329.92,1046.63 L330.22,1046 L330.4,1045.36 L330.45,1044.72 L330.38,1044.08 L330.19,1043.44 L329.87,1042.82 L329.44,1042.21 L328.89,1041.61 L328.23,1041.04 L327.46,1040.5 L326.59,1039.99 L325.63,1039.52 L324.59,1039.08 L323.46,1038.69 L322.27,1038.34 L321.01,1038.04 L319.71,1037.78 L318.36,1037.58 L316.98,1037.44 L315.58,1037.34 L314.17,1037.31 L312.76,1037.32 L311.35,1037.39 L309.97,1037.52 L308.62,1037.7 L307.31,1037.93 L306.05,1038.21 L304.85,1038.54 L303.72,1038.92 L302.67,1039.34 L301.7,1039.8 L300.83,1040.3 L300.05,1040.83 L299.38,1041.39 L298.82,1041.98 L298.38,1042.58 L298.06,1043.2 L297.85,1043.84 L297.78,1044.48 L297.82,1045.12 L297.99,1045.76 L298.28,1046.39 L298.7,1047.01 L299.23,1047.61 L299.88,1048.19 L300.64,1048.74 L301.5,1049.27 L302.46,1049.75 L303.51,1050.2 L304.64,1050.6 L305.85,1050.96 L307.12,1051.27 L308.44,1051.53 L309.81,1051.74 L311.21,1051.89 L312.64,1051.99 L314.07,1052.03 L315.51,1052.01 L316.94,1051.93 L318.34,1051.8 L319.71,1051.62 L321.04,1051.38 L322.31,1051.08 L323.52,1050.74 L324.66,1050.35Z" fill="#b26a96" stroke="#744562" stroke-width="1.2"/>
<path d="M425.4,1161.53 L425.64,1155.82 L425.74,1155.12 L425.96,1154.44 L426.3,1153.78 L426.75,1153.13 L427.31,1152.52 L427.97,1151.93 L428.74,1151.38 L429.6,1150.88 L430.56,1150.41 L431.59,1149.99 L432.69,1149.63 L433.86,1149.31 L435.09,1149.05 L436.36,1148.85 L437.67,1148.71 L439.01,1148.63 L440.36,1148.6 L441.73,1148.64 L443.09,1148.74 L444.44,1148.89 L445.76,1149.11 L447.06,1149.38 L448.31,1149.71 L449.51,1150.08 L450.65,1150.51 L451.72,1150.99 L452.71,1151.5 L453.62,1152.06 L454.44,1152.65 L455.16,1153.27 L455.78,1153.92 L456.29,1154.59 L456.68,1155.28 L456.96,1155.97 L457.12,1156.68 L457.17,1157.38 L456.88,1163.1 L456.8,1163.8 L456.6,1164.49 L456.29,1165.16 L455.86,1165.82 L455.31,1166.45 L454.66,1167.04 L453.9,1167.61 L453.05,1168.13 L452.1,1168.61 L451.06,1169.04 L449.95,1169.42 L448.77,1169.74 L447.53,1170.01 L446.25,1170.22 L444.92,1170.37 L443.56,1170.46 L442.18,1170.48 L440.8,1170.45 L439.42,1170.35 L438.05,1170.19 L436.7,1169.96 L435.39,1169.68 L434.13,1169.35 L432.92,1168.95 L431.77,1168.51 L430.7,1168.03 L429.7,1167.49 L428.8,1166.92 L427.99,1166.32 L427.28,1165.68 L426.68,1165.02 L426.19,1164.34 L425.82,1163.65 L425.56,1162.95 L425.42,1162.24Z" fill="url(#gc10)" stroke="#9c573d" stroke-width="0.7" stroke-opacity="0.7" stroke-linejoin="round"/>
<path d="M453.33,1162.39 L454.19,1161.87 L454.95,1161.31 L455.6,1160.72 L456.15,1160.09 L456.58,1159.44 L456.89,1158.77 L457.09,1158.08 L457.17,1157.38 L457.13,1156.68 L456.96,1155.97 L456.68,1155.28 L456.29,1154.59 L455.78,1153.92 L455.16,1153.27 L454.44,1152.65 L453.62,1152.06 L452.71,1151.5 L451.72,1150.99 L450.65,1150.51 L449.51,1150.08 L448.31,1149.71 L447.06,1149.38 L445.76,1149.11 L444.44,1148.89 L443.09,1148.74 L441.73,1148.64 L440.36,1148.6 L439.01,1148.63 L437.67,1148.71 L436.36,1148.85 L435.09,1149.05 L433.86,1149.31 L432.69,1149.63 L431.59,1149.99 L430.55,1150.41 L429.6,1150.88 L428.74,1151.38 L427.97,1151.93 L427.31,1152.52 L426.75,1153.13 L426.3,1153.78 L425.96,1154.44 L425.74,1155.13 L425.64,1155.82 L425.66,1156.52 L425.8,1157.23 L426.06,1157.93 L426.43,1158.62 L426.92,1159.29 L427.53,1159.95 L428.23,1160.58 L429.04,1161.19 L429.95,1161.76 L430.94,1162.28 L432.02,1162.77 L433.17,1163.21 L434.38,1163.6 L435.65,1163.94 L436.96,1164.21 L438.31,1164.44 L439.68,1164.6 L441.06,1164.7 L442.45,1164.74 L443.83,1164.71 L445.19,1164.62 L446.52,1164.48 L447.81,1164.27 L449.05,1164 L450.23,1163.67 L451.34,1163.3 L452.38,1162.87Z" fill="#c26d4b" stroke="#7e4631" stroke-width="1.2"/>
<path d="M552.69,1162.14 L552.69,1161.45 L559.93,1069.49 L560.05,1068.86 L560.29,1068.24 L560.66,1067.64 L561.14,1067.07 L561.73,1066.53 L562.43,1066.02 L563.24,1065.55 L564.14,1065.12 L565.13,1064.74 L566.2,1064.4 L567.35,1064.11 L568.55,1063.88 L569.82,1063.69 L571.13,1063.56 L572.49,1063.49 L573.86,1063.47 L575.25,1063.51 L576.65,1063.6 L578.05,1063.75 L579.43,1063.95 L580.79,1064.21 L582.11,1064.51 L583.39,1064.87 L584.61,1065.27 L585.77,1065.71 L586.86,1066.19 L587.87,1066.71 L588.79,1067.27 L589.61,1067.85 L590.34,1068.45 L590.95,1069.07 L591.46,1069.71 L591.84,1070.36 L592.11,1071.01 L592.26,1071.66 L592.28,1072.31 L584.19,1164.4 L584.08,1165.09 L583.86,1165.76 L583.52,1166.42 L583.06,1167.04 L582.49,1167.64 L581.82,1168.2 L581.04,1168.72 L580.16,1169.2 L579.19,1169.63 L578.14,1170.01 L577.01,1170.33 L575.81,1170.6 L574.56,1170.81 L573.26,1170.96 L571.92,1171.05 L570.56,1171.07 L569.18,1171.04 L567.79,1170.94 L566.41,1170.78 L565.05,1170.55 L563.71,1170.27 L562.4,1169.94 L561.15,1169.55 L559.95,1169.11 L558.82,1168.62 L557.76,1168.09 L556.79,1167.52 L555.9,1166.92 L555.11,1166.28 L554.43,1165.62 L553.85,1164.95 L553.38,1164.25 L553.03,1163.55 L552.8,1162.85Z" fill="url(#gc15)" stroke="#8f5679" stroke-width="0.7" stroke-opacity="0.7" stroke-linejoin="round"/>
<path d="M589.09,1076.31 L589.88,1075.83 L590.57,1075.31 L591.15,1074.76 L591.62,1074.18 L591.96,1073.57 L592.18,1072.95 L592.28,1072.31 L592.26,1071.66 L592.11,1071.01 L591.84,1070.36 L591.46,1069.71 L590.95,1069.07 L590.34,1068.45 L589.61,1067.84 L588.79,1067.27 L587.87,1066.71 L586.86,1066.19 L585.77,1065.71 L584.61,1065.27 L583.39,1064.87 L582.11,1064.51 L580.79,1064.21 L579.43,1063.95 L578.05,1063.75 L576.66,1063.6 L575.26,1063.51 L573.86,1063.47 L572.48,1063.49 L571.13,1063.56 L569.82,1063.69 L568.56,1063.88 L567.35,1064.11 L566.2,1064.4 L565.13,1064.74 L564.14,1065.12 L563.24,1065.55 L562.44,1066.02 L561.73,1066.53 L561.14,1067.07 L560.66,1067.64 L560.3,1068.24 L560.05,1068.86 L559.93,1069.49 L559.93,1070.14 L560.05,1070.79 L560.29,1071.44 L560.66,1072.09 L561.14,1072.74 L561.74,1073.37 L562.45,1073.98 L563.26,1074.57 L564.18,1075.13 L565.18,1075.66 L566.27,1076.16 L567.44,1076.61 L568.67,1077.02 L569.97,1077.39 L571.31,1077.7 L572.68,1077.96 L574.09,1078.17 L575.51,1078.33 L576.93,1078.42 L578.35,1078.46 L579.75,1078.44 L581.12,1078.36 L582.46,1078.23 L583.74,1078.04 L584.96,1077.79 L586.12,1077.49 L587.2,1077.15 L588.19,1076.75Z" fill="#b26a96" stroke="#744562" stroke-width="1.2"/>
<path d="M228.53,1114.62 L228.53,1113.9 L228.67,1113.19 L228.93,1112.48 L229.32,1111.79 L229.83,1111.11 L230.45,1110.46 L231.19,1109.84 L232.03,1109.24 L232.98,1108.69 L234.01,1108.17 L235.13,1107.7 L236.33,1107.28 L237.59,1106.91 L238.91,1106.59 L240.28,1106.33 L241.69,1106.13 L243.12,1105.98 L244.57,1105.9 L246.02,1105.88 L247.47,1105.92 L248.91,1106.02 L250.31,1106.18 L251.69,1106.4 L253.01,1106.68 L254.28,1107.01 L255.47,1107.39 L256.6,1107.83 L257.64,1108.31 L258.59,1108.84 L259.44,1109.41 L260.18,1110.01 L260.81,1110.64 L261.33,1111.3 L261.73,1111.98 L262,1112.68 L262.14,1113.38 L262.16,1114.1 L262.66,1195.69 L262.55,1196.45 L262.32,1197.21 L261.96,1197.95 L261.49,1198.68 L260.9,1199.38 L260.19,1200.06 L259.38,1200.71 L258.47,1201.32 L257.46,1201.88 L256.37,1202.4 L255.19,1202.86 L253.95,1203.27 L252.64,1203.62 L251.29,1203.92 L249.9,1204.14 L248.47,1204.31 L247.03,1204.4 L245.59,1204.43 L244.15,1204.39 L242.72,1204.28 L241.32,1204.11 L239.96,1203.87 L238.65,1203.57 L237.4,1203.21 L236.22,1202.79 L235.11,1202.32 L234.09,1201.79 L233.17,1201.22 L232.34,1200.6 L231.63,1199.95 L231.03,1199.27 L230.54,1198.56 L230.17,1197.83 L229.93,1197.08 L229.81,1196.32Z" fill="url(#gc1)" stroke="#57637e" stroke-width="0.7" stroke-opacity="0.7" stroke-linejoin="round"/>
<path d="M256.84,1119.9 L257.87,1119.37 L258.81,1118.8 L259.64,1118.2 L260.36,1117.56 L260.97,1116.9 L261.45,1116.22 L261.82,1115.52 L262.05,1114.81 L262.16,1114.1 L262.14,1113.38 L262,1112.68 L261.73,1111.98 L261.33,1111.3 L260.81,1110.64 L260.18,1110.01 L259.44,1109.41 L258.59,1108.84 L257.64,1108.31 L256.6,1107.83 L255.47,1107.4 L254.27,1107.01 L253.01,1106.68 L251.68,1106.4 L250.31,1106.18 L248.91,1106.02 L247.47,1105.92 L246.02,1105.88 L244.57,1105.9 L243.12,1105.99 L241.69,1106.13 L240.28,1106.33 L238.91,1106.59 L237.59,1106.91 L236.33,1107.28 L235.13,1107.7 L234.01,1108.17 L232.98,1108.69 L232.03,1109.24 L231.19,1109.84 L230.45,1110.46 L229.83,1111.11 L229.32,1111.79 L228.93,1112.48 L228.67,1113.19 L228.53,1113.9 L228.53,1114.62 L228.65,1115.33 L228.89,1116.03 L229.27,1116.72 L229.76,1117.39 L230.38,1118.03 L231.11,1118.65 L231.96,1119.22 L232.9,1119.76 L233.95,1120.26 L235.08,1120.71 L236.29,1121.1 L237.57,1121.45 L238.91,1121.73 L240.31,1121.96 L241.74,1122.13 L243.2,1122.23 L244.67,1122.27 L246.16,1122.25 L247.63,1122.16 L249.09,1122.01 L250.52,1121.8 L251.9,1121.53 L253.24,1121.2 L254.51,1120.82 L255.72,1120.38Z" fill="#6d7b9c" stroke="#465066" stroke-width="1.2"/>
<path d="M362.96,1196.09 L365.25,1098.9 L365.28,1098.19 L365.43,1097.5 L365.71,1096.82 L366.12,1096.15 L366.64,1095.51 L367.28,1094.89 L368.03,1094.31 L368.89,1093.76 L369.85,1093.26 L370.89,1092.79 L372.02,1092.38 L373.22,1092.01 L374.49,1091.7 L375.82,1091.45 L377.19,1091.25 L378.6,1091.11 L380.03,1091.03 L381.48,1091 L382.93,1091.04 L384.37,1091.14 L385.8,1091.3 L387.2,1091.52 L388.56,1091.79 L389.88,1092.12 L391.13,1092.5 L392.32,1092.93 L393.43,1093.41 L394.46,1093.92 L395.39,1094.48 L396.23,1095.08 L396.95,1095.7 L397.57,1096.35 L398.06,1097.02 L398.44,1097.7 L398.69,1098.4 L398.82,1099.1 L398.82,1099.81 L395.6,1196.98 L395.47,1197.73 L395.22,1198.48 L394.85,1199.2 L394.36,1199.91 L393.75,1200.58 L393.03,1201.23 L392.2,1201.83 L391.27,1202.39 L390.26,1202.91 L389.15,1203.37 L387.97,1203.78 L386.73,1204.13 L385.42,1204.42 L384.06,1204.65 L382.67,1204.81 L381.26,1204.91 L379.82,1204.94 L378.39,1204.9 L376.96,1204.79 L375.55,1204.62 L374.16,1204.38 L372.82,1204.08 L371.53,1203.72 L370.3,1203.3 L369.13,1202.83 L368.05,1202.31 L367.06,1201.73 L366.15,1201.12 L365.35,1200.47 L364.66,1199.79 L364.08,1199.08 L363.62,1198.35 L363.28,1197.61 L363.06,1196.85Z" fill="url(#gc6)" stroke="#8f5679" stroke-width="0.7" stroke-opacity="0.7" stroke-linejoin="round"/>
<path d="M394.39,1104.82 L395.34,1104.3 L396.19,1103.74 L396.93,1103.14 L397.55,1102.52 L398.05,1101.87 L398.44,1101.19 L398.69,1100.51 L398.82,1099.81 L398.82,1099.1 L398.69,1098.4 L398.44,1097.7 L398.06,1097.02 L397.57,1096.35 L396.95,1095.7 L396.22,1095.08 L395.39,1094.48 L394.46,1093.92 L393.43,1093.41 L392.32,1092.93 L391.13,1092.5 L389.88,1092.12 L388.56,1091.79 L387.2,1091.52 L385.8,1091.3 L384.37,1091.14 L382.93,1091.04 L381.48,1091 L380.03,1091.03 L378.6,1091.11 L377.19,1091.25 L375.82,1091.45 L374.49,1091.7 L373.22,1092.01 L372.02,1092.38 L370.89,1092.79 L369.84,1093.26 L368.89,1093.76 L368.03,1094.31 L367.28,1094.89 L366.64,1095.51 L366.12,1096.15 L365.71,1096.82 L365.43,1097.5 L365.28,1098.19 L365.25,1098.9 L365.35,1099.6 L365.58,1100.3 L365.93,1100.99 L366.41,1101.67 L367.01,1102.33 L367.72,1102.96 L368.54,1103.57 L369.47,1104.14 L370.5,1104.67 L371.61,1105.16 L372.81,1105.6 L374.08,1105.99 L375.41,1106.33 L376.79,1106.61 L378.21,1106.84 L379.67,1107 L381.14,1107.1 L382.62,1107.14 L384.09,1107.12 L385.55,1107.04 L386.98,1106.89 L388.37,1106.68 L389.72,1106.42 L391,1106.09 L392.21,1105.72 L393.34,1105.29Z" fill="#b26a96" stroke="#744562" stroke-width="1.2"/>
<path d="M495.23,1195.86 L497.26,1163.38 L497.31,1162.65 L497.48,1161.94 L497.78,1161.24 L498.19,1160.56 L498.73,1159.91 L499.38,1159.3 L500.13,1158.72 L500.99,1158.19 L501.94,1157.7 L502.98,1157.26 L504.1,1156.88 L505.29,1156.55 L506.55,1156.27 L507.85,1156.06 L509.2,1155.91 L510.59,1155.82 L512,1155.8 L513.42,1155.84 L514.84,1155.94 L516.26,1156.1 L517.65,1156.33 L519.02,1156.61 L520.35,1156.95 L521.63,1157.35 L522.85,1157.8 L524,1158.3 L525.08,1158.84 L526.07,1159.43 L526.97,1160.05 L527.77,1160.7 L528.46,1161.38 L529.04,1162.09 L529.51,1162.81 L529.86,1163.54 L530.08,1164.28 L530.19,1165.02 L530.16,1165.75 L527.82,1198.26 L527.67,1199 L527.39,1199.72 L527,1200.42 L526.49,1201.1 L525.86,1201.74 L525.12,1202.34 L524.27,1202.9 L523.33,1203.42 L522.3,1203.88 L521.18,1204.29 L519.99,1204.64 L518.73,1204.93 L517.41,1205.16 L516.05,1205.32 L514.66,1205.41 L513.24,1205.44 L511.81,1205.4 L510.37,1205.3 L508.95,1205.13 L507.54,1204.89 L506.17,1204.59 L504.83,1204.23 L503.55,1203.81 L502.34,1203.34 L501.19,1202.82 L500.12,1202.25 L499.15,1201.64 L498.26,1200.99 L497.49,1200.31 L496.82,1199.6 L496.26,1198.87 L495.82,1198.13 L495.5,1197.38 L495.3,1196.62Z" fill="url(#gc11)" stroke="#3f7866" stroke-width="0.7" stroke-opacity="0.7" stroke-linejoin="round"/>
<path d="M526.6,1170.29 L527.45,1169.74 L528.19,1169.15 L528.82,1168.52 L529.34,1167.87 L529.74,1167.18 L530.01,1166.47 L530.16,1165.75 L530.19,1165.02 L530.08,1164.28 L529.86,1163.54 L529.51,1162.81 L529.04,1162.09 L528.46,1161.38 L527.77,1160.7 L526.97,1160.05 L526.07,1159.43 L525.08,1158.84 L524,1158.3 L522.85,1157.8 L521.63,1157.35 L520.35,1156.96 L519.02,1156.61 L517.65,1156.33 L516.26,1156.1 L514.84,1155.94 L513.42,1155.84 L512,1155.8 L510.59,1155.82 L509.2,1155.91 L507.85,1156.06 L506.55,1156.27 L505.29,1156.55 L504.1,1156.88 L502.98,1157.26 L501.94,1157.7 L500.99,1158.19 L500.13,1158.72 L499.38,1159.3 L498.73,1159.91 L498.19,1160.56 L497.78,1161.24 L497.48,1161.94 L497.31,1162.65 L497.26,1163.38 L497.33,1164.12 L497.53,1164.86 L497.86,1165.6 L498.3,1166.33 L498.87,1167.04 L499.55,1167.73 L500.34,1168.39 L501.23,1169.02 L502.21,1169.62 L503.29,1170.18 L504.45,1170.69 L505.68,1171.15 L506.97,1171.56 L508.32,1171.91 L509.71,1172.21 L511.13,1172.44 L512.57,1172.61 L514.02,1172.71 L515.46,1172.75 L516.9,1172.73 L518.3,1172.64 L519.68,1172.48 L521,1172.26 L522.27,1171.98 L523.48,1171.64 L524.6,1171.24 L525.65,1170.79Z" fill="#4f957f" stroke="#336152" stroke-width="1.2"/>
<path d="M295.63,1232.58 L295.78,1192.93 L295.86,1192.14 L296.08,1191.35 L296.42,1190.58 L296.89,1189.82 L297.48,1189.1 L298.18,1188.4 L299,1187.74 L299.92,1187.12 L300.94,1186.54 L302.04,1186.02 L303.23,1185.54 L304.5,1185.13 L305.82,1184.77 L307.2,1184.48 L308.62,1184.25 L310.07,1184.09 L311.54,1183.99 L313.03,1183.96 L314.51,1184 L315.98,1184.11 L317.43,1184.29 L318.85,1184.53 L320.22,1184.83 L321.54,1185.2 L322.8,1185.62 L323.98,1186.11 L325.08,1186.64 L326.09,1187.23 L327,1187.85 L327.8,1188.52 L328.5,1189.22 L329.08,1189.96 L329.53,1190.71 L329.87,1191.49 L330.07,1192.28 L330.14,1193.07 L329.6,1232.69 L329.54,1233.51 L329.35,1234.32 L329.04,1235.12 L328.6,1235.9 L328.04,1236.66 L327.36,1237.39 L326.56,1238.09 L325.66,1238.74 L324.66,1239.35 L323.56,1239.9 L322.38,1240.41 L321.12,1240.85 L319.8,1241.23 L318.42,1241.54 L316.99,1241.79 L315.53,1241.97 L314.05,1242.07 L312.56,1242.1 L311.06,1242.06 L309.58,1241.95 L308.12,1241.76 L306.7,1241.51 L305.32,1241.19 L304,1240.8 L302.75,1240.35 L301.57,1239.84 L300.48,1239.28 L299.49,1238.66 L298.59,1238 L297.81,1237.3 L297.14,1236.57 L296.58,1235.81 L296.15,1235.02 L295.85,1234.21 L295.68,1233.4Z" fill="url(#gc2)" stroke="#3f7866" stroke-width="0.7" stroke-opacity="0.7" stroke-linejoin="round"/>
<path d="M325.15,1199.54 L326.17,1198.95 L327.08,1198.32 L327.88,1197.64 L328.57,1196.93 L329.14,1196.19 L329.58,1195.43 L329.9,1194.65 L330.09,1193.86 L330.14,1193.07 L330.07,1192.27 L329.87,1191.49 L329.53,1190.71 L329.08,1189.96 L328.5,1189.22 L327.8,1188.52 L327,1187.85 L326.09,1187.23 L325.08,1186.64 L323.98,1186.11 L322.8,1185.63 L321.54,1185.2 L320.22,1184.83 L318.85,1184.53 L317.43,1184.29 L315.98,1184.11 L314.51,1184 L313.03,1183.96 L311.54,1183.99 L310.07,1184.09 L308.62,1184.25 L307.2,1184.48 L305.82,1184.77 L304.5,1185.13 L303.23,1185.54 L302.04,1186.02 L300.94,1186.54 L299.92,1187.12 L299,1187.74 L298.18,1188.4 L297.48,1189.1 L296.89,1189.82 L296.42,1190.58 L296.08,1191.35 L295.86,1192.14 L295.78,1192.93 L295.82,1193.73 L296,1194.52 L296.31,1195.3 L296.74,1196.06 L297.3,1196.81 L297.98,1197.52 L298.78,1198.2 L299.68,1198.85 L300.69,1199.44 L301.79,1199.99 L302.98,1200.49 L304.25,1200.93 L305.59,1201.31 L306.98,1201.62 L308.42,1201.87 L309.9,1202.05 L311.39,1202.17 L312.91,1202.21 L314.42,1202.18 L315.92,1202.08 L317.4,1201.91 L318.84,1201.67 L320.23,1201.37 L321.57,1201 L322.85,1200.57 L324.04,1200.08Z" fill="#4f957f" stroke="#336152" stroke-width="1.2"/>
<path d="M433.3,1232.2 L439.32,1097.65 L439.42,1096.93 L439.65,1096.21 L440.02,1095.52 L440.51,1094.85 L441.12,1094.2 L441.86,1093.59 L442.7,1093.02 L443.66,1092.49 L444.71,1092.01 L445.85,1091.57 L447.08,1091.19 L448.38,1090.86 L449.74,1090.6 L451.15,1090.39 L452.61,1090.24 L454.1,1090.16 L455.61,1090.13 L457.13,1090.18 L458.65,1090.28 L460.15,1090.45 L461.63,1090.67 L463.08,1090.96 L464.48,1091.3 L465.83,1091.7 L467.11,1092.15 L468.31,1092.65 L469.43,1093.19 L470.45,1093.77 L471.38,1094.39 L472.19,1095.05 L472.89,1095.72 L473.47,1096.43 L473.93,1097.14 L474.26,1097.87 L474.45,1098.61 L474.51,1099.35 L467.13,1233.94 L467.06,1234.75 L466.85,1235.55 L466.52,1236.33 L466.07,1237.08 L465.49,1237.81 L464.79,1238.5 L463.99,1239.16 L463.07,1239.76 L462.06,1240.32 L460.95,1240.82 L459.76,1241.26 L458.5,1241.64 L457.17,1241.95 L455.79,1242.2 L454.36,1242.37 L452.9,1242.48 L451.42,1242.51 L449.93,1242.47 L448.44,1242.36 L446.97,1242.17 L445.52,1241.92 L444.11,1241.6 L442.75,1241.21 L441.44,1240.76 L440.21,1240.25 L439.05,1239.69 L437.98,1239.08 L437,1238.42 L436.12,1237.72 L435.36,1236.99 L434.71,1236.23 L434.18,1235.44 L433.77,1234.64 L433.48,1233.83 L433.33,1233.02Z" fill="url(#gc7)" stroke="#678634" stroke-width="0.7" stroke-opacity="0.7" stroke-linejoin="round"/>
<path d="M470.33,1104.59 L471.28,1104.04 L472.12,1103.46 L472.83,1102.84 L473.43,1102.18 L473.9,1101.5 L474.24,1100.8 L474.44,1100.08 L474.51,1099.35 L474.45,1098.61 L474.26,1097.87 L473.93,1097.14 L473.47,1096.43 L472.89,1095.72 L472.19,1095.04 L471.38,1094.39 L470.45,1093.77 L469.43,1093.19 L468.31,1092.65 L467.11,1092.15 L465.83,1091.7 L464.48,1091.3 L463.08,1090.96 L461.64,1090.67 L460.15,1090.45 L458.65,1090.28 L457.13,1090.18 L455.61,1090.13 L454.1,1090.16 L452.61,1090.24 L451.15,1090.39 L449.74,1090.6 L448.38,1090.86 L447.08,1091.19 L445.85,1091.57 L444.71,1092.01 L443.66,1092.49 L442.7,1093.02 L441.86,1093.59 L441.12,1094.2 L440.51,1094.84 L440.02,1095.52 L439.65,1096.21 L439.42,1096.93 L439.32,1097.65 L439.35,1098.39 L439.52,1099.13 L439.82,1099.86 L440.25,1100.59 L440.81,1101.3 L441.49,1101.98 L442.29,1102.65 L443.21,1103.28 L444.23,1103.88 L445.35,1104.44 L446.56,1104.95 L447.84,1105.41 L449.21,1105.82 L450.63,1106.18 L452.1,1106.47 L453.6,1106.71 L455.14,1106.88 L456.68,1106.98 L458.23,1107.03 L459.77,1107 L461.29,1106.91 L462.77,1106.76 L464.21,1106.54 L465.59,1106.27 L466.9,1105.93 L468.13,1105.53 L469.28,1105.09Z" fill="#80a641" stroke="#536c2a" stroke-width="1.2"/>
<path d="M366.34,1272.36 L366.51,1265.66 L366.54,1264.78 L366.7,1263.91 L366.99,1263.06 L367.41,1262.23 L367.96,1261.42 L368.63,1260.65 L369.42,1259.92 L370.32,1259.23 L371.32,1258.6 L372.42,1258.02 L373.6,1257.49 L374.86,1257.03 L376.19,1256.64 L377.58,1256.31 L379.02,1256.06 L380.5,1255.87 L382,1255.76 L383.52,1255.73 L385.05,1255.77 L386.56,1255.89 L388.06,1256.08 L389.53,1256.34 L390.96,1256.67 L392.34,1257.08 L393.66,1257.55 L394.9,1258.07 L396.07,1258.66 L397.15,1259.3 L398.13,1259.99 L399.01,1260.73 L399.77,1261.5 L400.42,1262.31 L400.94,1263.14 L401.34,1264 L401.61,1264.87 L401.75,1265.74 L401.75,1266.62 L401.51,1273.32 L401.38,1274.19 L401.11,1275.06 L400.71,1275.9 L400.19,1276.72 L399.54,1277.51 L398.76,1278.26 L397.88,1278.96 L396.88,1279.62 L395.79,1280.22 L394.6,1280.76 L393.33,1281.24 L391.99,1281.65 L390.58,1281.99 L389.12,1282.26 L387.62,1282.45 L386.1,1282.57 L384.55,1282.6 L383,1282.56 L381.46,1282.44 L379.94,1282.24 L378.44,1281.97 L377,1281.62 L375.6,1281.21 L374.27,1280.72 L373.02,1280.17 L371.85,1279.57 L370.77,1278.91 L369.8,1278.2 L368.93,1277.44 L368.18,1276.65 L367.56,1275.83 L367.06,1274.98 L366.68,1274.12 L366.44,1273.24Z" fill="url(#gc3)" stroke="#9c573d" stroke-width="0.7" stroke-opacity="0.7" stroke-linejoin="round"/>
<path d="M397.11,1272.89 L398.11,1272.24 L399,1271.54 L399.77,1270.79 L400.42,1270.01 L400.95,1269.19 L401.35,1268.35 L401.62,1267.49 L401.75,1266.62 L401.75,1265.74 L401.61,1264.87 L401.34,1264 L400.95,1263.14 L400.42,1262.31 L399.77,1261.5 L399.01,1260.73 L398.13,1259.99 L397.15,1259.3 L396.07,1258.66 L394.9,1258.07 L393.66,1257.54 L392.34,1257.08 L390.96,1256.68 L389.53,1256.34 L388.06,1256.08 L386.56,1255.89 L385.04,1255.77 L383.52,1255.73 L382,1255.76 L380.5,1255.87 L379.02,1256.05 L377.58,1256.31 L376.19,1256.64 L374.86,1257.03 L373.6,1257.49 L372.42,1258.02 L371.32,1258.6 L370.32,1259.24 L369.42,1259.92 L368.63,1260.65 L367.96,1261.42 L367.41,1262.23 L366.99,1263.06 L366.7,1263.91 L366.53,1264.78 L366.51,1265.66 L366.61,1266.54 L366.85,1267.41 L367.23,1268.27 L367.73,1269.11 L368.36,1269.93 L369.11,1270.72 L369.97,1271.47 L370.95,1272.18 L372.03,1272.84 L373.2,1273.44 L374.46,1273.99 L375.79,1274.47 L377.19,1274.88 L378.64,1275.23 L380.13,1275.5 L381.66,1275.7 L383.21,1275.82 L384.76,1275.86 L386.31,1275.83 L387.84,1275.71 L389.34,1275.52 L390.8,1275.26 L392.21,1274.92 L393.56,1274.51 L394.83,1274.03 L396.02,1273.49Z" fill="#c26d4b" stroke="#7e4631" stroke-width="1.2"/>
<path d="M103.04,813.26 L119.63,1160.78" fill="none" stroke="#111" stroke-width="2.0"/>
<path d="M119.63,1160.78 L390.86,1317.64" fill="none" stroke="#000" stroke-width="1.95"/>
<path d="M382.28,1317.77 L631.79,1163.22 L636.35,1165.26" fill="none" stroke="#000" stroke-width="1.95" stroke-linejoin="round"/>
<line x1="119.63" y1="1160.78" x2="111.62" y2="1164.44" stroke="#111" stroke-width="2" />
<text transform="matrix(0.8206,-0.3751,0.0459,0.8954,107.79,1166.19)" font-size="20" text-anchor="end" y="6.6" fill="#111" stroke="#111" stroke-width="0.3" font-style="italic">0</text>
<line x1="117.72" y1="1120.88" x2="113.14" y2="1122.88" stroke="#111" stroke-width="1.8" />
<line x1="115.77" y1="1080.04" x2="107.65" y2="1083.42" stroke="#111" stroke-width="2" />
<text transform="matrix(0.8418,-0.3496,0.0481,0.9383,103.63,1085.08)" font-size="20" text-anchor="end" y="6.6" fill="#111" stroke="#111" stroke-width="0.3" font-style="italic">10</text>
<line x1="113.78" y1="1038.23" x2="109.12" y2="1040.06" stroke="#111" stroke-width="1.8" />
<line x1="111.73" y1="995.4" x2="103.48" y2="998.47" stroke="#111" stroke-width="2" />
<text transform="matrix(0.8641,-0.3211,0.0505,0.9845,99.27,1000.04)" font-size="20" text-anchor="end" y="6.6" fill="#111" stroke="#111" stroke-width="0.3" font-style="italic">20</text>
<line x1="109.64" y1="951.54" x2="104.92" y2="953.18" stroke="#111" stroke-width="1.8" />
<line x1="107.5" y1="906.58" x2="99.13" y2="909.31" stroke="#111" stroke-width="2" />
<text transform="matrix(0.8877,-0.2894,0.0530,1.0341,94.69,910.76)" font-size="20" text-anchor="end" y="6.6" fill="#111" stroke="#111" stroke-width="0.3" font-style="italic">30</text>
<line x1="105.3" y1="860.5" x2="100.51" y2="861.95" stroke="#111" stroke-width="1.8" />
<line x1="103.04" y1="813.26" x2="94.56" y2="815.62" stroke="#111" stroke-width="2" />
<text transform="matrix(0.9125,-0.2539,0.0557,1.0875,89.88,816.92)" font-size="20" text-anchor="end" y="6.6" fill="#111" stroke="#111" stroke-width="0.3" font-style="italic">40</text>
<line x1="149.01" y1="1177.78" x2="141.33" y2="1181.41" stroke="#000" stroke-width="2" />
<text transform="matrix(0.8225,-0.3889,0.6749,0.3952,136.86,1183.52)" font-size="20" text-anchor="end" y="6.6" fill="#111" stroke="#111" stroke-width="0.3" font-style="italic">380</text>
<line x1="179.42" y1="1195.36" x2="175.37" y2="1197.34" stroke="#000" stroke-width="1.8" />
<line x1="210.89" y1="1213.56" x2="203.31" y2="1217.41" stroke="#000" stroke-width="2" />
<text transform="matrix(0.8247,-0.4185,0.7236,0.4238,198.71,1219.74)" font-size="20" text-anchor="end" y="6.6" fill="#111" stroke="#111" stroke-width="0.3" font-style="italic">410</text>
<line x1="243.5" y1="1232.42" x2="239.52" y2="1234.51" stroke="#000" stroke-width="1.8" />
<line x1="277.3" y1="1251.96" x2="269.84" y2="1256.04" stroke="#000" stroke-width="2" />
<text transform="matrix(0.8250,-0.4514,0.7778,0.4555,265.11,1258.63)" font-size="20" text-anchor="end" y="6.6" fill="#111" stroke="#111" stroke-width="0.3" font-style="italic">440</text>
<line x1="312.35" y1="1272.24" x2="308.44" y2="1274.46" stroke="#000" stroke-width="1.8" />
<line x1="348.74" y1="1293.28" x2="341.43" y2="1297.62" stroke="#000" stroke-width="2" />
<text transform="matrix(0.8230,-0.4884,0.8384,0.4910,336.59,1300.49)" font-size="20" text-anchor="end" y="6.6" fill="#111" stroke="#111" stroke-width="0.3" font-style="italic">470</text>
<line x1="421.61" y1="1293.41" x2="429.04" y2="1297.55" stroke="#000" stroke-width="2" />
<text transform="matrix(0.8798,0.4906,-0.7751,0.4878,435.53,1301.17)" font-size="20" text-anchor="start" y="6.6" fill="#111" stroke="#111" stroke-width="0.3" font-style="italic">0.001</text>
<line x1="455.27" y1="1272.56" x2="459.24" y2="1274.69" stroke="#000" stroke-width="1.8" />
<line x1="487.6" y1="1252.53" x2="495.14" y2="1256.46" stroke="#000" stroke-width="2" />
<text transform="matrix(0.8720,0.4539,-0.7146,0.4497,501.4,1259.71)" font-size="20" text-anchor="start" y="6.6" fill="#111" stroke="#111" stroke-width="0.3" font-style="italic">0.01</text>
<line x1="518.68" y1="1233.28" x2="522.7" y2="1235.31" stroke="#000" stroke-width="1.8" />
<line x1="548.57" y1="1214.77" x2="556.21" y2="1218.5" stroke="#000" stroke-width="2" />
<text transform="matrix(0.8628,0.4212,-0.6609,0.4159,562.23,1221.44)" font-size="20" text-anchor="start" y="6.6" fill="#111" stroke="#111" stroke-width="0.3" font-style="italic">0.1</text>
<line x1="577.35" y1="1196.94" x2="581.41" y2="1198.87" stroke="#000" stroke-width="1.8" />
<line x1="605.07" y1="1179.78" x2="612.79" y2="1183.33" stroke="#000" stroke-width="2" />
<text transform="matrix(0.8525,0.3921,-0.6130,0.3858,618.56,1185.98)" font-size="20" text-anchor="start" y="6.6" fill="#111" stroke="#111" stroke-width="0.3" font-style="italic">1</text>
<text transform="matrix(0.8697,0.5316,-0.9996,0.5268,190.7,1261)" font-size="20" text-anchor="middle" y="6" fill="#111" stroke="#111" stroke-width="0.3" font-style="italic">T(°C)</text>
<text transform="matrix(0.8193,-0.5523,1.1028,0.5567,589.8,1271.2)" font-size="20" text-anchor="middle" y="5.4" fill="#3a3a3a" stroke="#3a3a3a" stroke-width="0.3" >Strain rate(s<tspan dy="-7" font-size="12.5">-1</tspan><tspan dy="7">)</tspan></text>
<text transform="matrix(1.1308,-0.4208,0.0814,1.2512,51.1,1019)" font-size="20" text-anchor="middle" y="6.6" fill="#111" stroke="#111" stroke-width="0.3" font-style="italic" font-weight="bold">MSE</text>
<text x="64.1" y="758.8" font-size="33" text-anchor="start" fill="#000" >(c)</text>
</g>
<g font-family='"Liberation Serif", "DejaVu Serif", serif'>
<line x1="1036.62" y1="1133.04" x2="1025.61" y2="794.73" stroke="#e6e6e6" stroke-width="1" stroke-dasharray="1.5 1.5"/>
<line x1="1275.57" y1="1072.9" x2="1286.86" y2="755.21" stroke="#e6e6e6" stroke-width="1" stroke-dasharray="1.5 1.5"/>
<line x1="1030.24" y1="1199.57" x2="1275.57" y2="1072.9" stroke="#efefef" stroke-width="1" />
<line x1="1036.62" y1="1133.04" x2="1310.16" y2="1271.97" stroke="#efefef" stroke-width="1" />
<line x1="1100.11" y1="1102.44" x2="1095.45" y2="774.04" stroke="#e6e6e6" stroke-width="1" stroke-dasharray="1.5 1.5"/>
<line x1="1340" y1="1100.17" x2="1357.63" y2="774.6" stroke="#e6e6e6" stroke-width="1" stroke-dasharray="1.5 1.5"/>
<line x1="1096.36" y1="1235.58" x2="1340" y2="1100.17" stroke="#efefef" stroke-width="1" />
<line x1="1100.11" y1="1102.44" x2="1371.65" y2="1231.7" stroke="#efefef" stroke-width="1" />
<line x1="1159.37" y1="1073.88" x2="1160.22" y2="754.86" stroke="#e6e6e6" stroke-width="1" stroke-dasharray="1.5 1.5"/>
<line x1="1408.42" y1="1129.14" x2="1433.2" y2="795.31" stroke="#e6e6e6" stroke-width="1" stroke-dasharray="1.5 1.5"/>
<line x1="1167.24" y1="1274.19" x2="1408.42" y2="1129.14" stroke="#efefef" stroke-width="1" />
<line x1="1159.37" y1="1073.88" x2="1428.49" y2="1194.47" stroke="#efefef" stroke-width="1" />
<line x1="965.59" y1="1112.3" x2="1215.67" y2="998.97" stroke="#b2b2b2" stroke-width="1.3" />
<line x1="1215.67" y1="998.97" x2="1486.26" y2="1107.23" stroke="#b2b2b2" stroke-width="1.3" />
<line x1="962.68" y1="1056.99" x2="1216.57" y2="949.45" stroke="#b2b2b2" stroke-width="1.3" />
<line x1="1216.57" y1="949.45" x2="1491.48" y2="1052.87" stroke="#b2b2b2" stroke-width="1.3" />
<line x1="959.68" y1="999.91" x2="1217.5" y2="898.56" stroke="#b2b2b2" stroke-width="1.3" />
<line x1="1217.5" y1="898.56" x2="1496.86" y2="996.8" stroke="#b2b2b2" stroke-width="1.3" />
<line x1="956.57" y1="940.97" x2="1218.45" y2="846.23" stroke="#b2b2b2" stroke-width="1.3" />
<line x1="1218.45" y1="846.23" x2="1502.41" y2="938.94" stroke="#b2b2b2" stroke-width="1.3" />
<line x1="953.37" y1="880.07" x2="1219.43" y2="792.4" stroke="#b2b2b2" stroke-width="1.3" />
<line x1="1219.43" y1="792.4" x2="1508.15" y2="879.19" stroke="#b2b2b2" stroke-width="1.3" />
<path d="M950.05,817.11 L1220.44,737.02 L1514.07,817.46 L1481.2,1159.95" fill="none" stroke="#2b2b2b" stroke-width="1.4" stroke-linejoin="round"/>
<line x1="1214.79" y1="1047.16" x2="1220.44" y2="737.02" stroke="#2b2b2b" stroke-width="1.3" />
<path d="M968.42,1165.91 L1214.79,1047.16 L1481.2,1159.95" fill="none" stroke="#222" stroke-width="1.7" stroke-linejoin="round"/>
<path d="M1203.29,1073.51 L1203.29,1072.93 L1206.43,864.92 L1206.54,864.46 L1206.77,864 L1207.11,863.56 L1207.56,863.13 L1208.12,862.72 L1208.78,862.33 L1209.53,861.96 L1210.37,861.62 L1211.3,861.3 L1212.31,861.02 L1213.38,860.77 L1214.51,860.56 L1215.7,860.38 L1216.93,860.24 L1218.2,860.14 L1219.49,860.08 L1220.79,860.06 L1222.1,860.08 L1223.41,860.14 L1224.71,860.24 L1225.98,860.37 L1227.21,860.55 L1228.41,860.76 L1229.55,861.01 L1230.64,861.29 L1231.66,861.6 L1232.6,861.94 L1233.46,862.3 L1234.23,862.69 L1234.9,863.1 L1235.48,863.53 L1235.95,863.97 L1236.31,864.43 L1236.56,864.89 L1236.7,865.35 L1236.72,865.82 L1231.9,1073.85 L1231.81,1074.42 L1231.61,1074.99 L1231.3,1075.55 L1230.88,1076.1 L1230.37,1076.62 L1229.76,1077.12 L1229.05,1077.59 L1228.26,1078.03 L1227.38,1078.43 L1226.42,1078.8 L1225.4,1079.13 L1224.32,1079.41 L1223.19,1079.64 L1222.01,1079.83 L1220.8,1079.97 L1219.56,1080.06 L1218.31,1080.09 L1217.05,1080.08 L1215.79,1080.01 L1214.55,1079.89 L1213.34,1079.73 L1212.15,1079.51 L1211.01,1079.25 L1209.92,1078.94 L1208.89,1078.59 L1207.92,1078.2 L1207.04,1077.78 L1206.23,1077.32 L1205.51,1076.83 L1204.88,1076.32 L1204.36,1075.78 L1203.93,1075.23 L1203.61,1074.66 L1203.39,1074.09Z" fill="url(#gd12)" stroke="#9e6f9c" stroke-width="0.7" stroke-opacity="0.7" stroke-linejoin="round"/>
<path d="M1232.89,869.16 L1233.73,868.81 L1234.47,868.44 L1235.12,868.04 L1235.66,867.62 L1236.09,867.19 L1236.42,866.74 L1236.63,866.28 L1236.72,865.82 L1236.7,865.35 L1236.56,864.89 L1236.31,864.43 L1235.95,863.97 L1235.48,863.53 L1234.9,863.1 L1234.23,862.69 L1233.46,862.3 L1232.6,861.94 L1231.66,861.6 L1230.64,861.29 L1229.55,861.01 L1228.41,860.76 L1227.21,860.55 L1225.98,860.37 L1224.71,860.24 L1223.41,860.14 L1222.1,860.08 L1220.79,860.06 L1219.49,860.08 L1218.2,860.14 L1216.93,860.24 L1215.7,860.38 L1214.51,860.56 L1213.38,860.77 L1212.31,861.02 L1211.3,861.3 L1210.37,861.62 L1209.53,861.96 L1208.78,862.33 L1208.12,862.72 L1207.56,863.13 L1207.11,863.56 L1206.77,864 L1206.54,864.46 L1206.43,864.92 L1206.43,865.39 L1206.54,865.85 L1206.77,866.32 L1207.11,866.77 L1207.57,867.22 L1208.13,867.65 L1208.8,868.07 L1209.56,868.47 L1210.42,868.84 L1211.36,869.19 L1212.38,869.51 L1213.47,869.79 L1214.63,870.05 L1215.84,870.26 L1217.09,870.44 L1218.38,870.58 L1219.7,870.69 L1221.03,870.75 L1222.36,870.76 L1223.69,870.74 L1225,870.68 L1226.28,870.57 L1227.53,870.43 L1228.73,870.25 L1229.87,870.03 L1230.95,869.77 L1231.96,869.48Z" fill="#c48ac1" stroke="#805a7e" stroke-width="1.2"/>
<path d="M1145.44,941.13 L1145.49,940.6 L1145.65,940.08 L1145.93,939.56 L1146.32,939.05 L1146.82,938.56 L1147.43,938.09 L1148.14,937.64 L1148.95,937.22 L1149.84,936.83 L1150.82,936.47 L1151.88,936.15 L1153,935.86 L1154.18,935.61 L1155.41,935.41 L1156.69,935.25 L1157.99,935.13 L1159.32,935.06 L1160.66,935.03 L1162,935.05 L1163.33,935.11 L1164.65,935.22 L1165.93,935.37 L1167.18,935.57 L1168.39,935.8 L1169.54,936.08 L1170.62,936.4 L1171.63,936.75 L1172.57,937.13 L1173.41,937.55 L1174.16,937.99 L1174.82,938.46 L1175.37,938.94 L1175.81,939.45 L1176.13,939.96 L1176.35,940.49 L1176.44,941.02 L1175.28,1101.73 L1175.26,1102.35 L1175.12,1102.96 L1174.88,1103.58 L1174.52,1104.17 L1174.06,1104.75 L1173.49,1105.31 L1172.82,1105.85 L1172.05,1106.35 L1171.2,1106.82 L1170.26,1107.26 L1169.25,1107.65 L1168.17,1107.99 L1167.03,1108.3 L1165.84,1108.55 L1164.6,1108.75 L1163.34,1108.9 L1162.05,1108.99 L1160.75,1109.03 L1159.44,1109.02 L1158.15,1108.95 L1156.87,1108.83 L1155.62,1108.65 L1154.41,1108.42 L1153.25,1108.14 L1152.14,1107.81 L1151.09,1107.44 L1150.12,1107.02 L1149.23,1106.57 L1148.43,1106.08 L1147.71,1105.56 L1147.1,1105.01 L1146.59,1104.44 L1146.19,1103.85 L1145.89,1103.24 L1145.71,1102.63 L1145.64,1102.01Z" fill="url(#gd8)" stroke="#5f7397" stroke-width="0.7" stroke-opacity="0.7" stroke-linejoin="round"/>
<path d="M1172.18,945.37 L1173.07,944.97 L1173.87,944.54 L1174.57,944.09 L1175.17,943.61 L1175.65,943.11 L1176.02,942.6 L1176.28,942.08 L1176.42,941.55 L1176.44,941.02 L1176.35,940.49 L1176.13,939.96 L1175.81,939.45 L1175.37,938.94 L1174.82,938.46 L1174.16,937.99 L1173.41,937.55 L1172.57,937.13 L1171.63,936.75 L1170.62,936.4 L1169.54,936.08 L1168.39,935.81 L1167.18,935.57 L1165.93,935.37 L1164.65,935.22 L1163.33,935.11 L1162,935.05 L1160.66,935.03 L1159.32,935.06 L1157.99,935.13 L1156.69,935.25 L1155.41,935.41 L1154.18,935.61 L1153,935.86 L1151.88,936.15 L1150.82,936.47 L1149.84,936.83 L1148.95,937.22 L1148.14,937.64 L1147.43,938.09 L1146.82,938.56 L1146.32,939.05 L1145.93,939.56 L1145.65,940.08 L1145.49,940.6 L1145.44,941.13 L1145.52,941.67 L1145.71,942.19 L1146.02,942.71 L1146.44,943.22 L1146.97,943.72 L1147.62,944.19 L1148.36,944.64 L1149.2,945.06 L1150.13,945.46 L1151.15,945.82 L1152.24,946.14 L1153.4,946.43 L1154.62,946.67 L1155.89,946.87 L1157.2,947.03 L1158.53,947.14 L1159.89,947.21 L1161.25,947.23 L1162.61,947.2 L1163.96,947.12 L1165.28,947 L1166.57,946.83 L1167.82,946.62 L1169.01,946.36 L1170.14,946.07 L1171.2,945.74Z" fill="#778ebb" stroke="#4d5c7a" stroke-width="1.2"/>
<path d="M1265.67,1100.26 L1270.67,948.38 L1270.74,947.85 L1270.93,947.33 L1271.23,946.82 L1271.65,946.33 L1272.17,945.86 L1272.8,945.41 L1273.52,944.99 L1274.34,944.59 L1275.25,944.23 L1276.24,943.91 L1277.3,943.62 L1278.43,943.37 L1279.62,943.17 L1280.85,943 L1282.12,942.88 L1283.42,942.81 L1284.74,942.78 L1286.07,942.8 L1287.4,942.87 L1288.72,942.97 L1290.02,943.13 L1291.29,943.32 L1292.52,943.56 L1293.71,943.84 L1294.83,944.16 L1295.89,944.51 L1296.88,944.89 L1297.79,945.31 L1298.61,945.75 L1299.33,946.22 L1299.96,946.71 L1300.48,947.22 L1300.89,947.73 L1301.19,948.26 L1301.38,948.79 L1301.44,949.33 L1295.16,1101.21 L1295.11,1101.83 L1294.94,1102.43 L1294.67,1103.03 L1294.29,1103.61 L1293.8,1104.16 L1293.2,1104.69 L1292.51,1105.2 L1291.73,1105.66 L1290.86,1106.09 L1289.9,1106.48 L1288.88,1106.83 L1287.79,1107.13 L1286.64,1107.38 L1285.44,1107.58 L1284.2,1107.73 L1282.93,1107.82 L1281.65,1107.86 L1280.35,1107.85 L1279.06,1107.78 L1277.77,1107.66 L1276.51,1107.48 L1275.28,1107.25 L1274.08,1106.97 L1272.94,1106.65 L1271.85,1106.28 L1270.83,1105.87 L1269.88,1105.41 L1269.02,1104.93 L1268.24,1104.41 L1267.56,1103.86 L1266.98,1103.29 L1266.5,1102.7 L1266.12,1102.1 L1265.86,1101.49 L1265.71,1100.88Z" fill="url(#gd13)" stroke="#9e9d63" stroke-width="0.7" stroke-opacity="0.7" stroke-linejoin="round"/>
<path d="M1297.9,953.16 L1298.71,952.76 L1299.43,952.33 L1300.05,951.87 L1300.55,951.39 L1300.95,950.9 L1301.23,950.38 L1301.4,949.86 L1301.44,949.33 L1301.38,948.79 L1301.19,948.26 L1300.89,947.73 L1300.48,947.22 L1299.96,946.71 L1299.33,946.22 L1298.61,945.75 L1297.79,945.31 L1296.88,944.9 L1295.89,944.51 L1294.83,944.16 L1293.71,943.84 L1292.52,943.56 L1291.29,943.32 L1290.02,943.13 L1288.72,942.97 L1287.4,942.86 L1286.07,942.8 L1284.74,942.78 L1283.42,942.81 L1282.12,942.89 L1280.85,943 L1279.61,943.17 L1278.43,943.37 L1277.3,943.62 L1276.24,943.91 L1275.25,944.23 L1274.34,944.59 L1273.52,944.99 L1272.8,945.41 L1272.17,945.86 L1271.65,946.33 L1271.23,946.82 L1270.93,947.33 L1270.75,947.85 L1270.67,948.38 L1270.72,948.92 L1270.88,949.45 L1271.16,949.98 L1271.56,950.5 L1272.06,951.01 L1272.67,951.51 L1273.39,951.98 L1274.2,952.44 L1275.11,952.86 L1276.1,953.26 L1277.16,953.62 L1278.3,953.94 L1279.49,954.23 L1280.74,954.47 L1282.03,954.68 L1283.35,954.83 L1284.69,954.94 L1286.04,955.01 L1287.4,955.03 L1288.74,955 L1290.06,954.92 L1291.35,954.8 L1292.6,954.63 L1293.79,954.42 L1294.93,954.16 L1296,953.87 L1296.99,953.53Z" fill="#c4c47b" stroke="#807f50" stroke-width="1.2"/>
<path d="M1081.82,1024.08 L1081.91,1023.48 L1082.12,1022.88 L1082.45,1022.28 L1082.9,1021.71 L1083.46,1021.15 L1084.12,1020.61 L1084.89,1020.1 L1085.75,1019.62 L1086.7,1019.17 L1087.74,1018.76 L1088.84,1018.39 L1090.02,1018.07 L1091.25,1017.78 L1092.53,1017.55 L1093.84,1017.36 L1095.19,1017.22 L1096.55,1017.14 L1097.92,1017.1 L1099.29,1017.12 L1100.65,1017.19 L1101.99,1017.31 L1103.29,1017.48 L1104.55,1017.7 L1105.76,1017.96 L1106.91,1018.28 L1108,1018.63 L1109,1019.03 L1109.92,1019.46 L1110.75,1019.93 L1111.48,1020.43 L1112.11,1020.96 L1112.62,1021.51 L1113.03,1022.08 L1113.32,1022.67 L1113.49,1023.26 L1113.54,1023.87 L1114.64,1132.22 L1114.58,1132.88 L1114.39,1133.54 L1114.09,1134.2 L1113.68,1134.84 L1113.16,1135.46 L1112.53,1136.06 L1111.8,1136.63 L1110.97,1137.17 L1110.05,1137.68 L1109.05,1138.14 L1107.97,1138.57 L1106.83,1138.94 L1105.62,1139.26 L1104.37,1139.54 L1103.07,1139.75 L1101.75,1139.91 L1100.4,1140.01 L1099.05,1140.06 L1097.7,1140.04 L1096.36,1139.97 L1095.05,1139.84 L1093.76,1139.65 L1092.52,1139.4 L1091.33,1139.11 L1090.2,1138.76 L1089.15,1138.36 L1088.17,1137.91 L1087.28,1137.43 L1086.48,1136.9 L1085.78,1136.35 L1085.18,1135.76 L1084.69,1135.14 L1084.31,1134.51 L1084.05,1133.86 L1083.91,1133.2 L1083.88,1132.54Z" fill="url(#gd4)" stroke="#786d87" stroke-width="0.7" stroke-opacity="0.7" stroke-linejoin="round"/>
<path d="M1108.8,1028.83 L1109.75,1028.37 L1110.61,1027.88 L1111.36,1027.36 L1112.01,1026.82 L1112.55,1026.25 L1112.98,1025.67 L1113.29,1025.07 L1113.48,1024.47 L1113.54,1023.87 L1113.49,1023.27 L1113.32,1022.67 L1113.03,1022.08 L1112.63,1021.51 L1112.11,1020.96 L1111.48,1020.43 L1110.75,1019.93 L1109.92,1019.46 L1109,1019.03 L1108,1018.63 L1106.91,1018.28 L1105.76,1017.96 L1104.55,1017.7 L1103.29,1017.48 L1101.99,1017.31 L1100.65,1017.19 L1099.29,1017.12 L1097.92,1017.1 L1096.55,1017.14 L1095.19,1017.22 L1093.84,1017.36 L1092.53,1017.55 L1091.25,1017.78 L1090.02,1018.07 L1088.84,1018.39 L1087.74,1018.76 L1086.7,1019.17 L1085.75,1019.62 L1084.89,1020.1 L1084.12,1020.61 L1083.46,1021.15 L1082.9,1021.71 L1082.45,1022.28 L1082.12,1022.88 L1081.91,1023.48 L1081.82,1024.08 L1081.85,1024.68 L1082,1025.28 L1082.27,1025.88 L1082.65,1026.45 L1083.16,1027.01 L1083.77,1027.55 L1084.49,1028.06 L1085.32,1028.54 L1086.24,1028.98 L1087.24,1029.39 L1088.33,1029.75 L1089.49,1030.08 L1090.72,1030.35 L1092,1030.58 L1093.32,1030.75 L1094.68,1030.88 L1096.06,1030.95 L1097.45,1030.96 L1098.85,1030.93 L1100.23,1030.84 L1101.6,1030.7 L1102.94,1030.5 L1104.23,1030.26 L1105.47,1029.97 L1106.66,1029.63 L1107.77,1029.25Z" fill="#9588a7" stroke="#61586c" stroke-width="1.2"/>
<path d="M1208.48,1130.57 L1209.78,1053.41 L1209.9,1052.8 L1210.13,1052.19 L1210.48,1051.6 L1210.94,1051.03 L1211.51,1050.48 L1212.19,1049.96 L1212.96,1049.46 L1213.83,1049.01 L1214.78,1048.59 L1215.81,1048.21 L1216.92,1047.87 L1218.09,1047.58 L1219.31,1047.34 L1220.57,1047.14 L1221.87,1047 L1223.2,1046.91 L1224.55,1046.88 L1225.9,1046.89 L1227.24,1046.96 L1228.58,1047.08 L1229.88,1047.26 L1231.16,1047.48 L1232.39,1047.75 L1233.57,1048.07 L1234.69,1048.44 L1235.74,1048.84 L1236.71,1049.29 L1237.6,1049.76 L1238.39,1050.28 L1239.09,1050.82 L1239.69,1051.38 L1240.17,1051.96 L1240.55,1052.56 L1240.81,1053.17 L1240.95,1053.79 L1240.98,1054.41 L1239,1131.58 L1238.91,1132.23 L1238.7,1132.88 L1238.38,1133.52 L1237.94,1134.14 L1237.4,1134.73 L1236.75,1135.31 L1236,1135.84 L1235.15,1136.34 L1234.22,1136.81 L1233.21,1137.22 L1232.12,1137.6 L1230.97,1137.92 L1229.76,1138.19 L1228.5,1138.4 L1227.21,1138.56 L1225.89,1138.66 L1224.55,1138.71 L1223.21,1138.69 L1221.87,1138.62 L1220.55,1138.49 L1219.25,1138.3 L1217.98,1138.06 L1216.76,1137.76 L1215.6,1137.41 L1214.5,1137.02 L1213.47,1136.58 L1212.52,1136.09 L1211.65,1135.57 L1210.88,1135.02 L1210.21,1134.43 L1209.64,1133.82 L1209.18,1133.19 L1208.84,1132.55 L1208.6,1131.89 L1208.48,1131.23Z" fill="url(#gd9)" stroke="#786d87" stroke-width="0.7" stroke-opacity="0.7" stroke-linejoin="round"/>
<path d="M1237.06,1058.87 L1237.92,1058.4 L1238.68,1057.89 L1239.35,1057.36 L1239.9,1056.81 L1240.34,1056.23 L1240.67,1055.63 L1240.89,1055.02 L1240.98,1054.41 L1240.95,1053.79 L1240.81,1053.17 L1240.55,1052.56 L1240.17,1051.96 L1239.69,1051.38 L1239.09,1050.81 L1238.39,1050.28 L1237.6,1049.76 L1236.71,1049.28 L1235.74,1048.84 L1234.69,1048.44 L1233.57,1048.07 L1232.39,1047.75 L1231.16,1047.48 L1229.88,1047.26 L1228.57,1047.08 L1227.24,1046.96 L1225.9,1046.89 L1224.55,1046.88 L1223.2,1046.91 L1221.87,1047 L1220.57,1047.14 L1219.31,1047.34 L1218.08,1047.58 L1216.92,1047.87 L1215.81,1048.21 L1214.78,1048.59 L1213.83,1049.01 L1212.96,1049.46 L1212.19,1049.96 L1211.51,1050.48 L1210.94,1051.03 L1210.48,1051.6 L1210.13,1052.19 L1209.9,1052.8 L1209.78,1053.41 L1209.78,1054.03 L1209.91,1054.65 L1210.14,1055.26 L1210.5,1055.87 L1210.97,1056.46 L1211.55,1057.03 L1212.24,1057.58 L1213.03,1058.1 L1213.91,1058.59 L1214.88,1059.04 L1215.94,1059.46 L1217.07,1059.83 L1218.26,1060.16 L1219.51,1060.44 L1220.8,1060.67 L1222.13,1060.85 L1223.48,1060.97 L1224.85,1061.04 L1226.22,1061.06 L1227.59,1061.02 L1228.94,1060.93 L1230.26,1060.78 L1231.54,1060.58 L1232.78,1060.33 L1233.96,1060.03 L1235.07,1059.69 L1236.1,1059.3Z" fill="#9588a7" stroke="#61586c" stroke-width="1.2"/>
<path d="M1331.91,1129.28 L1331.94,1128.63 L1347.33,834.29 L1347.47,833.81 L1347.73,833.35 L1348.12,832.91 L1348.62,832.48 L1349.24,832.08 L1349.97,831.7 L1350.81,831.34 L1351.74,831.02 L1352.76,830.73 L1353.86,830.47 L1355.04,830.25 L1356.28,830.07 L1357.58,829.93 L1358.93,829.83 L1360.31,829.76 L1361.72,829.74 L1363.14,829.76 L1364.57,829.83 L1365.99,829.93 L1367.4,830.07 L1368.78,830.25 L1370.12,830.48 L1371.42,830.73 L1372.66,831.02 L1373.84,831.35 L1374.93,831.7 L1375.95,832.08 L1376.88,832.49 L1377.71,832.91 L1378.43,833.36 L1379.05,833.82 L1379.55,834.29 L1379.93,834.76 L1380.18,835.25 L1380.32,835.73 L1380.33,836.21 L1362.34,1130.93 L1362.22,1131.58 L1361.98,1132.21 L1361.63,1132.83 L1361.17,1133.42 L1360.6,1133.99 L1359.93,1134.52 L1359.16,1135.02 L1358.3,1135.48 L1357.35,1135.9 L1356.32,1136.27 L1355.21,1136.59 L1354.05,1136.85 L1352.83,1137.07 L1351.57,1137.23 L1350.27,1137.33 L1348.95,1137.37 L1347.62,1137.36 L1346.28,1137.28 L1344.95,1137.15 L1343.63,1136.97 L1342.34,1136.72 L1341.09,1136.43 L1339.89,1136.08 L1338.74,1135.69 L1337.66,1135.25 L1336.65,1134.77 L1335.72,1134.25 L1334.89,1133.7 L1334.14,1133.12 L1333.5,1132.51 L1332.96,1131.89 L1332.53,1131.25 L1332.21,1130.6 L1332,1129.94Z" fill="url(#gd14)" stroke="#6f8d91" stroke-width="0.7" stroke-opacity="0.7" stroke-linejoin="round"/>
<path d="M1376.97,839.2 L1377.79,838.84 L1378.51,838.45 L1379.11,838.04 L1379.6,837.6 L1379.97,837.15 L1380.21,836.69 L1380.33,836.21 L1380.32,835.73 L1380.18,835.25 L1379.93,834.77 L1379.54,834.29 L1379.05,833.82 L1378.43,833.36 L1377.71,832.91 L1376.88,832.48 L1375.95,832.08 L1374.93,831.7 L1373.83,831.35 L1372.66,831.02 L1371.42,830.73 L1370.12,830.48 L1368.78,830.26 L1367.4,830.07 L1365.99,829.93 L1364.57,829.83 L1363.14,829.76 L1361.72,829.74 L1360.31,829.76 L1358.93,829.82 L1357.58,829.93 L1356.28,830.07 L1355.04,830.25 L1353.86,830.47 L1352.76,830.73 L1351.74,831.02 L1350.81,831.34 L1349.97,831.7 L1349.25,832.08 L1348.63,832.48 L1348.12,832.91 L1347.73,833.35 L1347.47,833.81 L1347.32,834.29 L1347.31,834.77 L1347.42,835.25 L1347.65,835.73 L1348.01,836.22 L1348.49,836.69 L1349.08,837.16 L1349.79,837.61 L1350.61,838.04 L1351.53,838.45 L1352.55,838.84 L1353.65,839.2 L1354.83,839.54 L1356.08,839.83 L1357.4,840.1 L1358.76,840.33 L1360.16,840.51 L1361.59,840.66 L1363.04,840.77 L1364.49,840.83 L1365.94,840.85 L1367.37,840.83 L1368.78,840.77 L1370.14,840.66 L1371.46,840.51 L1372.72,840.32 L1373.91,840.1 L1375.02,839.83 L1376.04,839.53Z" fill="#8aafb4" stroke="#5a7275" stroke-width="1.2"/>
<path d="M1016.42,1137.44 L1016.44,1136.74 L1016.59,1136.05 L1016.85,1135.36 L1017.24,1134.67 L1017.74,1134.01 L1018.35,1133.36 L1019.06,1132.74 L1019.88,1132.15 L1020.8,1131.59 L1021.8,1131.07 L1022.88,1130.59 L1024.04,1130.16 L1025.26,1129.78 L1026.53,1129.45 L1027.85,1129.17 L1029.2,1128.95 L1030.58,1128.79 L1031.97,1128.69 L1033.37,1128.64 L1034.76,1128.66 L1036.13,1128.73 L1037.48,1128.87 L1038.79,1129.06 L1040.05,1129.31 L1041.26,1129.62 L1042.4,1129.97 L1043.47,1130.38 L1044.46,1130.84 L1045.36,1131.33 L1046.16,1131.87 L1046.87,1132.45 L1047.46,1133.05 L1047.94,1133.69 L1048.31,1134.35 L1048.56,1135.02 L1048.68,1135.71 L1049.51,1164.25 L1049.52,1164.96 L1049.4,1165.68 L1049.16,1166.39 L1048.81,1167.09 L1048.33,1167.78 L1047.74,1168.45 L1047.05,1169.09 L1046.24,1169.71 L1045.34,1170.29 L1044.35,1170.83 L1043.28,1171.33 L1042.12,1171.79 L1040.91,1172.19 L1039.63,1172.54 L1038.31,1172.83 L1036.95,1173.07 L1035.56,1173.24 L1034.16,1173.35 L1032.75,1173.4 L1031.35,1173.38 L1029.96,1173.31 L1028.6,1173.16 L1027.28,1172.96 L1026.01,1172.7 L1024.8,1172.38 L1023.65,1172.01 L1022.59,1171.58 L1021.6,1171.1 L1020.71,1170.58 L1019.92,1170.02 L1019.23,1169.42 L1018.66,1168.79 L1018.19,1168.13 L1017.85,1167.45 L1017.62,1166.76 L1017.52,1166.05Z" fill="url(#gd0)" stroke="#9d7d5e" stroke-width="0.7" stroke-opacity="0.7" stroke-linejoin="round"/>
<path d="M1043.47,1142.14 L1044.47,1141.61 L1045.38,1141.04 L1046.19,1140.44 L1046.89,1139.81 L1047.49,1139.16 L1047.97,1138.48 L1048.33,1137.8 L1048.57,1137.1 L1048.69,1136.4 L1048.68,1135.71 L1048.56,1135.02 L1048.31,1134.34 L1047.94,1133.69 L1047.46,1133.05 L1046.87,1132.45 L1046.17,1131.87 L1045.36,1131.33 L1044.46,1130.83 L1043.47,1130.38 L1042.4,1129.97 L1041.26,1129.62 L1040.05,1129.31 L1038.79,1129.06 L1037.48,1128.87 L1036.13,1128.73 L1034.76,1128.66 L1033.37,1128.64 L1031.97,1128.69 L1030.58,1128.79 L1029.2,1128.95 L1027.85,1129.17 L1026.53,1129.45 L1025.26,1129.78 L1024.04,1130.16 L1022.88,1130.59 L1021.8,1131.07 L1020.8,1131.59 L1019.88,1132.15 L1019.06,1132.74 L1018.35,1133.36 L1017.73,1134.01 L1017.24,1134.67 L1016.85,1135.35 L1016.59,1136.05 L1016.44,1136.75 L1016.42,1137.44 L1016.53,1138.13 L1016.75,1138.82 L1017.1,1139.48 L1017.56,1140.12 L1018.14,1140.74 L1018.84,1141.33 L1019.63,1141.88 L1020.53,1142.39 L1021.52,1142.85 L1022.6,1143.27 L1023.75,1143.64 L1024.98,1143.95 L1026.26,1144.21 L1027.59,1144.41 L1028.96,1144.55 L1030.35,1144.63 L1031.77,1144.64 L1033.19,1144.6 L1034.6,1144.49 L1036,1144.32 L1037.38,1144.09 L1038.71,1143.81 L1040,1143.46 L1041.23,1143.07 L1042.39,1142.63Z" fill="#c39b75" stroke="#7e644c" stroke-width="1.2"/>
<path d="M1147.02,1137.92 L1147.07,1137.22 L1147.23,1136.54 L1147.52,1135.86 L1147.92,1135.19 L1148.44,1134.55 L1149.06,1133.93 L1149.79,1133.34 L1150.62,1132.78 L1151.54,1132.27 L1152.55,1131.79 L1153.64,1131.36 L1154.79,1130.98 L1156.01,1130.65 L1157.28,1130.38 L1158.59,1130.16 L1159.93,1130 L1161.3,1129.89 L1162.67,1129.85 L1164.05,1129.87 L1165.43,1129.94 L1166.78,1130.08 L1168.11,1130.27 L1169.39,1130.52 L1170.64,1130.82 L1171.82,1131.17 L1172.94,1131.58 L1173.98,1132.03 L1174.94,1132.53 L1175.82,1133.07 L1176.59,1133.64 L1177.27,1134.24 L1177.83,1134.87 L1178.29,1135.53 L1178.62,1136.2 L1178.85,1136.89 L1178.95,1137.58 L1178.73,1163.46 L1178.71,1164.17 L1178.57,1164.88 L1178.31,1165.58 L1177.93,1166.26 L1177.43,1166.93 L1176.83,1167.57 L1176.12,1168.18 L1175.3,1168.76 L1174.39,1169.3 L1173.39,1169.79 L1172.31,1170.24 L1171.15,1170.64 L1169.93,1170.99 L1168.66,1171.28 L1167.34,1171.52 L1165.99,1171.69 L1164.61,1171.8 L1163.22,1171.85 L1161.82,1171.83 L1160.44,1171.75 L1159.07,1171.61 L1157.73,1171.41 L1156.44,1171.15 L1155.19,1170.83 L1154.01,1170.46 L1152.89,1170.04 L1151.85,1169.56 L1150.89,1169.05 L1150.03,1168.49 L1149.27,1167.89 L1148.61,1167.27 L1148.07,1166.61 L1147.63,1165.94 L1147.32,1165.24 L1147.12,1164.54 L1147.04,1163.83Z" fill="url(#gd5)" stroke="#9d7d5e" stroke-width="0.7" stroke-opacity="0.7" stroke-linejoin="round"/>
<path d="M1174.57,1143.29 L1175.49,1142.76 L1176.31,1142.2 L1177.03,1141.6 L1177.64,1140.97 L1178.14,1140.32 L1178.52,1139.65 L1178.78,1138.97 L1178.93,1138.27 L1178.95,1137.58 L1178.85,1136.89 L1178.62,1136.2 L1178.29,1135.53 L1177.83,1134.87 L1177.26,1134.24 L1176.59,1133.64 L1175.81,1133.06 L1174.94,1132.53 L1173.98,1132.03 L1172.94,1131.58 L1171.82,1131.17 L1170.64,1130.82 L1169.4,1130.51 L1168.11,1130.27 L1166.78,1130.07 L1165.43,1129.94 L1164.05,1129.87 L1162.67,1129.85 L1161.3,1129.89 L1159.93,1130 L1158.59,1130.16 L1157.28,1130.38 L1156.01,1130.65 L1154.79,1130.98 L1153.64,1131.36 L1152.55,1131.79 L1151.54,1132.27 L1150.62,1132.78 L1149.79,1133.34 L1149.06,1133.93 L1148.44,1134.55 L1147.92,1135.19 L1147.52,1135.86 L1147.23,1136.53 L1147.07,1137.22 L1147.02,1137.92 L1147.1,1138.61 L1147.3,1139.3 L1147.62,1139.98 L1148.05,1140.64 L1148.6,1141.28 L1149.27,1141.9 L1150.03,1142.48 L1150.9,1143.03 L1151.86,1143.54 L1152.91,1144 L1154.04,1144.42 L1155.23,1144.79 L1156.49,1145.1 L1157.79,1145.36 L1159.14,1145.55 L1160.52,1145.69 L1161.91,1145.77 L1163.32,1145.78 L1164.72,1145.74 L1166.11,1145.63 L1167.47,1145.46 L1168.8,1145.23 L1170.09,1144.95 L1171.31,1144.61 L1172.48,1144.22 L1173.57,1143.78Z" fill="#c39b75" stroke="#7e644c" stroke-width="1.2"/>
<path d="M1275.32,1161.64 L1276.93,1117.29 L1277,1116.62 L1277.19,1115.95 L1277.5,1115.3 L1277.92,1114.67 L1278.46,1114.07 L1279.11,1113.49 L1279.86,1112.95 L1280.71,1112.44 L1281.64,1111.98 L1282.67,1111.56 L1283.77,1111.18 L1284.93,1110.86 L1286.16,1110.59 L1287.44,1110.38 L1288.76,1110.22 L1290.1,1110.12 L1291.47,1110.08 L1292.85,1110.1 L1294.23,1110.17 L1295.6,1110.3 L1296.95,1110.49 L1298.27,1110.73 L1299.55,1111.03 L1300.78,1111.38 L1301.95,1111.78 L1303.06,1112.22 L1304.09,1112.71 L1305.03,1113.23 L1305.89,1113.79 L1306.64,1114.39 L1307.3,1115.01 L1307.84,1115.65 L1308.28,1116.31 L1308.59,1116.98 L1308.79,1117.65 L1308.87,1118.34 L1306.85,1162.68 L1306.8,1163.38 L1306.63,1164.08 L1306.35,1164.76 L1305.95,1165.42 L1305.43,1166.06 L1304.81,1166.66 L1304.08,1167.24 L1303.24,1167.78 L1302.32,1168.27 L1301.3,1168.72 L1300.21,1169.11 L1299.05,1169.46 L1297.82,1169.75 L1296.54,1169.98 L1295.22,1170.15 L1293.87,1170.26 L1292.5,1170.31 L1291.11,1170.29 L1289.72,1170.21 L1288.35,1170.08 L1287,1169.88 L1285.67,1169.62 L1284.39,1169.3 L1283.17,1168.93 L1282,1168.51 L1280.91,1168.04 L1279.89,1167.52 L1278.96,1166.97 L1278.12,1166.38 L1277.39,1165.75 L1276.76,1165.11 L1276.24,1164.43 L1275.83,1163.75 L1275.54,1163.05 L1275.37,1162.34Z" fill="url(#gd10)" stroke="#608661" stroke-width="0.7" stroke-opacity="0.7" stroke-linejoin="round"/>
<path d="M1305.23,1123.25 L1306.07,1122.73 L1306.81,1122.18 L1307.44,1121.59 L1307.96,1120.98 L1308.37,1120.34 L1308.65,1119.68 L1308.82,1119.01 L1308.86,1118.33 L1308.79,1117.65 L1308.59,1116.98 L1308.27,1116.3 L1307.84,1115.65 L1307.3,1115.01 L1306.64,1114.39 L1305.89,1113.79 L1305.03,1113.23 L1304.09,1112.71 L1303.06,1112.22 L1301.95,1111.78 L1300.78,1111.38 L1299.55,1111.03 L1298.27,1110.73 L1296.95,1110.49 L1295.6,1110.3 L1294.23,1110.17 L1292.85,1110.09 L1291.47,1110.08 L1290.1,1110.12 L1288.75,1110.22 L1287.44,1110.38 L1286.16,1110.59 L1284.93,1110.86 L1283.77,1111.18 L1282.67,1111.56 L1281.64,1111.98 L1280.71,1112.44 L1279.86,1112.95 L1279.11,1113.49 L1278.46,1114.07 L1277.92,1114.67 L1277.5,1115.3 L1277.19,1115.95 L1277,1116.62 L1276.93,1117.29 L1276.99,1117.97 L1277.16,1118.65 L1277.45,1119.33 L1277.87,1119.99 L1278.4,1120.64 L1279.03,1121.27 L1279.78,1121.87 L1280.63,1122.44 L1281.57,1122.98 L1282.6,1123.48 L1283.71,1123.93 L1284.89,1124.34 L1286.14,1124.7 L1287.43,1125.01 L1288.77,1125.26 L1290.15,1125.45 L1291.54,1125.59 L1292.94,1125.67 L1294.35,1125.68 L1295.74,1125.64 L1297.11,1125.53 L1298.44,1125.37 L1299.74,1125.15 L1300.98,1124.87 L1302.16,1124.54 L1303.26,1124.15 L1304.29,1123.72Z" fill="#77a678" stroke="#4e6c4e" stroke-width="1.2"/>
<path d="M1402.38,1159.47 L1405.79,1112.77 L1405.88,1112.11 L1406.1,1111.46 L1406.43,1110.84 L1406.88,1110.24 L1407.44,1109.67 L1408.11,1109.13 L1408.88,1108.63 L1409.74,1108.17 L1410.7,1107.75 L1411.74,1107.38 L1412.85,1107.06 L1414.03,1106.8 L1415.27,1106.58 L1416.56,1106.43 L1417.88,1106.33 L1419.23,1106.29 L1420.61,1106.3 L1421.99,1106.38 L1423.37,1106.51 L1424.73,1106.69 L1426.08,1106.93 L1427.39,1107.23 L1428.66,1107.58 L1429.88,1107.97 L1431.04,1108.41 L1432.13,1108.89 L1433.15,1109.42 L1434.07,1109.97 L1434.91,1110.56 L1435.65,1111.17 L1436.28,1111.81 L1436.8,1112.46 L1437.21,1113.13 L1437.5,1113.8 L1437.67,1114.48 L1437.73,1115.15 L1433.88,1161.9 L1433.81,1162.59 L1433.61,1163.27 L1433.3,1163.92 L1432.88,1164.56 L1432.33,1165.16 L1431.68,1165.73 L1430.93,1166.27 L1430.08,1166.76 L1429.13,1167.2 L1428.1,1167.6 L1426.99,1167.94 L1425.81,1168.23 L1424.57,1168.46 L1423.29,1168.63 L1421.96,1168.73 L1420.6,1168.78 L1419.22,1168.77 L1417.84,1168.69 L1416.45,1168.55 L1415.08,1168.35 L1413.74,1168.1 L1412.43,1167.78 L1411.16,1167.41 L1409.94,1166.99 L1408.8,1166.53 L1407.72,1166.02 L1406.72,1165.46 L1405.81,1164.88 L1405,1164.26 L1404.29,1163.61 L1403.68,1162.94 L1403.19,1162.26 L1402.81,1161.57 L1402.54,1160.87 L1402.4,1160.17Z" fill="url(#gd15)" stroke="#608661" stroke-width="0.7" stroke-opacity="0.7" stroke-linejoin="round"/>
<path d="M1434.76,1119.35 L1435.52,1118.84 L1436.18,1118.29 L1436.72,1117.71 L1437.15,1117.1 L1437.46,1116.46 L1437.66,1115.81 L1437.73,1115.15 L1437.67,1114.48 L1437.5,1113.8 L1437.21,1113.13 L1436.8,1112.46 L1436.28,1111.81 L1435.65,1111.17 L1434.91,1110.56 L1434.07,1109.97 L1433.15,1109.42 L1432.13,1108.89 L1431.04,1108.41 L1429.88,1107.97 L1428.66,1107.58 L1427.39,1107.23 L1426.08,1106.93 L1424.73,1106.69 L1423.36,1106.51 L1421.99,1106.37 L1420.6,1106.3 L1419.23,1106.29 L1417.88,1106.33 L1416.55,1106.43 L1415.27,1106.58 L1414.03,1106.8 L1412.85,1107.06 L1411.74,1107.38 L1410.7,1107.75 L1409.74,1108.17 L1408.88,1108.63 L1408.11,1109.13 L1407.44,1109.67 L1406.88,1110.24 L1406.43,1110.84 L1406.1,1111.46 L1405.88,1112.11 L1405.79,1112.77 L1405.82,1113.44 L1405.97,1114.12 L1406.24,1114.79 L1406.62,1115.46 L1407.13,1116.12 L1407.74,1116.76 L1408.47,1117.38 L1409.29,1117.98 L1410.22,1118.55 L1411.23,1119.08 L1412.32,1119.58 L1413.49,1120.03 L1414.72,1120.43 L1416.01,1120.79 L1417.34,1121.09 L1418.7,1121.34 L1420.09,1121.54 L1421.5,1121.67 L1422.9,1121.75 L1424.3,1121.76 L1425.67,1121.72 L1427.02,1121.62 L1428.32,1121.45 L1429.58,1121.23 L1430.77,1120.96 L1431.89,1120.63 L1432.94,1120.25 L1433.89,1119.82Z" fill="#77a678" stroke="#4e6c4e" stroke-width="1.2"/>
<path d="M1080.76,1191.9 L1080.86,1191.14 L1081.08,1190.38 L1081.42,1189.64 L1081.89,1188.92 L1082.47,1188.21 L1083.16,1187.54 L1083.96,1186.89 L1084.86,1186.28 L1085.85,1185.72 L1086.93,1185.2 L1088.08,1184.73 L1089.3,1184.31 L1090.58,1183.95 L1091.91,1183.65 L1093.29,1183.41 L1094.69,1183.23 L1096.11,1183.11 L1097.54,1183.06 L1098.96,1183.08 L1100.38,1183.16 L1101.77,1183.3 L1103.12,1183.51 L1104.44,1183.78 L1105.7,1184.11 L1106.9,1184.5 L1108.02,1184.94 L1109.07,1185.43 L1110.03,1185.97 L1110.89,1186.56 L1111.65,1187.18 L1112.3,1187.84 L1112.84,1188.53 L1113.27,1189.24 L1113.57,1189.98 L1113.75,1190.73 L1113.8,1191.48 L1113.88,1198.5 L1113.8,1199.27 L1113.61,1200.03 L1113.29,1200.78 L1112.84,1201.51 L1112.28,1202.23 L1111.61,1202.92 L1110.82,1203.58 L1109.93,1204.2 L1108.95,1204.79 L1107.87,1205.32 L1106.72,1205.81 L1105.49,1206.24 L1104.19,1206.61 L1102.85,1206.93 L1101.46,1207.18 L1100.04,1207.37 L1098.6,1207.49 L1097.15,1207.54 L1095.7,1207.52 L1094.26,1207.44 L1092.85,1207.29 L1091.48,1207.08 L1090.15,1206.8 L1088.87,1206.46 L1087.66,1206.06 L1086.53,1205.6 L1085.48,1205.09 L1084.53,1204.53 L1083.67,1203.93 L1082.92,1203.29 L1082.29,1202.62 L1081.76,1201.92 L1081.36,1201.19 L1081.08,1200.44 L1080.93,1199.69 L1080.9,1198.92Z" fill="url(#gd1)" stroke="#9d7d5e" stroke-width="0.7" stroke-opacity="0.7" stroke-linejoin="round"/>
<path d="M1108.86,1197.73 L1109.85,1197.15 L1110.74,1196.53 L1111.53,1195.88 L1112.21,1195.19 L1112.77,1194.48 L1113.21,1193.75 L1113.53,1193 L1113.73,1192.24 L1113.8,1191.48 L1113.75,1190.73 L1113.57,1189.98 L1113.27,1189.24 L1112.84,1188.53 L1112.3,1187.84 L1111.65,1187.18 L1110.89,1186.56 L1110.03,1185.97 L1109.07,1185.43 L1108.02,1184.94 L1106.9,1184.5 L1105.7,1184.11 L1104.44,1183.78 L1103.12,1183.51 L1101.77,1183.3 L1100.38,1183.16 L1098.96,1183.08 L1097.54,1183.06 L1096.11,1183.11 L1094.69,1183.23 L1093.29,1183.41 L1091.92,1183.65 L1090.58,1183.95 L1089.3,1184.31 L1088.08,1184.73 L1086.93,1185.2 L1085.85,1185.72 L1084.86,1186.28 L1083.96,1186.89 L1083.16,1187.54 L1082.47,1188.21 L1081.89,1188.92 L1081.42,1189.64 L1081.08,1190.39 L1080.86,1191.14 L1080.76,1191.9 L1080.79,1192.66 L1080.94,1193.41 L1081.22,1194.15 L1081.62,1194.87 L1082.15,1195.57 L1082.79,1196.24 L1083.54,1196.88 L1084.39,1197.48 L1085.35,1198.03 L1086.4,1198.54 L1087.54,1198.99 L1088.75,1199.39 L1090.02,1199.73 L1091.36,1200.01 L1092.73,1200.23 L1094.15,1200.37 L1095.59,1200.46 L1097.04,1200.47 L1098.49,1200.42 L1099.94,1200.3 L1101.36,1200.11 L1102.75,1199.86 L1104.1,1199.55 L1105.39,1199.18 L1106.63,1198.75 L1107.79,1198.27Z" fill="#c39b75" stroke="#7e644c" stroke-width="1.2"/>
<path d="M1214.42,1196.46 L1215.16,1157.36 L1215.28,1156.63 L1215.52,1155.91 L1215.89,1155.2 L1216.37,1154.52 L1216.97,1153.86 L1217.69,1153.24 L1218.5,1152.65 L1219.42,1152.1 L1220.42,1151.6 L1221.52,1151.14 L1222.68,1150.74 L1223.92,1150.39 L1225.21,1150.1 L1226.55,1149.87 L1227.93,1149.69 L1229.34,1149.58 L1230.76,1149.54 L1232.19,1149.55 L1233.62,1149.63 L1235.03,1149.77 L1236.42,1149.97 L1237.77,1150.24 L1239.08,1150.56 L1240.33,1150.93 L1241.52,1151.36 L1242.63,1151.84 L1243.67,1152.37 L1244.61,1152.94 L1245.46,1153.54 L1246.2,1154.18 L1246.84,1154.85 L1247.36,1155.55 L1247.77,1156.26 L1248.05,1156.98 L1248.2,1157.72 L1248.24,1158.45 L1247.12,1197.55 L1247.03,1198.31 L1246.81,1199.06 L1246.47,1199.79 L1246.01,1200.5 L1245.43,1201.18 L1244.74,1201.84 L1243.94,1202.46 L1243.05,1203.04 L1242.05,1203.57 L1240.97,1204.05 L1239.8,1204.48 L1238.57,1204.85 L1237.28,1205.17 L1235.93,1205.41 L1234.55,1205.6 L1233.14,1205.72 L1231.7,1205.77 L1230.26,1205.76 L1228.83,1205.68 L1227.41,1205.53 L1226.01,1205.31 L1224.66,1205.04 L1223.35,1204.7 L1222.1,1204.3 L1220.91,1203.85 L1219.8,1203.34 L1218.78,1202.79 L1217.85,1202.19 L1217.02,1201.55 L1216.3,1200.88 L1215.68,1200.18 L1215.19,1199.46 L1214.81,1198.72 L1214.56,1197.97 L1214.43,1197.21Z" fill="url(#gd6)" stroke="#608661" stroke-width="0.7" stroke-opacity="0.7" stroke-linejoin="round"/>
<path d="M1244.12,1163.78 L1245.03,1163.22 L1245.83,1162.62 L1246.53,1161.98 L1247.12,1161.31 L1247.58,1160.62 L1247.92,1159.91 L1248.14,1159.19 L1248.24,1158.45 L1248.2,1157.72 L1248.05,1156.98 L1247.77,1156.26 L1247.36,1155.54 L1246.84,1154.85 L1246.21,1154.18 L1245.46,1153.54 L1244.61,1152.94 L1243.67,1152.37 L1242.63,1151.84 L1241.52,1151.36 L1240.33,1150.93 L1239.08,1150.56 L1237.77,1150.24 L1236.42,1149.97 L1235.03,1149.77 L1233.62,1149.63 L1232.19,1149.55 L1230.76,1149.54 L1229.33,1149.58 L1227.93,1149.69 L1226.55,1149.87 L1225.21,1150.1 L1223.92,1150.39 L1222.68,1150.74 L1221.52,1151.14 L1220.43,1151.6 L1219.42,1152.1 L1218.5,1152.65 L1217.69,1153.24 L1216.97,1153.86 L1216.37,1154.52 L1215.89,1155.2 L1215.52,1155.91 L1215.28,1156.63 L1215.16,1157.36 L1215.17,1158.09 L1215.3,1158.83 L1215.56,1159.56 L1215.94,1160.28 L1216.44,1160.98 L1217.06,1161.66 L1217.79,1162.31 L1218.63,1162.93 L1219.57,1163.51 L1220.61,1164.05 L1221.73,1164.54 L1222.93,1164.98 L1224.19,1165.37 L1225.52,1165.7 L1226.89,1165.97 L1228.3,1166.18 L1229.74,1166.33 L1231.19,1166.41 L1232.65,1166.42 L1234.1,1166.37 L1235.53,1166.26 L1236.93,1166.08 L1238.29,1165.84 L1239.6,1165.54 L1240.84,1165.18 L1242.02,1164.76 L1243.11,1164.29Z" fill="#77a678" stroke="#4e6c4e" stroke-width="1.2"/>
<path d="M1346.6,1194.77 L1346.62,1194.02 L1348.26,1165.46 L1348.4,1164.74 L1348.66,1164.03 L1349.05,1163.35 L1349.55,1162.69 L1350.17,1162.07 L1350.89,1161.48 L1351.72,1160.93 L1352.65,1160.42 L1353.66,1159.97 L1354.76,1159.56 L1355.93,1159.21 L1357.17,1158.92 L1358.47,1158.69 L1359.81,1158.51 L1361.18,1158.4 L1362.58,1158.36 L1364,1158.37 L1365.42,1158.45 L1366.84,1158.59 L1368.24,1158.79 L1369.62,1159.06 L1370.95,1159.38 L1372.25,1159.75 L1373.48,1160.18 L1374.65,1160.66 L1375.75,1161.19 L1376.76,1161.76 L1377.68,1162.36 L1378.51,1163.01 L1379.23,1163.67 L1379.85,1164.37 L1380.34,1165.08 L1380.72,1165.81 L1380.98,1166.55 L1381.12,1167.28 L1381.12,1168.02 L1379.2,1196.61 L1379.09,1197.35 L1378.85,1198.08 L1378.49,1198.78 L1378,1199.46 L1377.41,1200.12 L1376.7,1200.73 L1375.88,1201.31 L1374.96,1201.83 L1373.95,1202.31 L1372.86,1202.74 L1371.68,1203.11 L1370.44,1203.42 L1369.14,1203.67 L1367.79,1203.85 L1366.4,1203.97 L1364.99,1204.02 L1363.56,1204.01 L1362.12,1203.93 L1360.69,1203.78 L1359.28,1203.57 L1357.9,1203.29 L1356.55,1202.95 L1355.26,1202.56 L1354.02,1202.11 L1352.86,1201.61 L1351.77,1201.06 L1350.77,1200.46 L1349.86,1199.83 L1349.05,1199.16 L1348.35,1198.47 L1347.76,1197.75 L1347.29,1197.02 L1346.94,1196.27 L1346.7,1195.52Z" fill="url(#gd11)" stroke="#9d7d5e" stroke-width="0.7" stroke-opacity="0.7" stroke-linejoin="round"/>
<path d="M1377.78,1172.61 L1378.6,1172.05 L1379.32,1171.45 L1379.92,1170.81 L1380.4,1170.15 L1380.77,1169.46 L1381.01,1168.74 L1381.12,1168.02 L1381.12,1167.28 L1380.98,1166.54 L1380.72,1165.81 L1380.34,1165.08 L1379.84,1164.37 L1379.23,1163.68 L1378.51,1163.01 L1377.69,1162.36 L1376.76,1161.76 L1375.75,1161.19 L1374.65,1160.66 L1373.48,1160.18 L1372.25,1159.75 L1370.96,1159.38 L1369.62,1159.06 L1368.24,1158.79 L1366.84,1158.59 L1365.42,1158.45 L1364,1158.37 L1362.58,1158.36 L1361.18,1158.4 L1359.81,1158.51 L1358.47,1158.69 L1357.17,1158.92 L1355.94,1159.21 L1354.76,1159.56 L1353.66,1159.97 L1352.65,1160.42 L1351.72,1160.93 L1350.89,1161.48 L1350.17,1162.07 L1349.55,1162.69 L1349.05,1163.35 L1348.66,1164.03 L1348.4,1164.74 L1348.26,1165.46 L1348.24,1166.19 L1348.35,1166.93 L1348.59,1167.67 L1348.94,1168.4 L1349.42,1169.12 L1350.02,1169.82 L1350.72,1170.5 L1351.54,1171.15 L1352.46,1171.77 L1353.47,1172.35 L1354.57,1172.89 L1355.74,1173.39 L1356.99,1173.83 L1358.3,1174.22 L1359.65,1174.55 L1361.05,1174.82 L1362.47,1175.03 L1363.92,1175.17 L1365.36,1175.25 L1366.81,1175.27 L1368.23,1175.22 L1369.63,1175.1 L1370.99,1174.92 L1372.3,1174.68 L1373.55,1174.38 L1374.74,1174.02 L1375.84,1173.6 L1376.86,1173.13Z" fill="#c39b75" stroke="#7e644c" stroke-width="1.2"/>
<path d="M1148.65,1229.54 L1148.7,1228.72 L1148.88,1227.91 L1149.18,1227.11 L1149.61,1226.33 L1150.16,1225.58 L1150.82,1224.85 L1151.6,1224.16 L1152.49,1223.51 L1153.47,1222.9 L1154.55,1222.34 L1155.7,1221.83 L1156.93,1221.38 L1158.23,1221 L1159.58,1220.67 L1160.98,1220.41 L1162.41,1220.22 L1163.87,1220.09 L1165.34,1220.04 L1166.82,1220.05 L1168.28,1220.14 L1169.73,1220.29 L1171.14,1220.51 L1172.52,1220.8 L1173.85,1221.15 L1175.11,1221.57 L1176.3,1222.04 L1177.42,1222.57 L1178.45,1223.15 L1179.38,1223.78 L1180.21,1224.44 L1180.93,1225.15 L1181.54,1225.89 L1182.03,1226.66 L1182.39,1227.45 L1182.63,1228.25 L1182.74,1229.06 L1182.69,1234.37 L1182.67,1235.18 L1182.53,1236 L1182.25,1236.81 L1181.84,1237.6 L1181.32,1238.36 L1180.67,1239.11 L1179.9,1239.81 L1179.03,1240.48 L1178.05,1241.11 L1176.98,1241.68 L1175.82,1242.2 L1174.58,1242.67 L1173.27,1243.07 L1171.9,1243.41 L1170.49,1243.68 L1169.03,1243.88 L1167.55,1244.01 L1166.06,1244.07 L1164.56,1244.06 L1163.07,1243.97 L1161.6,1243.81 L1160.16,1243.58 L1158.77,1243.28 L1157.43,1242.92 L1156.15,1242.49 L1154.95,1242 L1153.83,1241.45 L1152.8,1240.86 L1151.88,1240.21 L1151.06,1239.53 L1150.35,1238.81 L1149.76,1238.05 L1149.29,1237.27 L1148.95,1236.47 L1148.74,1235.66 L1148.66,1234.85Z" fill="url(#gd2)" stroke="#9d7d5e" stroke-width="0.7" stroke-opacity="0.7" stroke-linejoin="round"/>
<path d="M1178.1,1235.78 L1179.08,1235.15 L1179.95,1234.49 L1180.72,1233.78 L1181.37,1233.04 L1181.89,1232.28 L1182.3,1231.49 L1182.58,1230.69 L1182.73,1229.88 L1182.74,1229.06 L1182.63,1228.25 L1182.39,1227.45 L1182.03,1226.66 L1181.54,1225.89 L1180.93,1225.15 L1180.21,1224.44 L1179.38,1223.78 L1178.45,1223.15 L1177.42,1222.57 L1176.3,1222.04 L1175.11,1221.57 L1173.85,1221.15 L1172.52,1220.8 L1171.14,1220.51 L1169.73,1220.29 L1168.28,1220.14 L1166.82,1220.05 L1165.34,1220.04 L1163.87,1220.09 L1162.42,1220.22 L1160.98,1220.41 L1159.58,1220.67 L1158.23,1221 L1156.93,1221.38 L1155.7,1221.83 L1154.54,1222.34 L1153.47,1222.9 L1152.49,1223.5 L1151.6,1224.16 L1150.82,1224.85 L1150.16,1225.58 L1149.61,1226.33 L1149.18,1227.11 L1148.88,1227.91 L1148.7,1228.72 L1148.65,1229.54 L1148.74,1230.35 L1148.95,1231.16 L1149.29,1231.95 L1149.76,1232.73 L1150.35,1233.48 L1151.06,1234.2 L1151.88,1234.88 L1152.81,1235.53 L1153.84,1236.12 L1154.96,1236.66 L1156.16,1237.15 L1157.44,1237.58 L1158.78,1237.94 L1160.18,1238.24 L1161.62,1238.47 L1163.09,1238.63 L1164.58,1238.71 L1166.08,1238.73 L1167.58,1238.67 L1169.06,1238.54 L1170.52,1238.34 L1171.94,1238.07 L1173.31,1237.73 L1174.62,1237.33 L1175.86,1236.87 L1177.02,1236.35Z" fill="#c39b75" stroke="#7e644c" stroke-width="1.2"/>
<path d="M1286.4,1232.09 L1286.94,1218.73 L1287.01,1217.93 L1287.2,1217.15 L1287.52,1216.38 L1287.96,1215.63 L1288.53,1214.91 L1289.21,1214.23 L1290,1213.58 L1290.9,1212.98 L1291.89,1212.43 L1292.97,1211.93 L1294.14,1211.49 L1295.38,1211.11 L1296.68,1210.79 L1298.03,1210.53 L1299.43,1210.34 L1300.86,1210.22 L1302.32,1210.16 L1303.79,1210.18 L1305.26,1210.26 L1306.71,1210.41 L1308.15,1210.63 L1309.56,1210.92 L1310.92,1211.27 L1312.24,1211.67 L1313.49,1212.14 L1314.67,1212.66 L1315.77,1213.24 L1316.79,1213.86 L1317.7,1214.52 L1318.52,1215.22 L1319.22,1215.95 L1319.81,1216.7 L1320.28,1217.48 L1320.62,1218.28 L1320.84,1219.08 L1320.93,1219.88 L1320.9,1220.69 L1320.22,1234.05 L1320.06,1234.85 L1319.76,1235.63 L1319.34,1236.4 L1318.8,1237.13 L1318.13,1237.84 L1317.36,1238.5 L1316.47,1239.12 L1315.48,1239.69 L1314.4,1240.21 L1313.23,1240.67 L1311.99,1241.07 L1310.67,1241.41 L1309.31,1241.68 L1307.89,1241.88 L1306.44,1242.01 L1304.96,1242.06 L1303.47,1242.05 L1301.98,1241.96 L1300.51,1241.8 L1299.05,1241.58 L1297.62,1241.28 L1296.25,1240.92 L1294.92,1240.49 L1293.66,1240.01 L1292.48,1239.46 L1291.38,1238.87 L1290.38,1238.23 L1289.47,1237.55 L1288.67,1236.83 L1287.99,1236.09 L1287.42,1235.31 L1286.98,1234.52 L1286.66,1233.71 L1286.47,1232.9Z" fill="url(#gd7)" stroke="#9d7d5e" stroke-width="0.7" stroke-opacity="0.7" stroke-linejoin="round"/>
<path d="M1317.13,1225.71 L1318.02,1225.1 L1318.8,1224.44 L1319.47,1223.74 L1320.01,1223.01 L1320.43,1222.26 L1320.73,1221.48 L1320.9,1220.69 L1320.94,1219.88 L1320.84,1219.08 L1320.62,1218.28 L1320.28,1217.48 L1319.81,1216.7 L1319.22,1215.95 L1318.52,1215.22 L1317.7,1214.52 L1316.79,1213.86 L1315.77,1213.24 L1314.67,1212.66 L1313.49,1212.14 L1312.24,1211.68 L1310.93,1211.27 L1309.56,1210.92 L1308.15,1210.63 L1306.71,1210.41 L1305.26,1210.26 L1303.79,1210.18 L1302.32,1210.16 L1300.86,1210.22 L1299.43,1210.34 L1298.03,1210.53 L1296.68,1210.79 L1295.38,1211.11 L1294.14,1211.49 L1292.97,1211.93 L1291.89,1212.43 L1290.9,1212.98 L1290,1213.58 L1289.21,1214.23 L1288.53,1214.91 L1287.97,1215.63 L1287.52,1216.38 L1287.2,1217.15 L1287.01,1217.93 L1286.94,1218.73 L1287.01,1219.54 L1287.2,1220.34 L1287.52,1221.14 L1287.97,1221.93 L1288.54,1222.7 L1289.23,1223.44 L1290.03,1224.15 L1290.94,1224.82 L1291.95,1225.46 L1293.05,1226.05 L1294.24,1226.58 L1295.5,1227.06 L1296.83,1227.49 L1298.21,1227.84 L1299.64,1228.14 L1301.11,1228.37 L1302.59,1228.52 L1304.09,1228.61 L1305.58,1228.62 L1307.06,1228.57 L1308.52,1228.44 L1309.94,1228.24 L1311.32,1227.98 L1312.63,1227.64 L1313.88,1227.25 L1315.05,1226.79 L1316.14,1226.28Z" fill="#c39b75" stroke="#7e644c" stroke-width="1.2"/>
<path d="M1221.27,1272.47 L1221.42,1265.67 L1221.54,1264.8 L1221.8,1263.95 L1222.18,1263.11 L1222.69,1262.3 L1223.33,1261.51 L1224.08,1260.77 L1224.95,1260.07 L1225.92,1259.42 L1226.99,1258.82 L1228.15,1258.27 L1229.39,1257.79 L1230.71,1257.37 L1232.08,1257.02 L1233.51,1256.74 L1234.98,1256.53 L1236.47,1256.4 L1237.99,1256.34 L1239.52,1256.35 L1241.04,1256.44 L1242.55,1256.61 L1244.03,1256.84 L1245.47,1257.15 L1246.87,1257.53 L1248.21,1257.97 L1249.48,1258.48 L1250.67,1259.04 L1251.78,1259.66 L1252.79,1260.34 L1253.7,1261.06 L1254.5,1261.81 L1255.19,1262.61 L1255.75,1263.43 L1256.19,1264.28 L1256.49,1265.14 L1256.67,1266.01 L1256.71,1266.89 L1256.49,1273.68 L1256.4,1274.56 L1256.17,1275.43 L1255.82,1276.28 L1255.33,1277.1 L1254.71,1277.9 L1253.97,1278.66 L1253.12,1279.38 L1252.16,1280.05 L1251.09,1280.67 L1249.93,1281.24 L1248.68,1281.74 L1247.36,1282.17 L1245.96,1282.54 L1244.52,1282.83 L1243.03,1283.05 L1241.51,1283.19 L1239.96,1283.25 L1238.41,1283.24 L1236.87,1283.14 L1235.33,1282.97 L1233.83,1282.73 L1232.37,1282.41 L1230.95,1282.02 L1229.6,1281.56 L1228.32,1281.03 L1227.12,1280.45 L1226.02,1279.81 L1225.01,1279.12 L1224.11,1278.38 L1223.33,1277.6 L1222.66,1276.79 L1222.12,1275.96 L1221.71,1275.1 L1221.43,1274.23 L1221.29,1273.35Z" fill="url(#gd3)" stroke="#9d7d5e" stroke-width="0.7" stroke-opacity="0.7" stroke-linejoin="round"/>
<path d="M1252.37,1273.23 L1253.33,1272.56 L1254.19,1271.84 L1254.93,1271.08 L1255.54,1270.29 L1256.03,1269.47 L1256.39,1268.62 L1256.62,1267.76 L1256.71,1266.89 L1256.67,1266.01 L1256.49,1265.14 L1256.19,1264.28 L1255.75,1263.43 L1255.19,1262.61 L1254.5,1261.81 L1253.7,1261.06 L1252.79,1260.34 L1251.78,1259.67 L1250.67,1259.04 L1249.48,1258.48 L1248.21,1257.97 L1246.87,1257.53 L1245.47,1257.15 L1244.03,1256.84 L1242.55,1256.61 L1241.04,1256.44 L1239.52,1256.35 L1237.99,1256.34 L1236.48,1256.4 L1234.98,1256.53 L1233.51,1256.74 L1232.08,1257.02 L1230.71,1257.37 L1229.39,1257.79 L1228.15,1258.27 L1226.99,1258.82 L1225.92,1259.42 L1224.95,1260.07 L1224.08,1260.77 L1223.33,1261.51 L1222.69,1262.3 L1222.18,1263.11 L1221.79,1263.95 L1221.54,1264.8 L1221.42,1265.67 L1221.43,1266.55 L1221.58,1267.42 L1221.86,1268.29 L1222.27,1269.15 L1222.81,1269.98 L1223.48,1270.78 L1224.26,1271.56 L1225.16,1272.29 L1226.17,1272.98 L1227.28,1273.62 L1228.48,1274.2 L1229.76,1274.72 L1231.12,1275.18 L1232.53,1275.57 L1234,1275.89 L1235.51,1276.13 L1237.04,1276.3 L1238.6,1276.4 L1240.15,1276.41 L1241.7,1276.35 L1243.22,1276.21 L1244.71,1275.99 L1246.16,1275.7 L1247.56,1275.34 L1248.88,1274.9 L1250.13,1274.41 L1251.3,1273.85Z" fill="#c39b75" stroke="#7e644c" stroke-width="1.2"/>
<path d="M950.05,817.11 L968.42,1165.91" fill="none" stroke="#111" stroke-width="2.0"/>
<path d="M968.42,1165.91 L1247.81,1318.07" fill="none" stroke="#000" stroke-width="1.95"/>
<path d="M1239.24,1318.42 L1481.2,1159.95 L1485.8,1161.9" fill="none" stroke="#000" stroke-width="1.95" stroke-linejoin="round"/>
<line x1="968.42" y1="1165.91" x2="960.49" y2="1169.73" stroke="#111" stroke-width="2" />
<text transform="matrix(0.8090,-0.3899,0.0505,0.8989,956.75,1171.53)" font-size="20" text-anchor="end" y="6.6" fill="#111" stroke="#111" stroke-width="0.3" font-style="italic">0.00</text>
<line x1="967.02" y1="1139.31" x2="962.49" y2="1141.43" stroke="#111" stroke-width="1.8" />
<line x1="965.59" y1="1112.3" x2="957.58" y2="1115.93" stroke="#111" stroke-width="2" />
<text transform="matrix(0.8229,-0.3729,0.0521,0.9272,953.72,1117.68)" font-size="20" text-anchor="end" y="6.6" fill="#111" stroke="#111" stroke-width="0.3" font-style="italic">0.05</text>
<line x1="964.15" y1="1084.86" x2="959.57" y2="1086.87" stroke="#111" stroke-width="1.8" />
<line x1="962.68" y1="1056.99" x2="954.58" y2="1060.42" stroke="#111" stroke-width="2" />
<text transform="matrix(0.8374,-0.3547,0.0537,0.9569,950.6,1062.11)" font-size="20" text-anchor="end" y="6.6" fill="#111" stroke="#111" stroke-width="0.3" font-style="italic">0.10</text>
<line x1="961.19" y1="1028.68" x2="956.56" y2="1030.57" stroke="#111" stroke-width="1.8" />
<line x1="959.68" y1="999.91" x2="951.49" y2="1003.13" stroke="#111" stroke-width="2" />
<text transform="matrix(0.8523,-0.3351,0.0555,0.9881,947.38,1004.74)" font-size="20" text-anchor="end" y="6.6" fill="#111" stroke="#111" stroke-width="0.3" font-style="italic">0.15</text>
<line x1="958.14" y1="970.68" x2="953.46" y2="972.44" stroke="#111" stroke-width="1.8" />
<line x1="956.57" y1="940.97" x2="948.3" y2="943.96" stroke="#111" stroke-width="2" />
<text transform="matrix(0.8678,-0.3139,0.0573,1.0209,944.06,945.5)" font-size="20" text-anchor="end" y="6.6" fill="#111" stroke="#111" stroke-width="0.3" font-style="italic">0.20</text>
<line x1="954.98" y1="910.77" x2="950.26" y2="912.4" stroke="#111" stroke-width="1.8" />
<line x1="953.37" y1="880.07" x2="945.01" y2="882.82" stroke="#111" stroke-width="2" />
<text transform="matrix(0.8839,-0.2912,0.0592,1.0552,940.62,884.27)" font-size="20" text-anchor="end" y="6.6" fill="#111" stroke="#111" stroke-width="0.3" font-style="italic">0.25</text>
<line x1="951.72" y1="848.86" x2="946.95" y2="850.35" stroke="#111" stroke-width="1.8" />
<line x1="950.05" y1="817.11" x2="941.61" y2="819.61" stroke="#111" stroke-width="2" />
<text transform="matrix(0.9005,-0.2668,0.0613,1.0914,937.07,820.96)" font-size="20" text-anchor="end" y="6.6" fill="#111" stroke="#111" stroke-width="0.3" font-style="italic">0.30</text>
<line x1="998.82" y1="1182.46" x2="991.21" y2="1186.26" stroke="#000" stroke-width="2" />
<text transform="matrix(0.8096,-0.4037,0.6982,0.3850,986.85,1188.43)" font-size="20" text-anchor="end" y="6.6" fill="#111" stroke="#111" stroke-width="0.3" font-style="italic">380</text>
<line x1="1030.24" y1="1199.57" x2="1026.24" y2="1201.64" stroke="#000" stroke-width="1.8" />
<line x1="1062.73" y1="1217.27" x2="1055.24" y2="1221.28" stroke="#000" stroke-width="2" />
<text transform="matrix(0.8091,-0.4332,0.7471,0.4119,1050.78,1223.67)" font-size="20" text-anchor="end" y="6.6" fill="#111" stroke="#111" stroke-width="0.3" font-style="italic">410</text>
<line x1="1096.36" y1="1235.58" x2="1092.42" y2="1237.77" stroke="#000" stroke-width="1.8" />
<line x1="1131.17" y1="1254.54" x2="1123.81" y2="1258.8" stroke="#000" stroke-width="2" />
<text transform="matrix(0.8065,-0.4659,0.8013,0.4418,1119.26,1261.43)" font-size="20" text-anchor="end" y="6.6" fill="#111" stroke="#111" stroke-width="0.3" font-style="italic">440</text>
<line x1="1167.24" y1="1274.19" x2="1163.38" y2="1276.51" stroke="#000" stroke-width="1.8" />
<line x1="1204.63" y1="1294.55" x2="1197.43" y2="1299.07" stroke="#000" stroke-width="2" />
<text transform="matrix(0.8013,-0.5025,0.8616,0.4750,1192.8,1301.97)" font-size="20" text-anchor="end" y="6.6" fill="#111" stroke="#111" stroke-width="0.3" font-style="italic">470</text>
<line x1="1277.49" y1="1293.37" x2="1285.01" y2="1297.32" stroke="#000" stroke-width="2" />
<text transform="matrix(0.9004,0.4733,-0.7519,0.5004,1291.73,1300.86)" font-size="20" text-anchor="start" y="6.6" fill="#111" stroke="#111" stroke-width="0.3" font-style="italic">0.001</text>
<line x1="1310.16" y1="1271.97" x2="1314.17" y2="1274.01" stroke="#000" stroke-width="1.8" />
<line x1="1341.52" y1="1251.43" x2="1349.15" y2="1255.18" stroke="#000" stroke-width="2" />
<text transform="matrix(0.8896,0.4372,-0.6925,0.4609,1355.6,1258.35)" font-size="20" text-anchor="start" y="6.6" fill="#111" stroke="#111" stroke-width="0.3" font-style="italic">0.01</text>
<line x1="1371.65" y1="1231.7" x2="1375.71" y2="1233.63" stroke="#000" stroke-width="1.8" />
<line x1="1400.62" y1="1212.73" x2="1408.34" y2="1216.29" stroke="#000" stroke-width="2" />
<text transform="matrix(0.8777,0.4052,-0.6398,0.4258,1414.51,1219.14)" font-size="20" text-anchor="start" y="6.6" fill="#111" stroke="#111" stroke-width="0.3" font-style="italic">0.1</text>
<line x1="1428.49" y1="1194.47" x2="1432.6" y2="1196.31" stroke="#000" stroke-width="1.8" />
<line x1="1455.34" y1="1176.89" x2="1463.13" y2="1180.28" stroke="#000" stroke-width="2" />
<text transform="matrix(0.8651,0.3766,-0.5930,0.3947,1469.03,1182.86)" font-size="20" text-anchor="start" y="6.6" fill="#111" stroke="#111" stroke-width="0.3" font-style="italic">1</text>
<text transform="matrix(0.8984,0.5162,-0.9794,0.5444,1044.4,1264.7)" font-size="20" text-anchor="middle" y="6" fill="#111" stroke="#111" stroke-width="0.3" font-style="italic">T(°C)</text>
<text transform="matrix(0.7911,-0.5655,1.1230,0.5358,1445.1,1269.3)" font-size="20" text-anchor="middle" y="5.4" fill="#3a3a3a" stroke="#3a3a3a" stroke-width="0.3" >Strain rate(s<tspan dy="-7" font-size="12.5">-1</tspan><tspan dy="7">)</tspan></text>
<text transform="matrix(1.1311,-0.4458,0.0928,1.2621,886.6,1030.6)" font-size="20" text-anchor="middle" y="6.6" fill="#111" stroke="#111" stroke-width="0.3" font-style="italic" font-weight="bold">MSE</text>
<text x="900.6" y="758.6" font-size="33" text-anchor="start" fill="#000" >(d)</text>
</g>
<g font-family='"Liberation Serif", "DejaVu Serif", serif'>
<rect x="757.8" y="752.2" width="37.2" height="47.7" fill="#66c2a5"/>
<rect x="757.8" y="799.6" width="37.2" height="47.7" fill="#fc8d62"/>
<rect x="757.8" y="847" width="37.2" height="47.7" fill="#b3b3b3"/>
<rect x="757.8" y="894.4" width="37.2" height="47.7" fill="#e5c494"/>
<rect x="757.8" y="941.8" width="37.2" height="47.7" fill="#ffd92f"/>
<rect x="757.8" y="989.2" width="37.2" height="47.7" fill="#a6d854"/>
<rect x="757.8" y="1036.6" width="37.2" height="47.7" fill="#e78ac3"/>
<rect x="757.8" y="1084" width="37.2" height="47.7" fill="#8da0cb"/>
<rect x="757.8" y="1131.4" width="37.2" height="47.7" fill="#66c2a5"/>
<rect x="757.8" y="1178.8" width="37.2" height="47.7" fill="#fc8d62"/>
<text x="800.5" y="758.6" font-size="16.1" text-anchor="start" fill="#000" font-weight="bold">38.00</text>
<text x="800.5" y="806" font-size="16.1" text-anchor="start" fill="#000" font-weight="bold">34.20</text>
<text x="800.5" y="853.4" font-size="16.1" text-anchor="start" fill="#000" font-weight="bold">30.40</text>
<text x="800.5" y="900.8" font-size="16.1" text-anchor="start" fill="#000" font-weight="bold">26.60</text>
<text x="800.5" y="948.2" font-size="16.1" text-anchor="start" fill="#000" font-weight="bold">22.80</text>
<text x="800.5" y="995.6" font-size="16.1" text-anchor="start" fill="#000" font-weight="bold">19.00</text>
<text x="800.5" y="1043" font-size="16.1" text-anchor="start" fill="#000" font-weight="bold">15.20</text>
<text x="800.5" y="1090.4" font-size="16.1" text-anchor="start" fill="#000" font-weight="bold">11.40</text>
<text x="800.5" y="1137.8" font-size="16.1" text-anchor="start" fill="#000" font-weight="bold">7.600</text>
<text x="800.5" y="1185.2" font-size="16.1" text-anchor="start" fill="#000" font-weight="bold">3.800</text>
<text x="800.5" y="1232.6" font-size="16.1" text-anchor="start" fill="#000" font-weight="bold">0.000</text>
<text x="759.8" y="733" font-size="28.6" text-anchor="start" fill="#000" >MSE</text>
</g>
<g font-family='"Liberation Serif", "DejaVu Serif", serif'>
<rect x="1607.6" y="762.2" width="37" height="57.25" fill="#b3e3ea"/>
<rect x="1607.6" y="819.15" width="37" height="57.25" fill="#b2b592"/>
<rect x="1607.6" y="876.1" width="37" height="57.25" fill="#ffb3fb"/>
<rect x="1607.6" y="933.05" width="37" height="57.25" fill="#9ab9f3"/>
<rect x="1607.6" y="990" width="37" height="57.25" fill="#fffea0"/>
<rect x="1607.6" y="1046.95" width="37" height="57.25" fill="#c2b0d9"/>
<rect x="1607.6" y="1103.9" width="37" height="57.25" fill="#9bd89c"/>
<rect x="1607.6" y="1160.85" width="37" height="57.25" fill="#fdc998"/>
<text x="1650.1" y="768.6" font-size="16.1" text-anchor="start" fill="#000" font-weight="bold">0.3000</text>
<text x="1650.1" y="825.55" font-size="16.1" text-anchor="start" fill="#000" font-weight="bold">0.2625</text>
<text x="1650.1" y="882.5" font-size="16.1" text-anchor="start" fill="#000" font-weight="bold">0.2250</text>
<text x="1650.1" y="939.45" font-size="16.1" text-anchor="start" fill="#000" font-weight="bold">0.1875</text>
<text x="1650.1" y="996.4" font-size="16.1" text-anchor="start" fill="#000" font-weight="bold">0.1500</text>
<text x="1650.1" y="1053.35" font-size="16.1" text-anchor="start" fill="#000" font-weight="bold">0.1125</text>
<text x="1650.1" y="1110.3" font-size="16.1" text-anchor="start" fill="#000" font-weight="bold">0.07500</text>
<text x="1650.1" y="1167.25" font-size="16.1" text-anchor="start" fill="#000" font-weight="bold">0.03750</text>
<text x="1650.1" y="1224.2" font-size="16.1" text-anchor="start" fill="#000" font-weight="bold">0.000</text>
<text x="1608.8" y="733" font-size="28.6" text-anchor="start" fill="#000" >MSE</text>
</g>
</svg>
</body></html>
